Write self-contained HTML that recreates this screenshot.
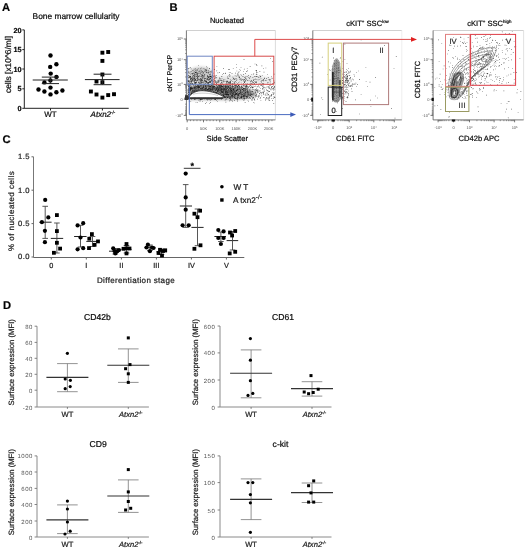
<!DOCTYPE html>
<html><head><meta charset="utf-8"><style>
html,body{margin:0;padding:0;background:#fff;}
body{width:526px;height:550px;overflow:hidden;}
svg{display:block;}
text{font-family:'Liberation Sans', sans-serif;stroke:#222;stroke-width:0.22px;}
text.t{stroke:none;}
svg{filter:blur(0.3px);text-rendering:geometricPrecision;}
</style></head><body>
<svg width="526" height="550" viewBox="0 0 526 550" font-family="'Liberation Sans', sans-serif">
<rect width="526" height="550" fill="#fff"/>
<text x="2.00" y="10.90" font-size="11.2" font-weight="bold">A</text>
<text x="32.60" y="19.30" font-size="8.37">Bone marrow cellularity</text>
<line x1="24.30" y1="29.90" x2="24.30" y2="108.60" stroke="#222" stroke-width="1"/>
<line x1="24.30" y1="108.30" x2="128.70" y2="108.30" stroke="#222" stroke-width="1"/>
<line x1="22.30" y1="29.90" x2="24.30" y2="29.90" stroke="#222" stroke-width="1"/>
<text x="21.60" y="32.50" font-size="7.3" text-anchor="end" font-weight="bold">20</text>
<line x1="22.30" y1="49.60" x2="24.30" y2="49.60" stroke="#222" stroke-width="1"/>
<text x="21.60" y="52.20" font-size="7.3" text-anchor="end" font-weight="bold">15</text>
<line x1="22.30" y1="69.00" x2="24.30" y2="69.00" stroke="#222" stroke-width="1"/>
<text x="21.60" y="71.60" font-size="7.3" text-anchor="end" font-weight="bold">10</text>
<line x1="22.30" y1="88.80" x2="24.30" y2="88.80" stroke="#222" stroke-width="1"/>
<text x="21.60" y="91.40" font-size="7.3" text-anchor="end" font-weight="bold">5</text>
<line x1="22.30" y1="108.30" x2="24.30" y2="108.30" stroke="#222" stroke-width="1"/>
<text x="21.60" y="110.90" font-size="7.3" text-anchor="end" font-weight="bold">0</text>
<line x1="50.50" y1="108.30" x2="50.50" y2="110.50" stroke="#222" stroke-width="1"/>
<line x1="102.40" y1="108.30" x2="102.40" y2="110.50" stroke="#222" stroke-width="1"/>
<text x="10.60" y="64.50" font-size="8.4" text-anchor="middle" transform="rotate(-90 10.60 64.50)">cells [x10^6/ml]</text>
<text x="50.50" y="117.30" font-size="8.0" text-anchor="middle">WT</text>
<text x="90.6" y="117.3" font-size="8.0" font-style="italic">Atxn2<tspan font-size="4.5" dy="-3.2" font-style="normal">-/-</tspan></text>
<circle cx="50.50" cy="55.50" r="2.2" fill="#000"/>
<circle cx="56.40" cy="64.20" r="2.2" fill="#000"/>
<circle cx="50.20" cy="66.90" r="2.2" fill="#000"/>
<circle cx="50.70" cy="73.60" r="2.2" fill="#000"/>
<circle cx="56.40" cy="76.90" r="2.2" fill="#000"/>
<circle cx="44.40" cy="82.40" r="2.2" fill="#000"/>
<circle cx="50.40" cy="80.40" r="2.2" fill="#000"/>
<circle cx="50.50" cy="87.60" r="2.2" fill="#000"/>
<circle cx="38.50" cy="89.50" r="2.2" fill="#000"/>
<circle cx="44.40" cy="91.50" r="2.2" fill="#000"/>
<circle cx="62.40" cy="90.50" r="2.2" fill="#000"/>
<circle cx="56.40" cy="92.20" r="2.2" fill="#000"/>
<circle cx="50.50" cy="94.40" r="2.2" fill="#000"/>
<line x1="32.70" y1="80.00" x2="67.80" y2="80.00" stroke="#222" stroke-width="1"/>
<line x1="41.80" y1="77.10" x2="59.00" y2="77.10" stroke="#222" stroke-width="1"/>
<line x1="41.80" y1="83.60" x2="59.00" y2="83.60" stroke="#222" stroke-width="1"/>
<line x1="50.40" y1="77.10" x2="50.40" y2="83.60" stroke="#222" stroke-width="1"/>
<rect x="100.45" y="50.75" width="3.9" height="3.9" fill="#000"/>
<rect x="106.25" y="50.05" width="3.9" height="3.9" fill="#000"/>
<rect x="100.45" y="58.95" width="3.9" height="3.9" fill="#000"/>
<rect x="100.45" y="72.55" width="3.9" height="3.9" fill="#000"/>
<rect x="94.55" y="79.55" width="3.9" height="3.9" fill="#000"/>
<rect x="100.45" y="80.25" width="3.9" height="3.9" fill="#000"/>
<rect x="88.95" y="89.55" width="3.9" height="3.9" fill="#000"/>
<rect x="94.55" y="92.55" width="3.9" height="3.9" fill="#000"/>
<rect x="100.45" y="95.65" width="3.9" height="3.9" fill="#000"/>
<rect x="106.25" y="93.15" width="3.9" height="3.9" fill="#000"/>
<rect x="112.05" y="92.25" width="3.9" height="3.9" fill="#000"/>
<line x1="84.90" y1="79.60" x2="119.60" y2="79.60" stroke="#222" stroke-width="1"/>
<line x1="93.60" y1="74.20" x2="111.50" y2="74.20" stroke="#222" stroke-width="1"/>
<line x1="93.60" y1="84.70" x2="111.50" y2="84.70" stroke="#222" stroke-width="1"/>
<line x1="102.40" y1="74.20" x2="102.40" y2="84.70" stroke="#222" stroke-width="1"/>
<text x="2.40" y="143.30" font-size="11.2" font-weight="bold">C</text>
<line x1="33.50" y1="156.80" x2="33.50" y2="257.50" stroke="#777" stroke-width="1"/>
<line x1="33.50" y1="257.50" x2="244.30" y2="257.50" stroke="#666" stroke-width="1"/>
<line x1="31.50" y1="257.00" x2="33.50" y2="257.00" stroke="#666" stroke-width="1"/>
<text x="30.00" y="259.40" font-size="7.6" text-anchor="end" fill="#222" letter-spacing="0.5">0.0</text>
<line x1="31.50" y1="223.60" x2="33.50" y2="223.60" stroke="#666" stroke-width="1"/>
<text x="30.00" y="226.00" font-size="7.6" text-anchor="end" fill="#222" letter-spacing="0.5">0.5</text>
<line x1="31.50" y1="190.20" x2="33.50" y2="190.20" stroke="#666" stroke-width="1"/>
<text x="30.00" y="192.60" font-size="7.6" text-anchor="end" fill="#222" letter-spacing="0.5">1.0</text>
<line x1="31.50" y1="156.80" x2="33.50" y2="156.80" stroke="#666" stroke-width="1"/>
<text x="30.00" y="159.20" font-size="7.6" text-anchor="end" fill="#222" letter-spacing="0.5">1.5</text>
<line x1="51.30" y1="257.50" x2="51.30" y2="259.50" stroke="#666" stroke-width="1"/>
<text x="51.30" y="268.30" font-size="7.3" text-anchor="middle" fill="#222">0</text>
<line x1="86.30" y1="257.50" x2="86.30" y2="259.50" stroke="#666" stroke-width="1"/>
<text x="86.30" y="268.30" font-size="7.3" text-anchor="middle" fill="#222">I</text>
<line x1="121.40" y1="257.50" x2="121.40" y2="259.50" stroke="#666" stroke-width="1"/>
<text x="121.40" y="268.30" font-size="7.3" text-anchor="middle" fill="#222">II</text>
<line x1="156.40" y1="257.50" x2="156.40" y2="259.50" stroke="#666" stroke-width="1"/>
<text x="156.40" y="268.30" font-size="7.3" text-anchor="middle" fill="#222">III</text>
<line x1="191.40" y1="257.50" x2="191.40" y2="259.50" stroke="#666" stroke-width="1"/>
<text x="191.40" y="268.30" font-size="7.3" text-anchor="middle" fill="#222">IV</text>
<line x1="226.40" y1="257.50" x2="226.40" y2="259.50" stroke="#666" stroke-width="1"/>
<text x="226.40" y="268.30" font-size="7.3" text-anchor="middle" fill="#222">V</text>
<text x="136.00" y="283.00" font-size="8.0" text-anchor="middle" fill="#222" letter-spacing="0.33">Differentiation stage</text>
<text x="14.40" y="210.90" font-size="8.0" text-anchor="middle" fill="#222" letter-spacing="0.45" transform="rotate(-90 14.40 210.90)">% of nucleated cells</text>
<line x1="39.40" y1="222.20" x2="51.60" y2="222.20" stroke="#222" stroke-width="1"/>
<line x1="45.20" y1="206.30" x2="45.20" y2="238.40" stroke="#444" stroke-width="0.9"/>
<line x1="42.40" y1="206.30" x2="48.00" y2="206.30" stroke="#444" stroke-width="0.9"/>
<line x1="42.40" y1="238.40" x2="48.00" y2="238.40" stroke="#444" stroke-width="0.9"/>
<circle cx="45.20" cy="199.90" r="2.1" fill="#000"/>
<circle cx="48.30" cy="217.40" r="2.1" fill="#000"/>
<circle cx="41.90" cy="222.20" r="2.1" fill="#000"/>
<circle cx="44.90" cy="230.80" r="2.1" fill="#000"/>
<circle cx="44.90" cy="242.20" r="2.1" fill="#000"/>
<line x1="50.80" y1="238.40" x2="63.20" y2="238.40" stroke="#222" stroke-width="1"/>
<line x1="56.90" y1="223.00" x2="56.90" y2="253.00" stroke="#444" stroke-width="0.9"/>
<line x1="54.10" y1="223.00" x2="59.70" y2="223.00" stroke="#444" stroke-width="0.9"/>
<line x1="54.10" y1="253.00" x2="59.70" y2="253.00" stroke="#444" stroke-width="0.9"/>
<rect x="55.00" y="213.20" width="3.8" height="3.8" fill="#000"/>
<rect x="55.00" y="229.20" width="3.8" height="3.8" fill="#000"/>
<rect x="55.00" y="240.90" width="3.8" height="3.8" fill="#000"/>
<rect x="58.20" y="246.70" width="3.8" height="3.8" fill="#000"/>
<rect x="52.00" y="250.90" width="3.8" height="3.8" fill="#000"/>
<line x1="74.10" y1="236.50" x2="86.60" y2="236.50" stroke="#222" stroke-width="1"/>
<line x1="80.50" y1="225.30" x2="80.50" y2="247.00" stroke="#444" stroke-width="0.9"/>
<line x1="77.70" y1="225.30" x2="83.30" y2="225.30" stroke="#444" stroke-width="0.9"/>
<line x1="77.70" y1="247.00" x2="83.30" y2="247.00" stroke="#444" stroke-width="0.9"/>
<circle cx="77.60" cy="225.40" r="2.1" fill="#000"/>
<circle cx="83.20" cy="223.20" r="2.1" fill="#000"/>
<circle cx="80.50" cy="237.50" r="2.1" fill="#000"/>
<circle cx="77.60" cy="249.30" r="2.1" fill="#000"/>
<circle cx="83.20" cy="248.20" r="2.1" fill="#000"/>
<line x1="86.30" y1="241.40" x2="98.40" y2="241.40" stroke="#222" stroke-width="1"/>
<line x1="92.50" y1="236.50" x2="92.50" y2="246.50" stroke="#444" stroke-width="0.9"/>
<line x1="89.70" y1="236.50" x2="95.30" y2="236.50" stroke="#444" stroke-width="0.9"/>
<line x1="89.70" y1="246.50" x2="95.30" y2="246.50" stroke="#444" stroke-width="0.9"/>
<rect x="90.00" y="232.20" width="3.8" height="3.8" fill="#000"/>
<rect x="87.40" y="236.80" width="3.8" height="3.8" fill="#000"/>
<rect x="96.10" y="239.50" width="3.8" height="3.8" fill="#000"/>
<rect x="92.70" y="242.90" width="3.8" height="3.8" fill="#000"/>
<rect x="87.10" y="246.20" width="3.8" height="3.8" fill="#000"/>
<line x1="109.00" y1="251.20" x2="120.00" y2="251.20" stroke="#222" stroke-width="1"/>
<line x1="115.30" y1="248.50" x2="115.30" y2="254.00" stroke="#444" stroke-width="0.9"/>
<line x1="112.50" y1="248.50" x2="118.10" y2="248.50" stroke="#444" stroke-width="0.9"/>
<line x1="112.50" y1="254.00" x2="118.10" y2="254.00" stroke="#444" stroke-width="0.9"/>
<circle cx="113.20" cy="248.30" r="2.1" fill="#000"/>
<circle cx="117.30" cy="251.20" r="2.1" fill="#000"/>
<circle cx="115.30" cy="253.40" r="2.1" fill="#000"/>
<circle cx="119.00" cy="250.00" r="2.1" fill="#000"/>
<circle cx="114.50" cy="251.00" r="2.1" fill="#000"/>
<line x1="121.50" y1="249.40" x2="131.50" y2="249.40" stroke="#222" stroke-width="1"/>
<line x1="126.50" y1="245.50" x2="126.50" y2="253.00" stroke="#444" stroke-width="0.9"/>
<line x1="123.70" y1="245.50" x2="129.30" y2="245.50" stroke="#444" stroke-width="0.9"/>
<line x1="123.70" y1="253.00" x2="129.30" y2="253.00" stroke="#444" stroke-width="0.9"/>
<rect x="124.60" y="242.10" width="3.8" height="3.8" fill="#000"/>
<rect x="124.60" y="246.40" width="3.8" height="3.8" fill="#000"/>
<rect x="121.60" y="246.90" width="3.8" height="3.8" fill="#000"/>
<rect x="127.60" y="246.60" width="3.8" height="3.8" fill="#000"/>
<rect x="124.60" y="251.50" width="3.8" height="3.8" fill="#000"/>
<line x1="144.50" y1="247.70" x2="155.50" y2="247.70" stroke="#222" stroke-width="1"/>
<line x1="149.90" y1="245.00" x2="149.90" y2="250.50" stroke="#444" stroke-width="0.9"/>
<line x1="147.10" y1="245.00" x2="152.70" y2="245.00" stroke="#444" stroke-width="0.9"/>
<line x1="147.10" y1="250.50" x2="152.70" y2="250.50" stroke="#444" stroke-width="0.9"/>
<circle cx="147.90" cy="244.70" r="2.1" fill="#000"/>
<circle cx="152.00" cy="247.50" r="2.1" fill="#000"/>
<circle cx="149.90" cy="251.20" r="2.1" fill="#000"/>
<circle cx="153.50" cy="248.00" r="2.1" fill="#000"/>
<circle cx="146.50" cy="247.50" r="2.1" fill="#000"/>
<line x1="156.50" y1="251.80" x2="167.00" y2="251.80" stroke="#222" stroke-width="1"/>
<line x1="161.50" y1="249.00" x2="161.50" y2="254.50" stroke="#444" stroke-width="0.9"/>
<line x1="158.70" y1="249.00" x2="164.30" y2="249.00" stroke="#444" stroke-width="0.9"/>
<line x1="158.70" y1="254.50" x2="164.30" y2="254.50" stroke="#444" stroke-width="0.9"/>
<rect x="158.10" y="247.90" width="3.8" height="3.8" fill="#000"/>
<rect x="161.10" y="249.10" width="3.8" height="3.8" fill="#000"/>
<rect x="160.10" y="253.60" width="3.8" height="3.8" fill="#000"/>
<rect x="163.30" y="248.40" width="3.8" height="3.8" fill="#000"/>
<rect x="156.60" y="251.10" width="3.8" height="3.8" fill="#000"/>
<line x1="179.80" y1="206.00" x2="192.00" y2="206.00" stroke="#222" stroke-width="1"/>
<line x1="185.70" y1="184.60" x2="185.70" y2="227.40" stroke="#444" stroke-width="0.9"/>
<line x1="182.90" y1="184.60" x2="188.50" y2="184.60" stroke="#444" stroke-width="0.9"/>
<line x1="182.90" y1="227.40" x2="188.50" y2="227.40" stroke="#444" stroke-width="0.9"/>
<circle cx="185.70" cy="173.60" r="2.1" fill="#000"/>
<circle cx="185.70" cy="197.40" r="2.1" fill="#000"/>
<circle cx="185.70" cy="209.70" r="2.1" fill="#000"/>
<circle cx="182.60" cy="225.30" r="2.1" fill="#000"/>
<circle cx="188.70" cy="225.30" r="2.1" fill="#000"/>
<line x1="191.40" y1="227.40" x2="203.60" y2="227.40" stroke="#222" stroke-width="1"/>
<line x1="197.50" y1="209.00" x2="197.50" y2="245.70" stroke="#444" stroke-width="0.9"/>
<line x1="194.70" y1="209.00" x2="200.30" y2="209.00" stroke="#444" stroke-width="0.9"/>
<line x1="194.70" y1="245.70" x2="200.30" y2="245.70" stroke="#444" stroke-width="0.9"/>
<rect x="192.50" y="211.80" width="3.8" height="3.8" fill="#000"/>
<rect x="198.20" y="208.80" width="3.8" height="3.8" fill="#000"/>
<rect x="195.60" y="215.30" width="3.8" height="3.8" fill="#000"/>
<rect x="198.60" y="243.40" width="3.8" height="3.8" fill="#000"/>
<rect x="192.50" y="246.90" width="3.8" height="3.8" fill="#000"/>
<line x1="214.40" y1="236.50" x2="226.00" y2="236.50" stroke="#222" stroke-width="1"/>
<line x1="220.90" y1="232.00" x2="220.90" y2="241.50" stroke="#444" stroke-width="0.9"/>
<line x1="218.10" y1="232.00" x2="223.70" y2="232.00" stroke="#444" stroke-width="0.9"/>
<line x1="218.10" y1="241.50" x2="223.70" y2="241.50" stroke="#444" stroke-width="0.9"/>
<circle cx="218.30" cy="230.00" r="2.1" fill="#000"/>
<circle cx="223.60" cy="231.40" r="2.1" fill="#000"/>
<circle cx="218.30" cy="238.00" r="2.1" fill="#000"/>
<circle cx="223.60" cy="238.00" r="2.1" fill="#000"/>
<circle cx="220.90" cy="244.00" r="2.1" fill="#000"/>
<line x1="226.60" y1="240.60" x2="238.20" y2="240.60" stroke="#222" stroke-width="1"/>
<line x1="232.50" y1="231.50" x2="232.50" y2="250.00" stroke="#444" stroke-width="0.9"/>
<line x1="229.70" y1="231.50" x2="235.30" y2="231.50" stroke="#444" stroke-width="0.9"/>
<line x1="229.70" y1="250.00" x2="235.30" y2="250.00" stroke="#444" stroke-width="0.9"/>
<rect x="228.10" y="230.60" width="3.8" height="3.8" fill="#000"/>
<rect x="233.30" y="229.10" width="3.8" height="3.8" fill="#000"/>
<rect x="230.20" y="233.60" width="3.8" height="3.8" fill="#000"/>
<rect x="233.30" y="249.90" width="3.8" height="3.8" fill="#000"/>
<rect x="227.80" y="251.50" width="3.8" height="3.8" fill="#000"/>
<line x1="183.80" y1="168.30" x2="200.50" y2="168.30" stroke="#222" stroke-width="0.9"/>
<text x="192.20" y="169.20" font-size="9.0" text-anchor="middle" font-weight="bold">*</text>
<circle cx="221.90" cy="186.80" r="1.8" fill="#000"/>
<rect x="220.20" y="198.30" width="3.4" height="3.4" fill="#000"/>
<text x="233.40" y="189.70" font-size="8.2" fill="#222">W T</text>
<text x="233.0" y="202.6" font-size="8.2" fill="#222">A txn2<tspan font-size="6" dy="-3.8" letter-spacing="0.3">-/-</tspan></text>
<text x="3.00" y="309.00" font-size="11.2" font-weight="bold">D</text>
<line x1="37.00" y1="326.20" x2="37.00" y2="407.00" stroke="#8a8a8a" stroke-width="1"/>
<line x1="37.00" y1="407.00" x2="148.90" y2="407.00" stroke="#8a8a8a" stroke-width="1"/>
<line x1="34.60" y1="326.20" x2="37.00" y2="326.20" stroke="#777" stroke-width="0.9"/>
<text x="33.00" y="328.70" font-size="6.0" text-anchor="end" fill="#555" letter-spacing="0.55" class="t">80</text>
<line x1="34.60" y1="342.40" x2="37.00" y2="342.40" stroke="#777" stroke-width="0.9"/>
<text x="33.00" y="344.90" font-size="6.0" text-anchor="end" fill="#555" letter-spacing="0.55" class="t">60</text>
<line x1="34.60" y1="358.30" x2="37.00" y2="358.30" stroke="#777" stroke-width="0.9"/>
<text x="33.00" y="360.80" font-size="6.0" text-anchor="end" fill="#555" letter-spacing="0.55" class="t">40</text>
<line x1="34.60" y1="374.30" x2="37.00" y2="374.30" stroke="#777" stroke-width="0.9"/>
<text x="33.00" y="376.80" font-size="6.0" text-anchor="end" fill="#555" letter-spacing="0.55" class="t">20</text>
<line x1="34.60" y1="390.20" x2="37.00" y2="390.20" stroke="#777" stroke-width="0.9"/>
<text x="33.00" y="392.70" font-size="6.0" text-anchor="end" fill="#555" letter-spacing="0.55" class="t">0</text>
<line x1="34.60" y1="407.00" x2="37.00" y2="407.00" stroke="#777" stroke-width="0.9"/>
<text x="33.00" y="409.50" font-size="6.0" text-anchor="end" fill="#555" letter-spacing="0.55" class="t">-20</text>
<line x1="67.40" y1="407.00" x2="67.40" y2="408.80" stroke="#777" stroke-width="1"/>
<line x1="128.30" y1="407.00" x2="128.30" y2="408.80" stroke="#777" stroke-width="1"/>
<text x="84.00" y="319.90" font-size="8.6">CD42b</text>
<text x="14.20" y="362.30" font-size="7.7" text-anchor="middle" fill="#222" transform="rotate(-90 14.20 362.30)">Surface expression (MFI)</text>
<text x="67.40" y="417.30" font-size="7.6" text-anchor="middle" fill="#222">WT</text>
<text x="119.00" y="417.30" font-size="7.6" font-style="italic" fill="#222">Atxn2<tspan font-size="4.3" dy="-3" font-style="normal">-/-</tspan></text>
<line x1="67.40" y1="363.60" x2="67.40" y2="391.70" stroke="#777" stroke-width="0.8"/>
<line x1="57.10" y1="363.60" x2="77.70" y2="363.60" stroke="#777" stroke-width="0.8"/>
<line x1="57.10" y1="391.70" x2="77.70" y2="391.70" stroke="#777" stroke-width="0.8"/>
<line x1="46.40" y1="377.40" x2="88.40" y2="377.40" stroke="#333" stroke-width="1.1"/>
<line x1="128.30" y1="348.90" x2="128.30" y2="382.40" stroke="#777" stroke-width="0.8"/>
<line x1="118.00" y1="348.90" x2="138.60" y2="348.90" stroke="#777" stroke-width="0.8"/>
<line x1="118.00" y1="382.40" x2="138.60" y2="382.40" stroke="#777" stroke-width="0.8"/>
<line x1="107.30" y1="365.30" x2="149.30" y2="365.30" stroke="#333" stroke-width="1.1"/>
<circle cx="67.40" cy="353.30" r="1.6" fill="#000"/>
<circle cx="65.20" cy="379.00" r="1.6" fill="#000"/>
<circle cx="70.40" cy="380.30" r="1.6" fill="#000"/>
<circle cx="70.20" cy="386.60" r="1.6" fill="#000"/>
<circle cx="65.20" cy="388.70" r="1.6" fill="#000"/>
<rect x="126.80" y="336.40" width="3.0" height="3.0" fill="#000"/>
<rect x="128.50" y="363.10" width="3.0" height="3.0" fill="#000"/>
<rect x="124.10" y="367.20" width="3.0" height="3.0" fill="#000"/>
<rect x="126.80" y="372.30" width="3.0" height="3.0" fill="#000"/>
<rect x="126.80" y="380.90" width="3.0" height="3.0" fill="#000"/>
<line x1="220.00" y1="326.00" x2="220.00" y2="407.00" stroke="#8a8a8a" stroke-width="1"/>
<line x1="220.00" y1="407.00" x2="331.50" y2="407.00" stroke="#8a8a8a" stroke-width="1"/>
<line x1="217.60" y1="326.00" x2="220.00" y2="326.00" stroke="#777" stroke-width="0.9"/>
<text x="215.40" y="328.50" font-size="6.0" text-anchor="end" fill="#555" letter-spacing="0.55" class="t">600</text>
<line x1="217.60" y1="352.90" x2="220.00" y2="352.90" stroke="#777" stroke-width="0.9"/>
<text x="215.40" y="355.40" font-size="6.0" text-anchor="end" fill="#555" letter-spacing="0.55" class="t">400</text>
<line x1="217.60" y1="380.00" x2="220.00" y2="380.00" stroke="#777" stroke-width="0.9"/>
<text x="215.40" y="382.50" font-size="6.0" text-anchor="end" fill="#555" letter-spacing="0.55" class="t">200</text>
<line x1="217.60" y1="407.00" x2="220.00" y2="407.00" stroke="#777" stroke-width="0.9"/>
<text x="215.40" y="409.50" font-size="6.0" text-anchor="end" fill="#555" letter-spacing="0.55" class="t">0</text>
<line x1="251.10" y1="407.00" x2="251.10" y2="408.80" stroke="#777" stroke-width="1"/>
<line x1="312.00" y1="407.00" x2="312.00" y2="408.80" stroke="#777" stroke-width="1"/>
<text x="272.00" y="320.20" font-size="8.6">CD61</text>
<text x="197.80" y="362.20" font-size="7.7" text-anchor="middle" fill="#222" transform="rotate(-90 197.80 362.20)">Surface expression (MFI)</text>
<text x="251.10" y="417.30" font-size="7.6" text-anchor="middle" fill="#222">WT</text>
<text x="302.70" y="417.30" font-size="7.6" font-style="italic" fill="#222">Atxn2<tspan font-size="4.3" dy="-3" font-style="normal">-/-</tspan></text>
<line x1="251.10" y1="349.90" x2="251.10" y2="397.80" stroke="#777" stroke-width="0.8"/>
<line x1="240.80" y1="349.90" x2="261.40" y2="349.90" stroke="#777" stroke-width="0.8"/>
<line x1="240.80" y1="397.80" x2="261.40" y2="397.80" stroke="#777" stroke-width="0.8"/>
<line x1="230.10" y1="373.20" x2="272.10" y2="373.20" stroke="#333" stroke-width="1.1"/>
<line x1="312.00" y1="381.70" x2="312.00" y2="396.10" stroke="#777" stroke-width="0.8"/>
<line x1="301.70" y1="381.70" x2="322.30" y2="381.70" stroke="#777" stroke-width="0.8"/>
<line x1="301.70" y1="396.10" x2="322.30" y2="396.10" stroke="#777" stroke-width="0.8"/>
<line x1="291.00" y1="388.60" x2="333.00" y2="388.60" stroke="#333" stroke-width="1.1"/>
<circle cx="250.40" cy="338.60" r="1.6" fill="#000"/>
<circle cx="250.40" cy="360.20" r="1.6" fill="#000"/>
<circle cx="250.40" cy="380.70" r="1.6" fill="#000"/>
<circle cx="252.80" cy="393.40" r="1.6" fill="#000"/>
<circle cx="248.00" cy="395.40" r="1.6" fill="#000"/>
<rect x="309.50" y="374.10" width="3.0" height="3.0" fill="#000"/>
<rect x="302.70" y="390.50" width="3.0" height="3.0" fill="#000"/>
<rect x="307.10" y="392.20" width="3.0" height="3.0" fill="#000"/>
<rect x="311.70" y="391.00" width="3.0" height="3.0" fill="#000"/>
<rect x="316.70" y="387.70" width="3.0" height="3.0" fill="#000"/>
<line x1="37.00" y1="455.90" x2="37.00" y2="537.00" stroke="#8a8a8a" stroke-width="1"/>
<line x1="37.00" y1="537.00" x2="148.90" y2="537.00" stroke="#8a8a8a" stroke-width="1"/>
<line x1="34.60" y1="455.90" x2="37.00" y2="455.90" stroke="#777" stroke-width="0.9"/>
<text x="33.00" y="458.40" font-size="6.0" text-anchor="end" fill="#555" letter-spacing="0.55" class="t">1000</text>
<line x1="34.60" y1="472.00" x2="37.00" y2="472.00" stroke="#777" stroke-width="0.9"/>
<text x="33.00" y="474.50" font-size="6.0" text-anchor="end" fill="#555" letter-spacing="0.55" class="t">800</text>
<line x1="34.60" y1="488.40" x2="37.00" y2="488.40" stroke="#777" stroke-width="0.9"/>
<text x="33.00" y="490.90" font-size="6.0" text-anchor="end" fill="#555" letter-spacing="0.55" class="t">600</text>
<line x1="34.60" y1="504.50" x2="37.00" y2="504.50" stroke="#777" stroke-width="0.9"/>
<text x="33.00" y="507.00" font-size="6.0" text-anchor="end" fill="#555" letter-spacing="0.55" class="t">400</text>
<line x1="34.60" y1="521.00" x2="37.00" y2="521.00" stroke="#777" stroke-width="0.9"/>
<text x="33.00" y="523.50" font-size="6.0" text-anchor="end" fill="#555" letter-spacing="0.55" class="t">200</text>
<line x1="34.60" y1="537.00" x2="37.00" y2="537.00" stroke="#777" stroke-width="0.9"/>
<text x="33.00" y="539.50" font-size="6.0" text-anchor="end" fill="#555" letter-spacing="0.55" class="t">0</text>
<line x1="67.40" y1="537.00" x2="67.40" y2="538.80" stroke="#777" stroke-width="1"/>
<line x1="128.30" y1="537.00" x2="128.30" y2="538.80" stroke="#777" stroke-width="1"/>
<text x="89.50" y="446.90" font-size="8.6">CD9</text>
<text x="14.20" y="492.15" font-size="7.7" text-anchor="middle" fill="#222" transform="rotate(-90 14.20 492.15)">Surface expression (MFI)</text>
<text x="67.40" y="547.30" font-size="7.6" text-anchor="middle" fill="#222">WT</text>
<text x="119.00" y="547.30" font-size="7.6" font-style="italic" fill="#222">Atxn2<tspan font-size="4.3" dy="-3" font-style="normal">-/-</tspan></text>
<line x1="67.40" y1="504.90" x2="67.40" y2="533.60" stroke="#777" stroke-width="0.8"/>
<line x1="57.10" y1="504.90" x2="77.70" y2="504.90" stroke="#777" stroke-width="0.8"/>
<line x1="57.10" y1="533.60" x2="77.70" y2="533.60" stroke="#777" stroke-width="0.8"/>
<line x1="46.40" y1="519.90" x2="88.40" y2="519.90" stroke="#333" stroke-width="1.1"/>
<line x1="128.30" y1="479.90" x2="128.30" y2="512.40" stroke="#777" stroke-width="0.8"/>
<line x1="118.00" y1="479.90" x2="138.60" y2="479.90" stroke="#777" stroke-width="0.8"/>
<line x1="118.00" y1="512.40" x2="138.60" y2="512.40" stroke="#777" stroke-width="0.8"/>
<line x1="107.30" y1="496.00" x2="149.30" y2="496.00" stroke="#333" stroke-width="1.1"/>
<circle cx="67.40" cy="501.10" r="1.6" fill="#000"/>
<circle cx="67.40" cy="509.00" r="1.6" fill="#000"/>
<circle cx="67.40" cy="522.00" r="1.6" fill="#000"/>
<circle cx="70.20" cy="531.20" r="1.6" fill="#000"/>
<circle cx="65.00" cy="534.00" r="1.6" fill="#000"/>
<rect x="126.80" y="468.10" width="3.0" height="3.0" fill="#000"/>
<rect x="126.80" y="490.40" width="3.0" height="3.0" fill="#000"/>
<rect x="126.80" y="500.00" width="3.0" height="3.0" fill="#000"/>
<rect x="129.20" y="506.80" width="3.0" height="3.0" fill="#000"/>
<rect x="124.10" y="508.50" width="3.0" height="3.0" fill="#000"/>
<line x1="220.00" y1="455.90" x2="220.00" y2="537.00" stroke="#8a8a8a" stroke-width="1"/>
<line x1="220.00" y1="537.00" x2="331.50" y2="537.00" stroke="#8a8a8a" stroke-width="1"/>
<line x1="217.60" y1="455.90" x2="220.00" y2="455.90" stroke="#777" stroke-width="0.9"/>
<text x="215.40" y="458.40" font-size="6.0" text-anchor="end" fill="#555" letter-spacing="0.55" class="t">150</text>
<line x1="217.60" y1="482.60" x2="220.00" y2="482.60" stroke="#777" stroke-width="0.9"/>
<text x="215.40" y="485.10" font-size="6.0" text-anchor="end" fill="#555" letter-spacing="0.55" class="t">100</text>
<line x1="217.60" y1="510.00" x2="220.00" y2="510.00" stroke="#777" stroke-width="0.9"/>
<text x="215.40" y="512.50" font-size="6.0" text-anchor="end" fill="#555" letter-spacing="0.55" class="t">50</text>
<line x1="217.60" y1="537.00" x2="220.00" y2="537.00" stroke="#777" stroke-width="0.9"/>
<text x="215.40" y="539.50" font-size="6.0" text-anchor="end" fill="#555" letter-spacing="0.55" class="t">0</text>
<line x1="251.10" y1="537.00" x2="251.10" y2="538.80" stroke="#777" stroke-width="1"/>
<line x1="312.00" y1="537.00" x2="312.00" y2="538.80" stroke="#777" stroke-width="1"/>
<text x="272.60" y="446.90" font-size="8.6">c-kit</text>
<text x="197.80" y="492.15" font-size="7.7" text-anchor="middle" fill="#222" transform="rotate(-90 197.80 492.15)">Surface expression (MFI)</text>
<text x="251.10" y="547.30" font-size="7.6" text-anchor="middle" fill="#222">WT</text>
<text x="302.70" y="547.30" font-size="7.6" font-style="italic" fill="#222">Atxn2<tspan font-size="4.3" dy="-3" font-style="normal">-/-</tspan></text>
<line x1="251.10" y1="478.90" x2="251.10" y2="519.60" stroke="#777" stroke-width="0.8"/>
<line x1="240.80" y1="478.90" x2="261.40" y2="478.90" stroke="#777" stroke-width="0.8"/>
<line x1="240.80" y1="519.60" x2="261.40" y2="519.60" stroke="#777" stroke-width="0.8"/>
<line x1="230.10" y1="499.40" x2="272.10" y2="499.40" stroke="#333" stroke-width="1.1"/>
<line x1="312.00" y1="483.00" x2="312.00" y2="502.50" stroke="#777" stroke-width="0.8"/>
<line x1="301.70" y1="483.00" x2="322.30" y2="483.00" stroke="#777" stroke-width="0.8"/>
<line x1="301.70" y1="502.50" x2="322.30" y2="502.50" stroke="#777" stroke-width="0.8"/>
<line x1="291.00" y1="492.60" x2="333.00" y2="492.60" stroke="#333" stroke-width="1.1"/>
<circle cx="248.00" cy="482.60" r="1.6" fill="#000"/>
<circle cx="252.80" cy="482.60" r="1.6" fill="#000"/>
<circle cx="250.40" cy="494.60" r="1.6" fill="#000"/>
<circle cx="250.40" cy="502.80" r="1.6" fill="#000"/>
<circle cx="250.40" cy="532.30" r="1.6" fill="#000"/>
<rect x="307.10" y="484.20" width="3.0" height="3.0" fill="#000"/>
<rect x="312.20" y="479.40" width="3.0" height="3.0" fill="#000"/>
<rect x="309.50" y="491.40" width="3.0" height="3.0" fill="#000"/>
<rect x="307.10" y="500.60" width="3.0" height="3.0" fill="#000"/>
<rect x="312.20" y="500.60" width="3.0" height="3.0" fill="#000"/>
<text x="169.40" y="10.60" font-size="11.2" font-weight="bold">B</text>
<line x1="186.40" y1="30.50" x2="275.40" y2="30.50" stroke="#bbb" stroke-width="0.7"/>
<line x1="275.40" y1="30.50" x2="275.40" y2="119.90" stroke="#ccc" stroke-width="0.7"/>
<line x1="186.40" y1="30.50" x2="186.40" y2="119.90" stroke="#555" stroke-width="0.8"/>
<line x1="186.40" y1="119.90" x2="275.40" y2="119.90" stroke="#555" stroke-width="0.8"/>
<line x1="183.80" y1="39.00" x2="186.40" y2="39.00" stroke="#555" stroke-width="0.8"/>
<line x1="183.80" y1="59.70" x2="186.40" y2="59.70" stroke="#555" stroke-width="0.8"/>
<line x1="183.80" y1="84.40" x2="186.40" y2="84.40" stroke="#555" stroke-width="0.8"/>
<line x1="183.80" y1="99.30" x2="186.40" y2="99.30" stroke="#555" stroke-width="0.8"/>
<line x1="183.80" y1="115.40" x2="186.40" y2="115.40" stroke="#555" stroke-width="0.8"/>
<line x1="185.10" y1="53.47" x2="186.40" y2="53.47" stroke="#555" stroke-width="0.6"/>
<line x1="185.10" y1="49.82" x2="186.40" y2="49.82" stroke="#555" stroke-width="0.6"/>
<line x1="185.10" y1="47.24" x2="186.40" y2="47.24" stroke="#555" stroke-width="0.6"/>
<line x1="185.10" y1="45.23" x2="186.40" y2="45.23" stroke="#555" stroke-width="0.6"/>
<line x1="185.10" y1="43.59" x2="186.40" y2="43.59" stroke="#555" stroke-width="0.6"/>
<line x1="185.10" y1="42.21" x2="186.40" y2="42.21" stroke="#555" stroke-width="0.6"/>
<line x1="185.10" y1="41.01" x2="186.40" y2="41.01" stroke="#555" stroke-width="0.6"/>
<line x1="185.10" y1="39.95" x2="186.40" y2="39.95" stroke="#555" stroke-width="0.6"/>
<line x1="185.10" y1="76.96" x2="186.40" y2="76.96" stroke="#555" stroke-width="0.6"/>
<line x1="185.10" y1="72.62" x2="186.40" y2="72.62" stroke="#555" stroke-width="0.6"/>
<line x1="185.10" y1="69.53" x2="186.40" y2="69.53" stroke="#555" stroke-width="0.6"/>
<line x1="185.10" y1="67.14" x2="186.40" y2="67.14" stroke="#555" stroke-width="0.6"/>
<line x1="185.10" y1="65.18" x2="186.40" y2="65.18" stroke="#555" stroke-width="0.6"/>
<line x1="185.10" y1="63.53" x2="186.40" y2="63.53" stroke="#555" stroke-width="0.6"/>
<line x1="185.10" y1="62.09" x2="186.40" y2="62.09" stroke="#555" stroke-width="0.6"/>
<line x1="185.10" y1="60.83" x2="186.40" y2="60.83" stroke="#555" stroke-width="0.6"/>
<line x1="185.10" y1="94.81" x2="186.40" y2="94.81" stroke="#555" stroke-width="0.6"/>
<line x1="185.10" y1="104.15" x2="186.40" y2="104.15" stroke="#555" stroke-width="0.6"/>
<line x1="185.10" y1="92.19" x2="186.40" y2="92.19" stroke="#555" stroke-width="0.6"/>
<line x1="185.10" y1="106.98" x2="186.40" y2="106.98" stroke="#555" stroke-width="0.6"/>
<line x1="185.10" y1="90.33" x2="186.40" y2="90.33" stroke="#555" stroke-width="0.6"/>
<line x1="185.10" y1="108.99" x2="186.40" y2="108.99" stroke="#555" stroke-width="0.6"/>
<line x1="185.10" y1="88.89" x2="186.40" y2="88.89" stroke="#555" stroke-width="0.6"/>
<line x1="185.10" y1="110.55" x2="186.40" y2="110.55" stroke="#555" stroke-width="0.6"/>
<line x1="185.10" y1="87.71" x2="186.40" y2="87.71" stroke="#555" stroke-width="0.6"/>
<line x1="185.10" y1="111.83" x2="186.40" y2="111.83" stroke="#555" stroke-width="0.6"/>
<line x1="185.10" y1="86.71" x2="186.40" y2="86.71" stroke="#555" stroke-width="0.6"/>
<line x1="185.10" y1="112.91" x2="186.40" y2="112.91" stroke="#555" stroke-width="0.6"/>
<line x1="185.10" y1="85.84" x2="186.40" y2="85.84" stroke="#555" stroke-width="0.6"/>
<line x1="185.10" y1="113.84" x2="186.40" y2="113.84" stroke="#555" stroke-width="0.6"/>
<line x1="185.10" y1="85.08" x2="186.40" y2="85.08" stroke="#555" stroke-width="0.6"/>
<line x1="185.10" y1="114.66" x2="186.40" y2="114.66" stroke="#555" stroke-width="0.6"/>
<text x="182.80" y="40.40" font-size="4.0" text-anchor="end" fill="#555" class="t">10<tspan font-size="2.6" dy="-1.6">5</tspan></text>
<text x="182.80" y="61.10" font-size="4.0" text-anchor="end" fill="#555" class="t">10<tspan font-size="2.6" dy="-1.6">4</tspan></text>
<text x="182.80" y="85.80" font-size="4.0" text-anchor="end" fill="#555" class="t">10<tspan font-size="2.6" dy="-1.6">3</tspan></text>
<text x="182.80" y="100.60" font-size="4.0" text-anchor="end" fill="#555" class="t">0</text>
<text x="182.80" y="116.80" font-size="4.0" text-anchor="end" fill="#555" class="t">-10<tspan font-size="2.6" dy="-1.6">3</tspan></text>
<line x1="187.20" y1="119.90" x2="187.20" y2="122.30" stroke="#555" stroke-width="0.8"/>
<line x1="190.46" y1="119.90" x2="190.46" y2="121.20" stroke="#555" stroke-width="0.6"/>
<line x1="193.72" y1="119.90" x2="193.72" y2="121.20" stroke="#555" stroke-width="0.6"/>
<line x1="196.98" y1="119.90" x2="196.98" y2="121.20" stroke="#555" stroke-width="0.6"/>
<line x1="200.24" y1="119.90" x2="200.24" y2="121.20" stroke="#555" stroke-width="0.6"/>
<line x1="203.50" y1="119.90" x2="203.50" y2="122.30" stroke="#555" stroke-width="0.8"/>
<line x1="206.76" y1="119.90" x2="206.76" y2="121.20" stroke="#555" stroke-width="0.6"/>
<line x1="210.02" y1="119.90" x2="210.02" y2="121.20" stroke="#555" stroke-width="0.6"/>
<line x1="213.28" y1="119.90" x2="213.28" y2="121.20" stroke="#555" stroke-width="0.6"/>
<line x1="216.54" y1="119.90" x2="216.54" y2="121.20" stroke="#555" stroke-width="0.6"/>
<line x1="219.80" y1="119.90" x2="219.80" y2="122.30" stroke="#555" stroke-width="0.8"/>
<line x1="223.06" y1="119.90" x2="223.06" y2="121.20" stroke="#555" stroke-width="0.6"/>
<line x1="226.32" y1="119.90" x2="226.32" y2="121.20" stroke="#555" stroke-width="0.6"/>
<line x1="229.58" y1="119.90" x2="229.58" y2="121.20" stroke="#555" stroke-width="0.6"/>
<line x1="232.84" y1="119.90" x2="232.84" y2="121.20" stroke="#555" stroke-width="0.6"/>
<line x1="236.10" y1="119.90" x2="236.10" y2="122.30" stroke="#555" stroke-width="0.8"/>
<line x1="239.36" y1="119.90" x2="239.36" y2="121.20" stroke="#555" stroke-width="0.6"/>
<line x1="242.62" y1="119.90" x2="242.62" y2="121.20" stroke="#555" stroke-width="0.6"/>
<line x1="245.88" y1="119.90" x2="245.88" y2="121.20" stroke="#555" stroke-width="0.6"/>
<line x1="249.14" y1="119.90" x2="249.14" y2="121.20" stroke="#555" stroke-width="0.6"/>
<line x1="252.40" y1="119.90" x2="252.40" y2="122.30" stroke="#555" stroke-width="0.8"/>
<line x1="255.66" y1="119.90" x2="255.66" y2="121.20" stroke="#555" stroke-width="0.6"/>
<line x1="258.92" y1="119.90" x2="258.92" y2="121.20" stroke="#555" stroke-width="0.6"/>
<line x1="262.18" y1="119.90" x2="262.18" y2="121.20" stroke="#555" stroke-width="0.6"/>
<line x1="265.44" y1="119.90" x2="265.44" y2="121.20" stroke="#555" stroke-width="0.6"/>
<line x1="268.70" y1="119.90" x2="268.70" y2="122.30" stroke="#555" stroke-width="0.8"/>
<line x1="271.96" y1="119.90" x2="271.96" y2="121.20" stroke="#555" stroke-width="0.6"/>
<text x="187.20" y="129.60" font-size="4.0" text-anchor="middle" fill="#555" class="t">0</text>
<text x="203.50" y="129.60" font-size="4.0" text-anchor="middle" fill="#555" class="t">50K</text>
<text x="219.80" y="129.60" font-size="4.0" text-anchor="middle" fill="#555" class="t">100K</text>
<text x="236.10" y="129.60" font-size="4.0" text-anchor="middle" fill="#555" class="t">150K</text>
<text x="252.40" y="129.60" font-size="4.0" text-anchor="middle" fill="#555" class="t">200K</text>
<text x="268.70" y="129.60" font-size="4.0" text-anchor="middle" fill="#555" class="t">250K</text>
<text x="227.00" y="23.30" font-size="7.6" text-anchor="middle">Nucleated</text>
<text x="172.20" y="73.30" font-size="7.0" text-anchor="middle" transform="rotate(-90 172.20 73.30)">cKIT PerCP</text>
<text x="227.30" y="141.30" font-size="7.6" text-anchor="middle">Side Scatter</text>
<line x1="312.80" y1="30.50" x2="401.80" y2="30.50" stroke="#bbb" stroke-width="0.7"/>
<line x1="401.80" y1="30.50" x2="401.80" y2="119.90" stroke="#e6e6e6" stroke-width="0.7"/>
<line x1="312.80" y1="30.50" x2="312.80" y2="119.90" stroke="#555" stroke-width="0.8"/>
<line x1="312.80" y1="119.90" x2="401.80" y2="119.90" stroke="#555" stroke-width="0.8"/>
<line x1="310.20" y1="39.00" x2="312.80" y2="39.00" stroke="#555" stroke-width="0.8"/>
<line x1="310.20" y1="59.70" x2="312.80" y2="59.70" stroke="#555" stroke-width="0.8"/>
<line x1="310.20" y1="84.40" x2="312.80" y2="84.40" stroke="#555" stroke-width="0.8"/>
<line x1="310.20" y1="99.30" x2="312.80" y2="99.30" stroke="#555" stroke-width="0.8"/>
<line x1="310.20" y1="115.40" x2="312.80" y2="115.40" stroke="#555" stroke-width="0.8"/>
<line x1="311.50" y1="53.47" x2="312.80" y2="53.47" stroke="#555" stroke-width="0.6"/>
<line x1="311.50" y1="49.82" x2="312.80" y2="49.82" stroke="#555" stroke-width="0.6"/>
<line x1="311.50" y1="47.24" x2="312.80" y2="47.24" stroke="#555" stroke-width="0.6"/>
<line x1="311.50" y1="45.23" x2="312.80" y2="45.23" stroke="#555" stroke-width="0.6"/>
<line x1="311.50" y1="43.59" x2="312.80" y2="43.59" stroke="#555" stroke-width="0.6"/>
<line x1="311.50" y1="42.21" x2="312.80" y2="42.21" stroke="#555" stroke-width="0.6"/>
<line x1="311.50" y1="41.01" x2="312.80" y2="41.01" stroke="#555" stroke-width="0.6"/>
<line x1="311.50" y1="39.95" x2="312.80" y2="39.95" stroke="#555" stroke-width="0.6"/>
<line x1="311.50" y1="76.96" x2="312.80" y2="76.96" stroke="#555" stroke-width="0.6"/>
<line x1="311.50" y1="72.62" x2="312.80" y2="72.62" stroke="#555" stroke-width="0.6"/>
<line x1="311.50" y1="69.53" x2="312.80" y2="69.53" stroke="#555" stroke-width="0.6"/>
<line x1="311.50" y1="67.14" x2="312.80" y2="67.14" stroke="#555" stroke-width="0.6"/>
<line x1="311.50" y1="65.18" x2="312.80" y2="65.18" stroke="#555" stroke-width="0.6"/>
<line x1="311.50" y1="63.53" x2="312.80" y2="63.53" stroke="#555" stroke-width="0.6"/>
<line x1="311.50" y1="62.09" x2="312.80" y2="62.09" stroke="#555" stroke-width="0.6"/>
<line x1="311.50" y1="60.83" x2="312.80" y2="60.83" stroke="#555" stroke-width="0.6"/>
<line x1="311.50" y1="94.81" x2="312.80" y2="94.81" stroke="#555" stroke-width="0.6"/>
<line x1="311.50" y1="104.15" x2="312.80" y2="104.15" stroke="#555" stroke-width="0.6"/>
<line x1="311.50" y1="92.19" x2="312.80" y2="92.19" stroke="#555" stroke-width="0.6"/>
<line x1="311.50" y1="106.98" x2="312.80" y2="106.98" stroke="#555" stroke-width="0.6"/>
<line x1="311.50" y1="90.33" x2="312.80" y2="90.33" stroke="#555" stroke-width="0.6"/>
<line x1="311.50" y1="108.99" x2="312.80" y2="108.99" stroke="#555" stroke-width="0.6"/>
<line x1="311.50" y1="88.89" x2="312.80" y2="88.89" stroke="#555" stroke-width="0.6"/>
<line x1="311.50" y1="110.55" x2="312.80" y2="110.55" stroke="#555" stroke-width="0.6"/>
<line x1="311.50" y1="87.71" x2="312.80" y2="87.71" stroke="#555" stroke-width="0.6"/>
<line x1="311.50" y1="111.83" x2="312.80" y2="111.83" stroke="#555" stroke-width="0.6"/>
<line x1="311.50" y1="86.71" x2="312.80" y2="86.71" stroke="#555" stroke-width="0.6"/>
<line x1="311.50" y1="112.91" x2="312.80" y2="112.91" stroke="#555" stroke-width="0.6"/>
<line x1="311.50" y1="85.84" x2="312.80" y2="85.84" stroke="#555" stroke-width="0.6"/>
<line x1="311.50" y1="113.84" x2="312.80" y2="113.84" stroke="#555" stroke-width="0.6"/>
<line x1="311.50" y1="85.08" x2="312.80" y2="85.08" stroke="#555" stroke-width="0.6"/>
<line x1="311.50" y1="114.66" x2="312.80" y2="114.66" stroke="#555" stroke-width="0.6"/>
<text x="309.20" y="40.40" font-size="4.0" text-anchor="end" fill="#555" class="t">10<tspan font-size="2.6" dy="-1.6">5</tspan></text>
<text x="309.20" y="61.10" font-size="4.0" text-anchor="end" fill="#555" class="t">10<tspan font-size="2.6" dy="-1.6">4</tspan></text>
<text x="309.20" y="85.80" font-size="4.0" text-anchor="end" fill="#555" class="t">10<tspan font-size="2.6" dy="-1.6">3</tspan></text>
<text x="309.20" y="100.60" font-size="4.0" text-anchor="end" fill="#555" class="t">0</text>
<text x="309.20" y="116.80" font-size="4.0" text-anchor="end" fill="#555" class="t">-10<tspan font-size="2.6" dy="-1.6">3</tspan></text>
<line x1="317.80" y1="119.90" x2="317.80" y2="122.30" stroke="#555" stroke-width="0.8"/>
<line x1="333.20" y1="119.90" x2="333.20" y2="122.30" stroke="#555" stroke-width="0.8"/>
<line x1="349.20" y1="119.90" x2="349.20" y2="122.30" stroke="#555" stroke-width="0.8"/>
<line x1="373.80" y1="119.90" x2="373.80" y2="122.30" stroke="#555" stroke-width="0.8"/>
<line x1="394.30" y1="119.90" x2="394.30" y2="122.30" stroke="#555" stroke-width="0.8"/>
<line x1="356.61" y1="119.90" x2="356.61" y2="121.20" stroke="#555" stroke-width="0.6"/>
<line x1="360.94" y1="119.90" x2="360.94" y2="121.20" stroke="#555" stroke-width="0.6"/>
<line x1="364.01" y1="119.90" x2="364.01" y2="121.20" stroke="#555" stroke-width="0.6"/>
<line x1="366.39" y1="119.90" x2="366.39" y2="121.20" stroke="#555" stroke-width="0.6"/>
<line x1="368.34" y1="119.90" x2="368.34" y2="121.20" stroke="#555" stroke-width="0.6"/>
<line x1="369.99" y1="119.90" x2="369.99" y2="121.20" stroke="#555" stroke-width="0.6"/>
<line x1="371.42" y1="119.90" x2="371.42" y2="121.20" stroke="#555" stroke-width="0.6"/>
<line x1="372.67" y1="119.90" x2="372.67" y2="121.20" stroke="#555" stroke-width="0.6"/>
<line x1="379.97" y1="119.90" x2="379.97" y2="121.20" stroke="#555" stroke-width="0.6"/>
<line x1="383.58" y1="119.90" x2="383.58" y2="121.20" stroke="#555" stroke-width="0.6"/>
<line x1="386.14" y1="119.90" x2="386.14" y2="121.20" stroke="#555" stroke-width="0.6"/>
<line x1="388.13" y1="119.90" x2="388.13" y2="121.20" stroke="#555" stroke-width="0.6"/>
<line x1="389.75" y1="119.90" x2="389.75" y2="121.20" stroke="#555" stroke-width="0.6"/>
<line x1="391.12" y1="119.90" x2="391.12" y2="121.20" stroke="#555" stroke-width="0.6"/>
<line x1="392.31" y1="119.90" x2="392.31" y2="121.20" stroke="#555" stroke-width="0.6"/>
<line x1="393.36" y1="119.90" x2="393.36" y2="121.20" stroke="#555" stroke-width="0.6"/>
<line x1="338.02" y1="119.90" x2="338.02" y2="121.20" stroke="#555" stroke-width="0.6"/>
<line x1="328.56" y1="119.90" x2="328.56" y2="121.20" stroke="#555" stroke-width="0.6"/>
<line x1="340.83" y1="119.90" x2="340.83" y2="121.20" stroke="#555" stroke-width="0.6"/>
<line x1="325.85" y1="119.90" x2="325.85" y2="121.20" stroke="#555" stroke-width="0.6"/>
<line x1="342.83" y1="119.90" x2="342.83" y2="121.20" stroke="#555" stroke-width="0.6"/>
<line x1="323.93" y1="119.90" x2="323.93" y2="121.20" stroke="#555" stroke-width="0.6"/>
<line x1="344.38" y1="119.90" x2="344.38" y2="121.20" stroke="#555" stroke-width="0.6"/>
<line x1="322.44" y1="119.90" x2="322.44" y2="121.20" stroke="#555" stroke-width="0.6"/>
<line x1="345.65" y1="119.90" x2="345.65" y2="121.20" stroke="#555" stroke-width="0.6"/>
<line x1="321.22" y1="119.90" x2="321.22" y2="121.20" stroke="#555" stroke-width="0.6"/>
<line x1="346.72" y1="119.90" x2="346.72" y2="121.20" stroke="#555" stroke-width="0.6"/>
<line x1="320.19" y1="119.90" x2="320.19" y2="121.20" stroke="#555" stroke-width="0.6"/>
<line x1="347.65" y1="119.90" x2="347.65" y2="121.20" stroke="#555" stroke-width="0.6"/>
<line x1="319.29" y1="119.90" x2="319.29" y2="121.20" stroke="#555" stroke-width="0.6"/>
<line x1="348.47" y1="119.90" x2="348.47" y2="121.20" stroke="#555" stroke-width="0.6"/>
<line x1="318.50" y1="119.90" x2="318.50" y2="121.20" stroke="#555" stroke-width="0.6"/>
<text x="317.80" y="129.40" font-size="4.0" text-anchor="middle" fill="#555" class="t">-10<tspan font-size="2.6" dy="-1.6">3</tspan></text>
<text x="349.20" y="129.40" font-size="4.0" text-anchor="middle" fill="#555" class="t">10<tspan font-size="2.6" dy="-1.6">3</tspan></text>
<text x="373.80" y="129.40" font-size="4.0" text-anchor="middle" fill="#555" class="t">10<tspan font-size="2.6" dy="-1.6">4</tspan></text>
<text x="394.30" y="129.40" font-size="4.0" text-anchor="middle" fill="#555" class="t">10<tspan font-size="2.6" dy="-1.6">5</tspan></text>
<text x="333.20" y="129.40" font-size="4.0" text-anchor="middle" fill="#555" class="t">0</text>
<text x="367.5" y="25.6" font-size="7.6" text-anchor="middle">cKIT<tspan font-size="4.4" dy="-3">+</tspan><tspan dy="3"> SSC</tspan><tspan font-size="4.4" dy="-3">low</tspan></text>
<text x="296.90" y="69.50" font-size="7.7" text-anchor="middle" transform="rotate(-90 296.90 69.50)">CD31 PECy7</text>
<text x="355.30" y="141.30" font-size="7.6" text-anchor="middle">CD61 FITC</text>
<line x1="433.10" y1="30.50" x2="523.60" y2="30.50" stroke="#bbb" stroke-width="0.7"/>
<line x1="523.60" y1="30.50" x2="523.60" y2="119.90" stroke="#d4d4d4" stroke-width="0.7"/>
<line x1="433.10" y1="30.50" x2="433.10" y2="119.90" stroke="#555" stroke-width="0.8"/>
<line x1="433.10" y1="119.90" x2="523.60" y2="119.90" stroke="#555" stroke-width="0.8"/>
<line x1="430.50" y1="39.00" x2="433.10" y2="39.00" stroke="#555" stroke-width="0.8"/>
<line x1="430.50" y1="59.70" x2="433.10" y2="59.70" stroke="#555" stroke-width="0.8"/>
<line x1="430.50" y1="84.40" x2="433.10" y2="84.40" stroke="#555" stroke-width="0.8"/>
<line x1="430.50" y1="99.30" x2="433.10" y2="99.30" stroke="#555" stroke-width="0.8"/>
<line x1="430.50" y1="115.40" x2="433.10" y2="115.40" stroke="#555" stroke-width="0.8"/>
<line x1="431.80" y1="53.47" x2="433.10" y2="53.47" stroke="#555" stroke-width="0.6"/>
<line x1="431.80" y1="49.82" x2="433.10" y2="49.82" stroke="#555" stroke-width="0.6"/>
<line x1="431.80" y1="47.24" x2="433.10" y2="47.24" stroke="#555" stroke-width="0.6"/>
<line x1="431.80" y1="45.23" x2="433.10" y2="45.23" stroke="#555" stroke-width="0.6"/>
<line x1="431.80" y1="43.59" x2="433.10" y2="43.59" stroke="#555" stroke-width="0.6"/>
<line x1="431.80" y1="42.21" x2="433.10" y2="42.21" stroke="#555" stroke-width="0.6"/>
<line x1="431.80" y1="41.01" x2="433.10" y2="41.01" stroke="#555" stroke-width="0.6"/>
<line x1="431.80" y1="39.95" x2="433.10" y2="39.95" stroke="#555" stroke-width="0.6"/>
<line x1="431.80" y1="76.96" x2="433.10" y2="76.96" stroke="#555" stroke-width="0.6"/>
<line x1="431.80" y1="72.62" x2="433.10" y2="72.62" stroke="#555" stroke-width="0.6"/>
<line x1="431.80" y1="69.53" x2="433.10" y2="69.53" stroke="#555" stroke-width="0.6"/>
<line x1="431.80" y1="67.14" x2="433.10" y2="67.14" stroke="#555" stroke-width="0.6"/>
<line x1="431.80" y1="65.18" x2="433.10" y2="65.18" stroke="#555" stroke-width="0.6"/>
<line x1="431.80" y1="63.53" x2="433.10" y2="63.53" stroke="#555" stroke-width="0.6"/>
<line x1="431.80" y1="62.09" x2="433.10" y2="62.09" stroke="#555" stroke-width="0.6"/>
<line x1="431.80" y1="60.83" x2="433.10" y2="60.83" stroke="#555" stroke-width="0.6"/>
<line x1="431.80" y1="94.81" x2="433.10" y2="94.81" stroke="#555" stroke-width="0.6"/>
<line x1="431.80" y1="104.15" x2="433.10" y2="104.15" stroke="#555" stroke-width="0.6"/>
<line x1="431.80" y1="92.19" x2="433.10" y2="92.19" stroke="#555" stroke-width="0.6"/>
<line x1="431.80" y1="106.98" x2="433.10" y2="106.98" stroke="#555" stroke-width="0.6"/>
<line x1="431.80" y1="90.33" x2="433.10" y2="90.33" stroke="#555" stroke-width="0.6"/>
<line x1="431.80" y1="108.99" x2="433.10" y2="108.99" stroke="#555" stroke-width="0.6"/>
<line x1="431.80" y1="88.89" x2="433.10" y2="88.89" stroke="#555" stroke-width="0.6"/>
<line x1="431.80" y1="110.55" x2="433.10" y2="110.55" stroke="#555" stroke-width="0.6"/>
<line x1="431.80" y1="87.71" x2="433.10" y2="87.71" stroke="#555" stroke-width="0.6"/>
<line x1="431.80" y1="111.83" x2="433.10" y2="111.83" stroke="#555" stroke-width="0.6"/>
<line x1="431.80" y1="86.71" x2="433.10" y2="86.71" stroke="#555" stroke-width="0.6"/>
<line x1="431.80" y1="112.91" x2="433.10" y2="112.91" stroke="#555" stroke-width="0.6"/>
<line x1="431.80" y1="85.84" x2="433.10" y2="85.84" stroke="#555" stroke-width="0.6"/>
<line x1="431.80" y1="113.84" x2="433.10" y2="113.84" stroke="#555" stroke-width="0.6"/>
<line x1="431.80" y1="85.08" x2="433.10" y2="85.08" stroke="#555" stroke-width="0.6"/>
<line x1="431.80" y1="114.66" x2="433.10" y2="114.66" stroke="#555" stroke-width="0.6"/>
<text x="429.50" y="40.40" font-size="4.0" text-anchor="end" fill="#555" class="t">10<tspan font-size="2.6" dy="-1.6">5</tspan></text>
<text x="429.50" y="61.10" font-size="4.0" text-anchor="end" fill="#555" class="t">10<tspan font-size="2.6" dy="-1.6">4</tspan></text>
<text x="429.50" y="85.80" font-size="4.0" text-anchor="end" fill="#555" class="t">10<tspan font-size="2.6" dy="-1.6">3</tspan></text>
<text x="429.50" y="100.60" font-size="4.0" text-anchor="end" fill="#555" class="t">0</text>
<text x="429.50" y="116.80" font-size="4.0" text-anchor="end" fill="#555" class="t">-10<tspan font-size="2.6" dy="-1.6">3</tspan></text>
<line x1="438.10" y1="119.90" x2="438.10" y2="122.30" stroke="#555" stroke-width="0.8"/>
<line x1="453.50" y1="119.90" x2="453.50" y2="122.30" stroke="#555" stroke-width="0.8"/>
<line x1="469.50" y1="119.90" x2="469.50" y2="122.30" stroke="#555" stroke-width="0.8"/>
<line x1="494.10" y1="119.90" x2="494.10" y2="122.30" stroke="#555" stroke-width="0.8"/>
<line x1="514.60" y1="119.90" x2="514.60" y2="122.30" stroke="#555" stroke-width="0.8"/>
<line x1="476.91" y1="119.90" x2="476.91" y2="121.20" stroke="#555" stroke-width="0.6"/>
<line x1="481.24" y1="119.90" x2="481.24" y2="121.20" stroke="#555" stroke-width="0.6"/>
<line x1="484.31" y1="119.90" x2="484.31" y2="121.20" stroke="#555" stroke-width="0.6"/>
<line x1="486.69" y1="119.90" x2="486.69" y2="121.20" stroke="#555" stroke-width="0.6"/>
<line x1="488.64" y1="119.90" x2="488.64" y2="121.20" stroke="#555" stroke-width="0.6"/>
<line x1="490.29" y1="119.90" x2="490.29" y2="121.20" stroke="#555" stroke-width="0.6"/>
<line x1="491.72" y1="119.90" x2="491.72" y2="121.20" stroke="#555" stroke-width="0.6"/>
<line x1="492.97" y1="119.90" x2="492.97" y2="121.20" stroke="#555" stroke-width="0.6"/>
<line x1="500.27" y1="119.90" x2="500.27" y2="121.20" stroke="#555" stroke-width="0.6"/>
<line x1="503.88" y1="119.90" x2="503.88" y2="121.20" stroke="#555" stroke-width="0.6"/>
<line x1="506.44" y1="119.90" x2="506.44" y2="121.20" stroke="#555" stroke-width="0.6"/>
<line x1="508.43" y1="119.90" x2="508.43" y2="121.20" stroke="#555" stroke-width="0.6"/>
<line x1="510.05" y1="119.90" x2="510.05" y2="121.20" stroke="#555" stroke-width="0.6"/>
<line x1="511.42" y1="119.90" x2="511.42" y2="121.20" stroke="#555" stroke-width="0.6"/>
<line x1="512.61" y1="119.90" x2="512.61" y2="121.20" stroke="#555" stroke-width="0.6"/>
<line x1="513.66" y1="119.90" x2="513.66" y2="121.20" stroke="#555" stroke-width="0.6"/>
<line x1="458.32" y1="119.90" x2="458.32" y2="121.20" stroke="#555" stroke-width="0.6"/>
<line x1="448.86" y1="119.90" x2="448.86" y2="121.20" stroke="#555" stroke-width="0.6"/>
<line x1="461.13" y1="119.90" x2="461.13" y2="121.20" stroke="#555" stroke-width="0.6"/>
<line x1="446.15" y1="119.90" x2="446.15" y2="121.20" stroke="#555" stroke-width="0.6"/>
<line x1="463.13" y1="119.90" x2="463.13" y2="121.20" stroke="#555" stroke-width="0.6"/>
<line x1="444.23" y1="119.90" x2="444.23" y2="121.20" stroke="#555" stroke-width="0.6"/>
<line x1="464.68" y1="119.90" x2="464.68" y2="121.20" stroke="#555" stroke-width="0.6"/>
<line x1="442.74" y1="119.90" x2="442.74" y2="121.20" stroke="#555" stroke-width="0.6"/>
<line x1="465.95" y1="119.90" x2="465.95" y2="121.20" stroke="#555" stroke-width="0.6"/>
<line x1="441.52" y1="119.90" x2="441.52" y2="121.20" stroke="#555" stroke-width="0.6"/>
<line x1="467.02" y1="119.90" x2="467.02" y2="121.20" stroke="#555" stroke-width="0.6"/>
<line x1="440.49" y1="119.90" x2="440.49" y2="121.20" stroke="#555" stroke-width="0.6"/>
<line x1="467.95" y1="119.90" x2="467.95" y2="121.20" stroke="#555" stroke-width="0.6"/>
<line x1="439.59" y1="119.90" x2="439.59" y2="121.20" stroke="#555" stroke-width="0.6"/>
<line x1="468.77" y1="119.90" x2="468.77" y2="121.20" stroke="#555" stroke-width="0.6"/>
<line x1="438.80" y1="119.90" x2="438.80" y2="121.20" stroke="#555" stroke-width="0.6"/>
<text x="438.10" y="129.40" font-size="4.0" text-anchor="middle" fill="#555" class="t">-10<tspan font-size="2.6" dy="-1.6">3</tspan></text>
<text x="469.50" y="129.40" font-size="4.0" text-anchor="middle" fill="#555" class="t">10<tspan font-size="2.6" dy="-1.6">3</tspan></text>
<text x="494.10" y="129.40" font-size="4.0" text-anchor="middle" fill="#555" class="t">10<tspan font-size="2.6" dy="-1.6">4</tspan></text>
<text x="514.60" y="129.40" font-size="4.0" text-anchor="middle" fill="#555" class="t">10<tspan font-size="2.6" dy="-1.6">5</tspan></text>
<text x="453.50" y="129.40" font-size="4.0" text-anchor="middle" fill="#555" class="t">0</text>
<text x="489.3" y="25.6" font-size="7.6" text-anchor="middle">cKIT<tspan font-size="4.4" dy="-3">+</tspan><tspan dy="3"> SSC</tspan><tspan font-size="4.4" dy="-3">high</tspan></text>
<text x="420.20" y="79.50" font-size="7.4" text-anchor="middle" transform="rotate(-90 420.20 79.50)">CD61 FITC</text>
<text x="479.00" y="141.30" font-size="7.6" text-anchor="middle">CD42b APC</text>
<defs><filter id="bl1" x="-20%" y="-20%" width="140%" height="140%"><feGaussianBlur stdDeviation="1.6"/></filter><filter id="bl2" x="-20%" y="-20%" width="140%" height="140%"><feGaussianBlur stdDeviation="1.0"/></filter></defs>
<g filter="url(#bl1)" fill="#000"><path d="M189,85.5 L228,85.5 C240,86.5 250,89 256,92 L256,96 C250,98.5 240,99.5 228,99.5 L189,99.5 Z" fill-opacity="0.42"/><path d="M190,70 C196,66 206,66 211,70 L211,83 L190,83 Z" fill-opacity="0.22"/><path d="M215,77 C235,74 255,75 272,78 L272,83 L215,83 Z" fill-opacity="0.1"/></g>
<path fill="#1a1a1a" d="M270.3 57.9h0.6v0.6h-0.6zM243.7 59.3h0.6v0.6h-0.6zM272.5 61.1h0.6v0.6h-0.6zM254.7 63.7h0.6v0.6h-0.6zM236.1 64.2h0.6v0.6h-0.6zM256.4 64.3h0.6v0.6h-0.6zM198.0 65.2h0.6v0.6h-0.6zM256.6 65.1h0.6v0.6h-0.6zM261.6 65.6h0.6v0.6h-0.6zM206.0 65.9h0.6v0.6h-0.6zM216.6 66.5h0.6v0.6h-0.6zM249.8 66.3h0.6v0.6h-0.6zM189.8 67.0h0.6v0.6h-0.6zM190.2 66.9h0.6v0.6h-0.6zM236.0 67.0h0.6v0.6h-0.6zM240.7 67.0h0.6v0.6h-0.6zM206.8 67.6h0.6v0.6h-0.6zM187.7 68.1h0.6v0.6h-0.6zM188.6 68.1h0.6v0.6h-0.6zM201.4 67.7h0.6v0.6h-0.6zM206.8 67.7h0.6v0.6h-0.6zM209.0 68.0h0.6v0.6h-0.6zM223.1 68.1h0.6v0.6h-0.6zM265.6 67.7h0.6v0.6h-0.6zM190.8 68.6h0.6v0.6h-0.6zM195.4 68.6h0.6v0.6h-0.6zM197.9 68.4h0.6v0.6h-0.6zM200.1 68.4h0.6v0.6h-0.6zM202.9 68.2h0.6v0.6h-0.6zM204.0 68.7h0.6v0.6h-0.6zM209.0 68.5h0.6v0.6h-0.6zM232.9 68.5h0.6v0.6h-0.6zM246.9 68.2h0.6v0.6h-0.6zM263.4 68.5h0.6v0.6h-0.6zM193.8 68.8h0.6v0.6h-0.6zM196.8 69.1h0.6v0.6h-0.6zM199.9 68.7h0.6v0.6h-0.6zM205.4 69.1h0.6v0.6h-0.6zM205.8 69.1h0.6v0.6h-0.6zM213.9 69.0h0.6v0.6h-0.6zM229.4 69.1h0.6v0.6h-0.6zM243.9 68.8h0.6v0.6h-0.6zM188.2 69.7h0.6v0.6h-0.6zM214.3 69.3h0.6v0.6h-0.6zM228.4 69.3h0.6v0.6h-0.6zM239.5 69.5h0.6v0.6h-0.6zM195.0 69.9h0.6v0.6h-0.6zM201.4 69.9h0.6v0.6h-0.6zM206.5 70.1h0.6v0.6h-0.6zM208.0 70.2h0.6v0.6h-0.6zM240.1 70.0h0.6v0.6h-0.6zM192.3 70.4h0.6v0.6h-0.6zM192.9 70.4h0.6v0.6h-0.6zM195.9 70.5h0.6v0.6h-0.6zM197.2 70.5h0.6v0.6h-0.6zM199.7 70.4h0.6v0.6h-0.6zM204.8 70.4h0.6v0.6h-0.6zM205.0 70.5h0.6v0.6h-0.6zM206.2 70.6h0.6v0.6h-0.6zM216.5 70.6h0.6v0.6h-0.6zM247.2 70.6h0.6v0.6h-0.6zM255.7 70.3h0.6v0.6h-0.6zM256.3 70.3h0.6v0.6h-0.6zM188.4 71.0h0.6v0.6h-0.6zM198.9 71.0h0.6v0.6h-0.6zM204.2 71.0h0.6v0.6h-0.6zM205.5 70.8h0.6v0.6h-0.6zM210.1 71.0h0.6v0.6h-0.6zM211.4 70.7h0.6v0.6h-0.6zM236.6 70.7h0.6v0.6h-0.6zM246.4 71.1h0.6v0.6h-0.6zM190.8 71.3h0.6v0.6h-0.6zM193.9 71.4h0.6v0.6h-0.6zM195.8 71.6h0.6v0.6h-0.6zM198.7 71.3h0.6v0.6h-0.6zM200.0 71.7h0.6v0.6h-0.6zM201.5 71.6h0.6v0.6h-0.6zM202.5 71.4h0.6v0.6h-0.6zM202.1 71.5h0.6v0.6h-0.6zM211.6 71.4h0.6v0.6h-0.6zM238.7 71.6h0.6v0.6h-0.6zM243.4 71.5h0.6v0.6h-0.6zM256.3 71.6h0.6v0.6h-0.6zM259.6 71.3h0.6v0.6h-0.6zM188.6 71.8h0.6v0.6h-0.6zM189.7 71.8h0.6v0.6h-0.6zM194.0 71.7h0.6v0.6h-0.6zM195.0 72.1h0.6v0.6h-0.6zM195.3 72.0h0.6v0.6h-0.6zM201.4 71.9h0.6v0.6h-0.6zM202.9 71.9h0.6v0.6h-0.6zM203.4 72.0h0.6v0.6h-0.6zM206.5 72.0h0.6v0.6h-0.6zM208.3 71.8h0.6v0.6h-0.6zM209.0 71.7h0.6v0.6h-0.6zM208.5 71.9h0.6v0.6h-0.6zM210.5 71.8h0.6v0.6h-0.6zM211.5 71.9h0.6v0.6h-0.6zM219.4 72.1h0.6v0.6h-0.6zM257.5 71.9h0.6v0.6h-0.6zM263.7 71.8h0.6v0.6h-0.6zM188.1 72.4h0.6v0.6h-0.6zM195.2 72.5h0.6v0.6h-0.6zM195.8 72.5h0.6v0.6h-0.6zM196.7 72.3h0.6v0.6h-0.6zM196.6 72.3h0.6v0.6h-0.6zM205.9 72.3h0.6v0.6h-0.6zM207.7 72.3h0.6v0.6h-0.6zM217.6 72.6h0.6v0.6h-0.6zM228.9 72.5h0.6v0.6h-0.6zM230.3 72.5h0.6v0.6h-0.6zM237.9 72.2h0.6v0.6h-0.6zM256.1 72.6h0.6v0.6h-0.6zM192.0 73.1h0.6v0.6h-0.6zM193.4 72.8h0.6v0.6h-0.6zM196.5 73.2h0.6v0.6h-0.6zM198.6 72.8h0.6v0.6h-0.6zM198.8 73.0h0.6v0.6h-0.6zM199.9 72.8h0.6v0.6h-0.6zM202.1 72.7h0.6v0.6h-0.6zM207.9 73.0h0.6v0.6h-0.6zM212.8 72.8h0.6v0.6h-0.6zM223.1 73.1h0.6v0.6h-0.6zM224.9 72.8h0.6v0.6h-0.6zM231.7 73.1h0.6v0.6h-0.6zM235.4 72.8h0.6v0.6h-0.6zM237.6 73.1h0.6v0.6h-0.6zM187.9 73.4h0.6v0.6h-0.6zM189.4 73.5h0.6v0.6h-0.6zM189.7 73.4h0.6v0.6h-0.6zM191.1 73.4h0.6v0.6h-0.6zM192.6 73.5h0.6v0.6h-0.6zM194.0 73.2h0.6v0.6h-0.6zM197.0 73.3h0.6v0.6h-0.6zM196.7 73.6h0.6v0.6h-0.6zM197.0 73.5h0.6v0.6h-0.6zM197.7 73.5h0.6v0.6h-0.6zM203.3 73.4h0.6v0.6h-0.6zM210.5 73.5h0.6v0.6h-0.6zM225.1 73.5h0.6v0.6h-0.6zM245.0 73.3h0.6v0.6h-0.6zM253.5 73.2h0.6v0.6h-0.6zM194.7 73.7h0.6v0.6h-0.6zM196.9 73.7h0.6v0.6h-0.6zM197.3 73.9h0.6v0.6h-0.6zM199.9 73.7h0.6v0.6h-0.6zM204.5 74.1h0.6v0.6h-0.6zM209.6 73.9h0.6v0.6h-0.6zM222.0 73.9h0.6v0.6h-0.6zM229.1 74.1h0.6v0.6h-0.6zM253.4 74.2h0.6v0.6h-0.6zM255.9 74.0h0.6v0.6h-0.6zM256.6 74.1h0.6v0.6h-0.6zM267.3 73.9h0.6v0.6h-0.6zM273.8 73.8h0.6v0.6h-0.6zM190.5 74.4h0.6v0.6h-0.6zM192.5 74.6h0.6v0.6h-0.6zM194.3 74.3h0.6v0.6h-0.6zM195.3 74.4h0.6v0.6h-0.6zM196.0 74.4h0.6v0.6h-0.6zM196.9 74.2h0.6v0.6h-0.6zM200.9 74.5h0.6v0.6h-0.6zM201.8 74.5h0.6v0.6h-0.6zM202.0 74.5h0.6v0.6h-0.6zM202.0 74.6h0.6v0.6h-0.6zM204.2 74.7h0.6v0.6h-0.6zM209.4 74.5h0.6v0.6h-0.6zM210.5 74.3h0.6v0.6h-0.6zM212.1 74.5h0.6v0.6h-0.6zM237.7 74.3h0.6v0.6h-0.6zM240.6 74.2h0.6v0.6h-0.6zM243.4 74.3h0.6v0.6h-0.6zM251.5 74.5h0.6v0.6h-0.6zM188.1 74.8h0.6v0.6h-0.6zM193.3 74.9h0.6v0.6h-0.6zM193.2 75.0h0.6v0.6h-0.6zM197.6 74.9h0.6v0.6h-0.6zM201.0 74.9h0.6v0.6h-0.6zM202.9 74.9h0.6v0.6h-0.6zM202.6 74.9h0.6v0.6h-0.6zM212.0 74.8h0.6v0.6h-0.6zM212.2 75.1h0.6v0.6h-0.6zM215.9 75.1h0.6v0.6h-0.6zM237.2 74.7h0.6v0.6h-0.6zM237.8 75.0h0.6v0.6h-0.6zM261.9 74.9h0.6v0.6h-0.6zM188.0 75.5h0.6v0.6h-0.6zM189.6 75.6h0.6v0.6h-0.6zM193.5 75.4h0.6v0.6h-0.6zM194.1 75.5h0.6v0.6h-0.6zM194.0 75.7h0.6v0.6h-0.6zM194.8 75.6h0.6v0.6h-0.6zM196.7 75.4h0.6v0.6h-0.6zM197.2 75.2h0.6v0.6h-0.6zM199.3 75.5h0.6v0.6h-0.6zM202.3 75.4h0.6v0.6h-0.6zM202.5 75.5h0.6v0.6h-0.6zM203.9 75.4h0.6v0.6h-0.6zM207.2 75.3h0.6v0.6h-0.6zM209.6 75.6h0.6v0.6h-0.6zM211.3 75.7h0.6v0.6h-0.6zM213.8 75.3h0.6v0.6h-0.6zM228.6 75.5h0.6v0.6h-0.6zM229.7 75.6h0.6v0.6h-0.6zM234.8 75.6h0.6v0.6h-0.6zM241.3 75.4h0.6v0.6h-0.6zM248.3 75.3h0.6v0.6h-0.6zM259.6 75.6h0.6v0.6h-0.6zM188.8 76.0h0.6v0.6h-0.6zM189.4 75.7h0.6v0.6h-0.6zM190.3 76.1h0.6v0.6h-0.6zM192.3 76.1h0.6v0.6h-0.6zM193.6 76.2h0.6v0.6h-0.6zM194.6 76.1h0.6v0.6h-0.6zM196.5 76.0h0.6v0.6h-0.6zM197.6 76.2h0.6v0.6h-0.6zM198.1 76.1h0.6v0.6h-0.6zM198.8 76.0h0.6v0.6h-0.6zM199.9 76.2h0.6v0.6h-0.6zM201.0 76.1h0.6v0.6h-0.6zM201.9 75.7h0.6v0.6h-0.6zM202.7 76.0h0.6v0.6h-0.6zM203.2 76.2h0.6v0.6h-0.6zM204.0 75.9h0.6v0.6h-0.6zM207.5 75.9h0.6v0.6h-0.6zM207.4 75.8h0.6v0.6h-0.6zM209.0 75.9h0.6v0.6h-0.6zM210.0 75.8h0.6v0.6h-0.6zM210.6 75.8h0.6v0.6h-0.6zM212.1 75.7h0.6v0.6h-0.6zM213.4 76.0h0.6v0.6h-0.6zM215.3 75.8h0.6v0.6h-0.6zM221.7 75.9h0.6v0.6h-0.6zM236.5 75.8h0.6v0.6h-0.6zM238.6 75.8h0.6v0.6h-0.6zM247.2 76.2h0.6v0.6h-0.6zM250.2 76.1h0.6v0.6h-0.6zM253.9 76.2h0.6v0.6h-0.6zM255.9 76.2h0.6v0.6h-0.6zM256.1 76.1h0.6v0.6h-0.6zM271.2 75.9h0.6v0.6h-0.6zM187.6 76.3h0.6v0.6h-0.6zM189.8 76.3h0.6v0.6h-0.6zM190.3 76.4h0.6v0.6h-0.6zM196.3 76.5h0.6v0.6h-0.6zM197.1 76.7h0.6v0.6h-0.6zM197.4 76.5h0.6v0.6h-0.6zM197.8 76.5h0.6v0.6h-0.6zM207.2 76.5h0.6v0.6h-0.6zM207.1 76.7h0.6v0.6h-0.6zM207.9 76.6h0.6v0.6h-0.6zM208.4 76.6h0.6v0.6h-0.6zM209.7 76.3h0.6v0.6h-0.6zM210.0 76.5h0.6v0.6h-0.6zM210.6 76.4h0.6v0.6h-0.6zM210.5 76.6h0.6v0.6h-0.6zM211.2 76.4h0.6v0.6h-0.6zM213.9 76.4h0.6v0.6h-0.6zM221.2 76.5h0.6v0.6h-0.6zM227.5 76.4h0.6v0.6h-0.6zM229.5 76.5h0.6v0.6h-0.6zM232.6 76.7h0.6v0.6h-0.6zM242.0 76.5h0.6v0.6h-0.6zM243.5 76.4h0.6v0.6h-0.6zM245.7 76.3h0.6v0.6h-0.6zM254.8 76.3h0.6v0.6h-0.6zM256.8 76.3h0.6v0.6h-0.6zM260.0 76.3h0.6v0.6h-0.6zM260.5 76.6h0.6v0.6h-0.6zM187.6 76.7h0.6v0.6h-0.6zM188.5 76.9h0.6v0.6h-0.6zM188.9 76.8h0.6v0.6h-0.6zM188.9 77.1h0.6v0.6h-0.6zM189.6 76.8h0.6v0.6h-0.6zM190.1 77.0h0.6v0.6h-0.6zM192.2 77.1h0.6v0.6h-0.6zM193.2 77.0h0.6v0.6h-0.6zM194.7 76.8h0.6v0.6h-0.6zM197.0 77.0h0.6v0.6h-0.6zM197.6 77.2h0.6v0.6h-0.6zM201.8 77.0h0.6v0.6h-0.6zM201.9 76.8h0.6v0.6h-0.6zM208.4 77.1h0.6v0.6h-0.6zM208.1 76.8h0.6v0.6h-0.6zM208.5 76.9h0.6v0.6h-0.6zM209.6 77.1h0.6v0.6h-0.6zM212.6 76.8h0.6v0.6h-0.6zM227.5 76.9h0.6v0.6h-0.6zM232.7 77.0h0.6v0.6h-0.6zM238.8 76.8h0.6v0.6h-0.6zM239.3 76.8h0.6v0.6h-0.6zM244.8 76.9h0.6v0.6h-0.6zM249.6 76.9h0.6v0.6h-0.6zM252.6 77.1h0.6v0.6h-0.6zM257.9 76.8h0.6v0.6h-0.6zM267.9 77.1h0.6v0.6h-0.6zM188.5 77.4h0.6v0.6h-0.6zM188.8 77.5h0.6v0.6h-0.6zM190.5 77.7h0.6v0.6h-0.6zM190.7 77.6h0.6v0.6h-0.6zM191.3 77.7h0.6v0.6h-0.6zM194.1 77.6h0.6v0.6h-0.6zM197.2 77.7h0.6v0.6h-0.6zM202.2 77.2h0.6v0.6h-0.6zM203.2 77.6h0.6v0.6h-0.6zM208.2 77.6h0.6v0.6h-0.6zM210.9 77.3h0.6v0.6h-0.6zM211.2 77.7h0.6v0.6h-0.6zM211.8 77.6h0.6v0.6h-0.6zM212.2 77.3h0.6v0.6h-0.6zM214.9 77.4h0.6v0.6h-0.6zM215.0 77.6h0.6v0.6h-0.6zM215.8 77.6h0.6v0.6h-0.6zM216.5 77.5h0.6v0.6h-0.6zM219.1 77.2h0.6v0.6h-0.6zM238.9 77.6h0.6v0.6h-0.6zM244.4 77.5h0.6v0.6h-0.6zM248.3 77.2h0.6v0.6h-0.6zM258.7 77.5h0.6v0.6h-0.6zM188.6 77.7h0.6v0.6h-0.6zM190.4 77.8h0.6v0.6h-0.6zM192.3 78.0h0.6v0.6h-0.6zM193.2 78.1h0.6v0.6h-0.6zM194.1 78.1h0.6v0.6h-0.6zM195.9 78.0h0.6v0.6h-0.6zM200.2 78.1h0.6v0.6h-0.6zM200.7 78.2h0.6v0.6h-0.6zM204.1 77.7h0.6v0.6h-0.6zM205.1 78.1h0.6v0.6h-0.6zM205.7 77.9h0.6v0.6h-0.6zM206.8 77.8h0.6v0.6h-0.6zM210.2 78.0h0.6v0.6h-0.6zM210.0 77.9h0.6v0.6h-0.6zM211.8 77.9h0.6v0.6h-0.6zM211.6 77.7h0.6v0.6h-0.6zM214.5 78.1h0.6v0.6h-0.6zM219.3 78.1h0.6v0.6h-0.6zM220.0 78.2h0.6v0.6h-0.6zM221.7 77.9h0.6v0.6h-0.6zM228.0 77.9h0.6v0.6h-0.6zM233.6 77.9h0.6v0.6h-0.6zM236.2 78.0h0.6v0.6h-0.6zM240.6 78.1h0.6v0.6h-0.6zM245.5 77.8h0.6v0.6h-0.6zM249.1 78.1h0.6v0.6h-0.6zM264.2 77.8h0.6v0.6h-0.6zM271.6 77.8h0.6v0.6h-0.6zM272.0 78.0h0.6v0.6h-0.6zM188.1 78.7h0.6v0.6h-0.6zM190.2 78.6h0.6v0.6h-0.6zM191.4 78.4h0.6v0.6h-0.6zM191.3 78.3h0.6v0.6h-0.6zM193.9 78.3h0.6v0.6h-0.6zM194.6 78.4h0.6v0.6h-0.6zM196.9 78.6h0.6v0.6h-0.6zM197.6 78.2h0.6v0.6h-0.6zM200.8 78.6h0.6v0.6h-0.6zM202.0 78.3h0.6v0.6h-0.6zM204.2 78.3h0.6v0.6h-0.6zM207.2 78.3h0.6v0.6h-0.6zM209.4 78.6h0.6v0.6h-0.6zM209.5 78.2h0.6v0.6h-0.6zM209.6 78.6h0.6v0.6h-0.6zM210.3 78.5h0.6v0.6h-0.6zM212.5 78.7h0.6v0.6h-0.6zM214.2 78.2h0.6v0.6h-0.6zM227.6 78.3h0.6v0.6h-0.6zM227.8 78.4h0.6v0.6h-0.6zM233.2 78.3h0.6v0.6h-0.6zM235.1 78.6h0.6v0.6h-0.6zM245.2 78.2h0.6v0.6h-0.6zM255.0 78.7h0.6v0.6h-0.6zM260.7 78.5h0.6v0.6h-0.6zM264.0 78.5h0.6v0.6h-0.6zM266.0 78.3h0.6v0.6h-0.6zM190.5 78.8h0.6v0.6h-0.6zM190.3 79.0h0.6v0.6h-0.6zM191.6 79.2h0.6v0.6h-0.6zM192.3 78.7h0.6v0.6h-0.6zM193.4 78.9h0.6v0.6h-0.6zM194.1 78.9h0.6v0.6h-0.6zM194.8 78.9h0.6v0.6h-0.6zM194.7 78.7h0.6v0.6h-0.6zM195.0 78.9h0.6v0.6h-0.6zM198.5 78.8h0.6v0.6h-0.6zM198.6 78.9h0.6v0.6h-0.6zM200.7 79.1h0.6v0.6h-0.6zM201.9 79.0h0.6v0.6h-0.6zM201.6 78.9h0.6v0.6h-0.6zM204.4 79.0h0.6v0.6h-0.6zM207.1 79.1h0.6v0.6h-0.6zM208.5 79.1h0.6v0.6h-0.6zM209.3 78.8h0.6v0.6h-0.6zM211.7 78.9h0.6v0.6h-0.6zM218.8 79.0h0.6v0.6h-0.6zM220.6 79.0h0.6v0.6h-0.6zM233.9 78.8h0.6v0.6h-0.6zM239.5 78.9h0.6v0.6h-0.6zM240.2 79.2h0.6v0.6h-0.6zM243.6 79.1h0.6v0.6h-0.6zM245.9 78.8h0.6v0.6h-0.6zM259.5 79.0h0.6v0.6h-0.6zM262.9 79.1h0.6v0.6h-0.6zM268.7 79.1h0.6v0.6h-0.6zM268.7 78.9h0.6v0.6h-0.6zM190.3 79.4h0.6v0.6h-0.6zM190.6 79.6h0.6v0.6h-0.6zM192.4 79.2h0.6v0.6h-0.6zM192.9 79.7h0.6v0.6h-0.6zM195.4 79.3h0.6v0.6h-0.6zM197.0 79.4h0.6v0.6h-0.6zM198.9 79.7h0.6v0.6h-0.6zM198.5 79.6h0.6v0.6h-0.6zM199.3 79.5h0.6v0.6h-0.6zM200.1 79.5h0.6v0.6h-0.6zM201.0 79.5h0.6v0.6h-0.6zM201.0 79.5h0.6v0.6h-0.6zM201.1 79.4h0.6v0.6h-0.6zM206.6 79.3h0.6v0.6h-0.6zM207.8 79.4h0.6v0.6h-0.6zM209.5 79.3h0.6v0.6h-0.6zM210.6 79.2h0.6v0.6h-0.6zM211.6 79.6h0.6v0.6h-0.6zM213.1 79.5h0.6v0.6h-0.6zM223.0 79.5h0.6v0.6h-0.6zM224.6 79.6h0.6v0.6h-0.6zM229.9 79.5h0.6v0.6h-0.6zM232.7 79.5h0.6v0.6h-0.6zM234.0 79.5h0.6v0.6h-0.6zM236.6 79.5h0.6v0.6h-0.6zM241.7 79.4h0.6v0.6h-0.6zM242.5 79.4h0.6v0.6h-0.6zM244.4 79.3h0.6v0.6h-0.6zM245.8 79.2h0.6v0.6h-0.6zM253.3 79.6h0.6v0.6h-0.6zM254.6 79.3h0.6v0.6h-0.6zM256.5 79.4h0.6v0.6h-0.6zM257.8 79.6h0.6v0.6h-0.6zM263.4 79.7h0.6v0.6h-0.6zM269.5 79.2h0.6v0.6h-0.6zM270.0 79.6h0.6v0.6h-0.6zM187.6 80.1h0.6v0.6h-0.6zM188.6 79.9h0.6v0.6h-0.6zM189.7 79.9h0.6v0.6h-0.6zM192.3 79.8h0.6v0.6h-0.6zM192.7 80.2h0.6v0.6h-0.6zM194.0 80.1h0.6v0.6h-0.6zM194.8 79.8h0.6v0.6h-0.6zM195.8 79.9h0.6v0.6h-0.6zM197.2 79.8h0.6v0.6h-0.6zM197.5 80.2h0.6v0.6h-0.6zM199.8 79.9h0.6v0.6h-0.6zM200.7 80.0h0.6v0.6h-0.6zM200.8 80.1h0.6v0.6h-0.6zM201.1 80.2h0.6v0.6h-0.6zM202.0 80.2h0.6v0.6h-0.6zM205.6 79.9h0.6v0.6h-0.6zM207.9 79.9h0.6v0.6h-0.6zM208.1 80.0h0.6v0.6h-0.6zM210.9 79.9h0.6v0.6h-0.6zM211.3 80.1h0.6v0.6h-0.6zM212.5 80.0h0.6v0.6h-0.6zM214.8 79.9h0.6v0.6h-0.6zM214.6 79.9h0.6v0.6h-0.6zM217.7 80.1h0.6v0.6h-0.6zM219.9 80.0h0.6v0.6h-0.6zM220.7 80.1h0.6v0.6h-0.6zM223.0 79.9h0.6v0.6h-0.6zM236.2 79.9h0.6v0.6h-0.6zM236.5 79.9h0.6v0.6h-0.6zM241.1 79.7h0.6v0.6h-0.6zM247.0 80.1h0.6v0.6h-0.6zM248.7 80.0h0.6v0.6h-0.6zM261.6 80.1h0.6v0.6h-0.6zM262.3 79.9h0.6v0.6h-0.6zM273.6 79.9h0.6v0.6h-0.6zM187.9 80.6h0.6v0.6h-0.6zM188.0 80.7h0.6v0.6h-0.6zM188.8 80.7h0.6v0.6h-0.6zM191.0 80.6h0.6v0.6h-0.6zM191.8 80.2h0.6v0.6h-0.6zM195.0 80.3h0.6v0.6h-0.6zM196.5 80.5h0.6v0.6h-0.6zM196.7 80.4h0.6v0.6h-0.6zM200.9 80.4h0.6v0.6h-0.6zM200.5 80.5h0.6v0.6h-0.6zM201.3 80.6h0.6v0.6h-0.6zM202.0 80.5h0.6v0.6h-0.6zM202.4 80.5h0.6v0.6h-0.6zM203.9 80.6h0.6v0.6h-0.6zM204.4 80.3h0.6v0.6h-0.6zM205.1 80.5h0.6v0.6h-0.6zM209.0 80.7h0.6v0.6h-0.6zM211.7 80.5h0.6v0.6h-0.6zM212.2 80.5h0.6v0.6h-0.6zM212.0 80.6h0.6v0.6h-0.6zM212.5 80.5h0.6v0.6h-0.6zM212.6 80.3h0.6v0.6h-0.6zM214.4 80.4h0.6v0.6h-0.6zM218.4 80.6h0.6v0.6h-0.6zM218.9 80.4h0.6v0.6h-0.6zM221.3 80.6h0.6v0.6h-0.6zM221.9 80.6h0.6v0.6h-0.6zM231.4 80.5h0.6v0.6h-0.6zM240.8 80.5h0.6v0.6h-0.6zM243.5 80.2h0.6v0.6h-0.6zM243.5 80.6h0.6v0.6h-0.6zM244.9 80.5h0.6v0.6h-0.6zM245.5 80.4h0.6v0.6h-0.6zM250.9 80.3h0.6v0.6h-0.6zM251.5 80.7h0.6v0.6h-0.6zM253.3 80.3h0.6v0.6h-0.6zM263.2 80.6h0.6v0.6h-0.6zM264.9 80.3h0.6v0.6h-0.6zM265.9 80.4h0.6v0.6h-0.6zM269.1 80.5h0.6v0.6h-0.6zM187.7 81.1h0.6v0.6h-0.6zM188.4 81.2h0.6v0.6h-0.6zM190.9 80.9h0.6v0.6h-0.6zM190.7 80.8h0.6v0.6h-0.6zM191.7 81.1h0.6v0.6h-0.6zM191.5 80.8h0.6v0.6h-0.6zM193.8 80.8h0.6v0.6h-0.6zM199.8 81.0h0.6v0.6h-0.6zM200.1 81.1h0.6v0.6h-0.6zM204.2 80.7h0.6v0.6h-0.6zM204.9 81.1h0.6v0.6h-0.6zM205.6 81.1h0.6v0.6h-0.6zM206.1 80.9h0.6v0.6h-0.6zM206.3 81.2h0.6v0.6h-0.6zM206.5 81.1h0.6v0.6h-0.6zM206.5 80.8h0.6v0.6h-0.6zM209.0 80.8h0.6v0.6h-0.6zM209.8 80.7h0.6v0.6h-0.6zM210.1 80.7h0.6v0.6h-0.6zM211.8 81.0h0.6v0.6h-0.6zM215.1 80.8h0.6v0.6h-0.6zM216.0 80.9h0.6v0.6h-0.6zM217.6 81.0h0.6v0.6h-0.6zM223.4 81.0h0.6v0.6h-0.6zM226.5 80.8h0.6v0.6h-0.6zM227.4 80.8h0.6v0.6h-0.6zM230.1 80.8h0.6v0.6h-0.6zM232.4 81.2h0.6v0.6h-0.6zM235.4 81.1h0.6v0.6h-0.6zM243.9 81.2h0.6v0.6h-0.6zM250.4 81.0h0.6v0.6h-0.6zM251.6 81.2h0.6v0.6h-0.6zM252.1 80.9h0.6v0.6h-0.6zM254.9 80.9h0.6v0.6h-0.6zM254.5 81.0h0.6v0.6h-0.6zM188.4 81.5h0.6v0.6h-0.6zM189.4 81.3h0.6v0.6h-0.6zM189.9 81.4h0.6v0.6h-0.6zM189.7 81.6h0.6v0.6h-0.6zM190.8 81.4h0.6v0.6h-0.6zM193.7 81.4h0.6v0.6h-0.6zM196.4 81.5h0.6v0.6h-0.6zM197.9 81.7h0.6v0.6h-0.6zM201.7 81.6h0.6v0.6h-0.6zM203.5 81.4h0.6v0.6h-0.6zM205.8 81.6h0.6v0.6h-0.6zM209.3 81.4h0.6v0.6h-0.6zM210.0 81.3h0.6v0.6h-0.6zM210.8 81.4h0.6v0.6h-0.6zM210.5 81.7h0.6v0.6h-0.6zM210.9 81.6h0.6v0.6h-0.6zM212.1 81.6h0.6v0.6h-0.6zM213.2 81.3h0.6v0.6h-0.6zM214.8 81.6h0.6v0.6h-0.6zM218.0 81.5h0.6v0.6h-0.6zM218.9 81.6h0.6v0.6h-0.6zM222.8 81.7h0.6v0.6h-0.6zM224.7 81.3h0.6v0.6h-0.6zM226.2 81.5h0.6v0.6h-0.6zM226.9 81.6h0.6v0.6h-0.6zM227.0 81.3h0.6v0.6h-0.6zM228.1 81.7h0.6v0.6h-0.6zM229.1 81.6h0.6v0.6h-0.6zM230.1 81.6h0.6v0.6h-0.6zM233.8 81.6h0.6v0.6h-0.6zM239.5 81.7h0.6v0.6h-0.6zM244.5 81.6h0.6v0.6h-0.6zM245.4 81.4h0.6v0.6h-0.6zM256.1 81.5h0.6v0.6h-0.6zM260.8 81.3h0.6v0.6h-0.6zM269.9 81.5h0.6v0.6h-0.6zM189.3 82.1h0.6v0.6h-0.6zM190.7 82.2h0.6v0.6h-0.6zM194.3 81.8h0.6v0.6h-0.6zM194.2 81.8h0.6v0.6h-0.6zM194.5 82.0h0.6v0.6h-0.6zM194.8 82.2h0.6v0.6h-0.6zM195.3 82.0h0.6v0.6h-0.6zM195.7 82.1h0.6v0.6h-0.6zM198.8 81.9h0.6v0.6h-0.6zM201.1 81.8h0.6v0.6h-0.6zM201.9 81.8h0.6v0.6h-0.6zM201.9 82.1h0.6v0.6h-0.6zM203.6 81.8h0.6v0.6h-0.6zM206.4 82.0h0.6v0.6h-0.6zM207.9 82.2h0.6v0.6h-0.6zM207.6 82.0h0.6v0.6h-0.6zM208.1 81.9h0.6v0.6h-0.6zM209.1 82.1h0.6v0.6h-0.6zM210.2 81.8h0.6v0.6h-0.6zM212.6 81.9h0.6v0.6h-0.6zM212.7 82.1h0.6v0.6h-0.6zM215.1 81.9h0.6v0.6h-0.6zM216.0 81.9h0.6v0.6h-0.6zM217.1 81.8h0.6v0.6h-0.6zM218.0 81.8h0.6v0.6h-0.6zM221.6 82.0h0.6v0.6h-0.6zM223.7 81.7h0.6v0.6h-0.6zM226.2 81.8h0.6v0.6h-0.6zM226.7 82.0h0.6v0.6h-0.6zM228.2 81.8h0.6v0.6h-0.6zM230.3 81.8h0.6v0.6h-0.6zM238.4 82.0h0.6v0.6h-0.6zM244.0 82.2h0.6v0.6h-0.6zM250.1 81.7h0.6v0.6h-0.6zM254.9 81.9h0.6v0.6h-0.6zM255.2 82.1h0.6v0.6h-0.6zM256.0 81.8h0.6v0.6h-0.6zM256.4 82.2h0.6v0.6h-0.6zM261.0 81.9h0.6v0.6h-0.6zM268.5 82.0h0.6v0.6h-0.6zM274.3 81.8h0.6v0.6h-0.6zM188.3 82.2h0.6v0.6h-0.6zM190.9 82.4h0.6v0.6h-0.6zM191.0 82.3h0.6v0.6h-0.6zM195.4 82.3h0.6v0.6h-0.6zM195.6 82.4h0.6v0.6h-0.6zM196.2 82.3h0.6v0.6h-0.6zM198.1 82.6h0.6v0.6h-0.6zM198.8 82.3h0.6v0.6h-0.6zM200.0 82.4h0.6v0.6h-0.6zM200.3 82.5h0.6v0.6h-0.6zM201.0 82.5h0.6v0.6h-0.6zM202.9 82.4h0.6v0.6h-0.6zM202.7 82.6h0.6v0.6h-0.6zM204.8 82.4h0.6v0.6h-0.6zM206.6 82.4h0.6v0.6h-0.6zM206.5 82.6h0.6v0.6h-0.6zM207.1 82.5h0.6v0.6h-0.6zM207.7 82.2h0.6v0.6h-0.6zM208.5 82.3h0.6v0.6h-0.6zM208.4 82.7h0.6v0.6h-0.6zM209.2 82.4h0.6v0.6h-0.6zM210.0 82.3h0.6v0.6h-0.6zM215.7 82.4h0.6v0.6h-0.6zM217.6 82.5h0.6v0.6h-0.6zM220.9 82.4h0.6v0.6h-0.6zM221.6 82.3h0.6v0.6h-0.6zM226.6 82.7h0.6v0.6h-0.6zM228.4 82.2h0.6v0.6h-0.6zM228.6 82.6h0.6v0.6h-0.6zM229.2 82.4h0.6v0.6h-0.6zM229.5 82.4h0.6v0.6h-0.6zM230.2 82.6h0.6v0.6h-0.6zM233.9 82.5h0.6v0.6h-0.6zM234.0 82.5h0.6v0.6h-0.6zM235.9 82.5h0.6v0.6h-0.6zM244.1 82.5h0.6v0.6h-0.6zM244.4 82.5h0.6v0.6h-0.6zM252.2 82.6h0.6v0.6h-0.6zM253.2 82.3h0.6v0.6h-0.6zM267.2 82.4h0.6v0.6h-0.6zM267.3 82.6h0.6v0.6h-0.6zM274.3 82.7h0.6v0.6h-0.6zM189.9 83.1h0.6v0.6h-0.6zM189.9 83.2h0.6v0.6h-0.6zM191.1 83.0h0.6v0.6h-0.6zM191.7 82.9h0.6v0.6h-0.6zM192.5 83.0h0.6v0.6h-0.6zM194.3 82.8h0.6v0.6h-0.6zM195.4 82.8h0.6v0.6h-0.6zM195.2 82.8h0.6v0.6h-0.6zM195.8 82.8h0.6v0.6h-0.6zM199.3 82.9h0.6v0.6h-0.6zM200.8 83.1h0.6v0.6h-0.6zM200.7 83.0h0.6v0.6h-0.6zM204.8 82.8h0.6v0.6h-0.6zM206.9 83.0h0.6v0.6h-0.6zM206.9 82.7h0.6v0.6h-0.6zM208.3 82.9h0.6v0.6h-0.6zM208.0 83.2h0.6v0.6h-0.6zM212.8 83.1h0.6v0.6h-0.6zM216.3 82.9h0.6v0.6h-0.6zM226.7 82.8h0.6v0.6h-0.6zM227.8 83.0h0.6v0.6h-0.6zM228.8 83.1h0.6v0.6h-0.6zM229.7 83.1h0.6v0.6h-0.6zM230.3 82.8h0.6v0.6h-0.6zM230.8 83.0h0.6v0.6h-0.6zM232.0 82.9h0.6v0.6h-0.6zM234.6 82.8h0.6v0.6h-0.6zM237.2 82.9h0.6v0.6h-0.6zM240.9 82.7h0.6v0.6h-0.6zM243.1 83.1h0.6v0.6h-0.6zM252.6 82.7h0.6v0.6h-0.6zM254.0 83.0h0.6v0.6h-0.6zM258.8 83.2h0.6v0.6h-0.6zM260.6 83.0h0.6v0.6h-0.6zM262.5 83.1h0.6v0.6h-0.6zM270.3 82.7h0.6v0.6h-0.6zM272.5 83.2h0.6v0.6h-0.6zM273.2 83.2h0.6v0.6h-0.6zM188.1 83.4h0.6v0.6h-0.6zM188.8 83.2h0.6v0.6h-0.6zM189.8 83.7h0.6v0.6h-0.6zM190.1 83.3h0.6v0.6h-0.6zM190.1 83.5h0.6v0.6h-0.6zM192.2 83.5h0.6v0.6h-0.6zM194.0 83.2h0.6v0.6h-0.6zM195.0 83.6h0.6v0.6h-0.6zM199.3 83.4h0.6v0.6h-0.6zM200.4 83.3h0.6v0.6h-0.6zM205.0 83.5h0.6v0.6h-0.6zM207.1 83.3h0.6v0.6h-0.6zM211.2 83.4h0.6v0.6h-0.6zM211.8 83.6h0.6v0.6h-0.6zM212.0 83.5h0.6v0.6h-0.6zM216.1 83.4h0.6v0.6h-0.6zM220.5 83.3h0.6v0.6h-0.6zM220.9 83.5h0.6v0.6h-0.6zM222.4 83.6h0.6v0.6h-0.6zM225.8 83.6h0.6v0.6h-0.6zM232.9 83.6h0.6v0.6h-0.6zM234.4 83.3h0.6v0.6h-0.6zM237.7 83.7h0.6v0.6h-0.6zM245.6 83.4h0.6v0.6h-0.6zM247.4 83.6h0.6v0.6h-0.6zM250.4 83.6h0.6v0.6h-0.6zM251.0 83.3h0.6v0.6h-0.6zM253.8 83.4h0.6v0.6h-0.6zM262.7 83.6h0.6v0.6h-0.6zM263.5 83.5h0.6v0.6h-0.6zM272.5 83.4h0.6v0.6h-0.6zM188.5 84.0h0.6v0.6h-0.6zM188.6 83.8h0.6v0.6h-0.6zM189.6 83.7h0.6v0.6h-0.6zM190.4 84.0h0.6v0.6h-0.6zM191.8 84.1h0.6v0.6h-0.6zM192.7 84.1h0.6v0.6h-0.6zM193.4 84.0h0.6v0.6h-0.6zM199.6 84.2h0.6v0.6h-0.6zM201.7 84.1h0.6v0.6h-0.6zM201.6 83.8h0.6v0.6h-0.6zM203.0 83.7h0.6v0.6h-0.6zM204.5 83.7h0.6v0.6h-0.6zM207.6 84.2h0.6v0.6h-0.6zM208.0 84.1h0.6v0.6h-0.6zM208.4 84.2h0.6v0.6h-0.6zM208.3 83.8h0.6v0.6h-0.6zM211.5 84.1h0.6v0.6h-0.6zM212.1 83.8h0.6v0.6h-0.6zM212.4 84.0h0.6v0.6h-0.6zM215.4 83.9h0.6v0.6h-0.6zM220.1 84.1h0.6v0.6h-0.6zM223.0 83.9h0.6v0.6h-0.6zM226.7 84.0h0.6v0.6h-0.6zM232.3 84.1h0.6v0.6h-0.6zM232.4 83.8h0.6v0.6h-0.6zM246.1 84.0h0.6v0.6h-0.6zM248.2 84.2h0.6v0.6h-0.6zM249.6 83.8h0.6v0.6h-0.6zM252.2 84.1h0.6v0.6h-0.6zM253.8 83.8h0.6v0.6h-0.6zM254.0 84.2h0.6v0.6h-0.6zM255.9 83.8h0.6v0.6h-0.6zM263.5 84.0h0.6v0.6h-0.6zM267.8 84.1h0.6v0.6h-0.6zM192.5 84.3h0.6v0.6h-0.6zM197.5 84.7h0.6v0.6h-0.6zM203.2 84.6h0.6v0.6h-0.6zM203.9 84.3h0.6v0.6h-0.6zM204.4 84.4h0.6v0.6h-0.6zM208.7 84.6h0.6v0.6h-0.6zM209.7 84.6h0.6v0.6h-0.6zM209.6 84.3h0.6v0.6h-0.6zM210.0 84.6h0.6v0.6h-0.6zM212.7 84.2h0.6v0.6h-0.6zM213.5 84.3h0.6v0.6h-0.6zM214.1 84.5h0.6v0.6h-0.6zM216.0 84.7h0.6v0.6h-0.6zM221.0 84.4h0.6v0.6h-0.6zM223.2 84.2h0.6v0.6h-0.6zM225.9 84.6h0.6v0.6h-0.6zM226.0 84.4h0.6v0.6h-0.6zM235.9 84.4h0.6v0.6h-0.6zM238.9 84.4h0.6v0.6h-0.6zM239.5 84.2h0.6v0.6h-0.6zM246.4 84.7h0.6v0.6h-0.6zM261.4 84.6h0.6v0.6h-0.6zM270.7 84.5h0.6v0.6h-0.6zM187.8 84.7h0.6v0.6h-0.6zM187.9 84.7h0.6v0.6h-0.6zM190.6 84.8h0.6v0.6h-0.6zM193.5 85.2h0.6v0.6h-0.6zM197.7 84.9h0.6v0.6h-0.6zM198.1 84.8h0.6v0.6h-0.6zM203.5 85.2h0.6v0.6h-0.6zM204.2 84.8h0.6v0.6h-0.6zM204.0 84.8h0.6v0.6h-0.6zM206.0 84.9h0.6v0.6h-0.6zM206.9 85.2h0.6v0.6h-0.6zM208.6 84.8h0.6v0.6h-0.6zM209.7 84.7h0.6v0.6h-0.6zM210.9 84.9h0.6v0.6h-0.6zM210.7 85.1h0.6v0.6h-0.6zM212.0 85.2h0.6v0.6h-0.6zM215.8 84.9h0.6v0.6h-0.6zM216.5 85.2h0.6v0.6h-0.6zM219.5 85.1h0.6v0.6h-0.6zM220.4 85.1h0.6v0.6h-0.6zM220.9 84.9h0.6v0.6h-0.6zM220.9 84.9h0.6v0.6h-0.6zM222.0 84.7h0.6v0.6h-0.6zM223.4 84.9h0.6v0.6h-0.6zM225.8 84.7h0.6v0.6h-0.6zM227.5 84.8h0.6v0.6h-0.6zM229.1 84.9h0.6v0.6h-0.6zM230.3 84.9h0.6v0.6h-0.6zM231.8 84.8h0.6v0.6h-0.6zM234.6 85.1h0.6v0.6h-0.6zM235.3 85.1h0.6v0.6h-0.6zM236.5 84.9h0.6v0.6h-0.6zM238.1 84.8h0.6v0.6h-0.6zM238.2 84.8h0.6v0.6h-0.6zM238.4 84.9h0.6v0.6h-0.6zM238.8 84.9h0.6v0.6h-0.6zM242.9 85.0h0.6v0.6h-0.6zM246.4 84.9h0.6v0.6h-0.6zM249.9 85.1h0.6v0.6h-0.6zM187.6 85.3h0.6v0.6h-0.6zM188.0 85.4h0.6v0.6h-0.6zM188.3 85.7h0.6v0.6h-0.6zM189.3 85.2h0.6v0.6h-0.6zM189.7 85.5h0.6v0.6h-0.6zM193.5 85.7h0.6v0.6h-0.6zM195.1 85.3h0.6v0.6h-0.6zM197.2 85.4h0.6v0.6h-0.6zM197.4 85.4h0.6v0.6h-0.6zM197.1 85.4h0.6v0.6h-0.6zM197.1 85.6h0.6v0.6h-0.6zM197.8 85.6h0.6v0.6h-0.6zM198.6 85.7h0.6v0.6h-0.6zM199.2 85.5h0.6v0.6h-0.6zM199.9 85.6h0.6v0.6h-0.6zM200.0 85.3h0.6v0.6h-0.6zM200.4 85.7h0.6v0.6h-0.6zM200.4 85.6h0.6v0.6h-0.6zM201.1 85.3h0.6v0.6h-0.6zM201.5 85.4h0.6v0.6h-0.6zM202.3 85.5h0.6v0.6h-0.6zM203.0 85.4h0.6v0.6h-0.6zM202.6 85.4h0.6v0.6h-0.6zM205.4 85.3h0.6v0.6h-0.6zM205.0 85.3h0.6v0.6h-0.6zM206.9 85.3h0.6v0.6h-0.6zM207.8 85.7h0.6v0.6h-0.6zM207.9 85.3h0.6v0.6h-0.6zM208.0 85.2h0.6v0.6h-0.6zM209.4 85.6h0.6v0.6h-0.6zM211.1 85.5h0.6v0.6h-0.6zM211.6 85.4h0.6v0.6h-0.6zM212.3 85.7h0.6v0.6h-0.6zM212.0 85.6h0.6v0.6h-0.6zM213.4 85.4h0.6v0.6h-0.6zM213.5 85.4h0.6v0.6h-0.6zM213.5 85.4h0.6v0.6h-0.6zM216.7 85.5h0.6v0.6h-0.6zM218.0 85.2h0.6v0.6h-0.6zM218.1 85.3h0.6v0.6h-0.6zM218.6 85.5h0.6v0.6h-0.6zM219.2 85.6h0.6v0.6h-0.6zM220.4 85.6h0.6v0.6h-0.6zM220.4 85.7h0.6v0.6h-0.6zM221.3 85.4h0.6v0.6h-0.6zM221.2 85.3h0.6v0.6h-0.6zM223.1 85.7h0.6v0.6h-0.6zM224.4 85.6h0.6v0.6h-0.6zM224.9 85.6h0.6v0.6h-0.6zM225.7 85.2h0.6v0.6h-0.6zM225.7 85.7h0.6v0.6h-0.6zM227.6 85.5h0.6v0.6h-0.6zM228.6 85.6h0.6v0.6h-0.6zM229.9 85.3h0.6v0.6h-0.6zM229.8 85.7h0.6v0.6h-0.6zM232.2 85.4h0.6v0.6h-0.6zM234.2 85.4h0.6v0.6h-0.6zM236.3 85.3h0.6v0.6h-0.6zM237.8 85.4h0.6v0.6h-0.6zM238.5 85.4h0.6v0.6h-0.6zM241.5 85.6h0.6v0.6h-0.6zM243.0 85.7h0.6v0.6h-0.6zM243.9 85.4h0.6v0.6h-0.6zM243.8 85.3h0.6v0.6h-0.6zM245.0 85.6h0.6v0.6h-0.6zM246.2 85.6h0.6v0.6h-0.6zM246.8 85.2h0.6v0.6h-0.6zM250.7 85.2h0.6v0.6h-0.6zM258.3 85.6h0.6v0.6h-0.6zM260.6 85.3h0.6v0.6h-0.6zM261.0 85.5h0.6v0.6h-0.6zM262.0 85.7h0.6v0.6h-0.6zM262.8 85.4h0.6v0.6h-0.6zM269.4 85.2h0.6v0.6h-0.6zM270.2 85.5h0.6v0.6h-0.6zM273.5 85.4h0.6v0.6h-0.6zM188.5 85.9h0.6v0.6h-0.6zM189.0 86.0h0.6v0.6h-0.6zM188.7 86.0h0.6v0.6h-0.6zM193.8 85.9h0.6v0.6h-0.6zM194.6 85.7h0.6v0.6h-0.6zM195.3 86.2h0.6v0.6h-0.6zM196.1 85.8h0.6v0.6h-0.6zM196.8 85.8h0.6v0.6h-0.6zM196.7 86.1h0.6v0.6h-0.6zM196.7 86.1h0.6v0.6h-0.6zM198.0 86.2h0.6v0.6h-0.6zM198.7 86.1h0.6v0.6h-0.6zM199.2 86.1h0.6v0.6h-0.6zM202.3 86.0h0.6v0.6h-0.6zM203.1 85.9h0.6v0.6h-0.6zM203.5 86.1h0.6v0.6h-0.6zM204.7 86.1h0.6v0.6h-0.6zM205.0 85.9h0.6v0.6h-0.6zM205.7 86.0h0.6v0.6h-0.6zM206.3 85.7h0.6v0.6h-0.6zM206.7 85.8h0.6v0.6h-0.6zM207.5 85.7h0.6v0.6h-0.6zM207.7 85.8h0.6v0.6h-0.6zM208.1 85.8h0.6v0.6h-0.6zM208.6 86.0h0.6v0.6h-0.6zM209.3 86.0h0.6v0.6h-0.6zM210.0 85.9h0.6v0.6h-0.6zM210.4 86.0h0.6v0.6h-0.6zM210.4 86.0h0.6v0.6h-0.6zM210.5 86.2h0.6v0.6h-0.6zM211.8 86.2h0.6v0.6h-0.6zM213.0 85.7h0.6v0.6h-0.6zM213.1 85.9h0.6v0.6h-0.6zM213.4 85.8h0.6v0.6h-0.6zM213.8 85.8h0.6v0.6h-0.6zM213.7 85.9h0.6v0.6h-0.6zM214.1 86.1h0.6v0.6h-0.6zM217.3 86.2h0.6v0.6h-0.6zM217.6 86.0h0.6v0.6h-0.6zM219.8 86.1h0.6v0.6h-0.6zM219.6 85.8h0.6v0.6h-0.6zM220.2 86.2h0.6v0.6h-0.6zM220.1 86.0h0.6v0.6h-0.6zM220.6 85.7h0.6v0.6h-0.6zM220.9 85.9h0.6v0.6h-0.6zM221.2 86.1h0.6v0.6h-0.6zM221.8 86.2h0.6v0.6h-0.6zM221.6 86.1h0.6v0.6h-0.6zM221.6 86.1h0.6v0.6h-0.6zM222.2 86.1h0.6v0.6h-0.6zM222.7 86.1h0.6v0.6h-0.6zM223.2 85.7h0.6v0.6h-0.6zM223.3 85.8h0.6v0.6h-0.6zM224.4 86.1h0.6v0.6h-0.6zM225.2 85.8h0.6v0.6h-0.6zM226.4 86.2h0.6v0.6h-0.6zM227.5 86.1h0.6v0.6h-0.6zM228.1 86.1h0.6v0.6h-0.6zM231.7 85.9h0.6v0.6h-0.6zM232.6 86.1h0.6v0.6h-0.6zM233.5 85.9h0.6v0.6h-0.6zM234.6 85.9h0.6v0.6h-0.6zM235.1 85.8h0.6v0.6h-0.6zM235.7 85.9h0.6v0.6h-0.6zM236.0 86.2h0.6v0.6h-0.6zM237.0 86.1h0.6v0.6h-0.6zM237.7 86.0h0.6v0.6h-0.6zM239.0 86.1h0.6v0.6h-0.6zM241.0 86.1h0.6v0.6h-0.6zM242.7 85.8h0.6v0.6h-0.6zM244.6 86.2h0.6v0.6h-0.6zM245.7 86.0h0.6v0.6h-0.6zM245.9 85.7h0.6v0.6h-0.6zM248.6 86.1h0.6v0.6h-0.6zM249.2 85.8h0.6v0.6h-0.6zM252.8 85.8h0.6v0.6h-0.6zM254.4 86.0h0.6v0.6h-0.6zM254.9 85.8h0.6v0.6h-0.6zM257.6 86.0h0.6v0.6h-0.6zM271.3 86.2h0.6v0.6h-0.6zM272.5 86.2h0.6v0.6h-0.6zM274.0 86.1h0.6v0.6h-0.6zM188.4 86.5h0.6v0.6h-0.6zM188.1 86.4h0.6v0.6h-0.6zM189.2 86.3h0.6v0.6h-0.6zM190.8 86.3h0.6v0.6h-0.6zM190.6 86.5h0.6v0.6h-0.6zM194.7 86.6h0.6v0.6h-0.6zM194.5 86.7h0.6v0.6h-0.6zM196.8 86.4h0.6v0.6h-0.6zM197.2 86.6h0.6v0.6h-0.6zM198.0 86.3h0.6v0.6h-0.6zM198.3 86.4h0.6v0.6h-0.6zM198.9 86.6h0.6v0.6h-0.6zM200.7 86.3h0.6v0.6h-0.6zM201.1 86.6h0.6v0.6h-0.6zM203.2 86.6h0.6v0.6h-0.6zM205.4 86.6h0.6v0.6h-0.6zM206.6 86.7h0.6v0.6h-0.6zM209.2 86.7h0.6v0.6h-0.6zM209.0 86.6h0.6v0.6h-0.6zM209.9 86.6h0.6v0.6h-0.6zM210.8 86.7h0.6v0.6h-0.6zM211.1 86.4h0.6v0.6h-0.6zM212.1 86.6h0.6v0.6h-0.6zM212.3 86.6h0.6v0.6h-0.6zM213.0 86.2h0.6v0.6h-0.6zM213.5 86.6h0.6v0.6h-0.6zM214.3 86.2h0.6v0.6h-0.6zM214.0 86.6h0.6v0.6h-0.6zM214.6 86.5h0.6v0.6h-0.6zM216.1 86.7h0.6v0.6h-0.6zM217.2 86.6h0.6v0.6h-0.6zM217.7 86.2h0.6v0.6h-0.6zM218.1 86.6h0.6v0.6h-0.6zM219.2 86.6h0.6v0.6h-0.6zM219.1 86.4h0.6v0.6h-0.6zM219.3 86.6h0.6v0.6h-0.6zM222.0 86.4h0.6v0.6h-0.6zM225.1 86.3h0.6v0.6h-0.6zM225.8 86.5h0.6v0.6h-0.6zM226.6 86.3h0.6v0.6h-0.6zM228.5 86.3h0.6v0.6h-0.6zM229.9 86.6h0.6v0.6h-0.6zM231.7 86.6h0.6v0.6h-0.6zM232.8 86.5h0.6v0.6h-0.6zM236.9 86.4h0.6v0.6h-0.6zM237.3 86.7h0.6v0.6h-0.6zM239.0 86.5h0.6v0.6h-0.6zM241.2 86.2h0.6v0.6h-0.6zM244.7 86.3h0.6v0.6h-0.6zM245.7 86.3h0.6v0.6h-0.6zM246.5 86.3h0.6v0.6h-0.6zM247.3 86.2h0.6v0.6h-0.6zM247.2 86.7h0.6v0.6h-0.6zM251.2 86.2h0.6v0.6h-0.6zM256.8 86.6h0.6v0.6h-0.6zM262.0 86.5h0.6v0.6h-0.6zM263.5 86.6h0.6v0.6h-0.6zM266.8 86.6h0.6v0.6h-0.6zM268.0 86.6h0.6v0.6h-0.6zM271.9 86.4h0.6v0.6h-0.6zM274.2 86.7h0.6v0.6h-0.6zM188.7 87.1h0.6v0.6h-0.6zM189.2 86.7h0.6v0.6h-0.6zM190.3 87.1h0.6v0.6h-0.6zM190.0 87.2h0.6v0.6h-0.6zM190.7 86.9h0.6v0.6h-0.6zM190.9 87.0h0.6v0.6h-0.6zM191.7 87.2h0.6v0.6h-0.6zM191.6 87.1h0.6v0.6h-0.6zM193.5 87.1h0.6v0.6h-0.6zM194.4 86.9h0.6v0.6h-0.6zM194.2 87.0h0.6v0.6h-0.6zM195.5 86.8h0.6v0.6h-0.6zM195.2 86.9h0.6v0.6h-0.6zM196.2 86.8h0.6v0.6h-0.6zM196.2 86.9h0.6v0.6h-0.6zM196.8 86.9h0.6v0.6h-0.6zM197.4 87.1h0.6v0.6h-0.6zM198.3 87.1h0.6v0.6h-0.6zM198.8 86.9h0.6v0.6h-0.6zM198.8 87.1h0.6v0.6h-0.6zM202.3 87.1h0.6v0.6h-0.6zM205.2 87.0h0.6v0.6h-0.6zM205.3 87.0h0.6v0.6h-0.6zM208.7 86.8h0.6v0.6h-0.6zM209.0 86.7h0.6v0.6h-0.6zM210.0 86.9h0.6v0.6h-0.6zM211.7 87.0h0.6v0.6h-0.6zM212.5 86.9h0.6v0.6h-0.6zM213.2 87.0h0.6v0.6h-0.6zM214.3 86.7h0.6v0.6h-0.6zM214.9 86.9h0.6v0.6h-0.6zM216.8 87.0h0.6v0.6h-0.6zM218.5 86.9h0.6v0.6h-0.6zM219.2 87.1h0.6v0.6h-0.6zM220.0 87.1h0.6v0.6h-0.6zM221.4 86.7h0.6v0.6h-0.6zM223.3 86.9h0.6v0.6h-0.6zM224.8 87.0h0.6v0.6h-0.6zM225.7 87.1h0.6v0.6h-0.6zM226.9 86.7h0.6v0.6h-0.6zM227.9 87.1h0.6v0.6h-0.6zM227.9 86.9h0.6v0.6h-0.6zM228.7 87.1h0.6v0.6h-0.6zM232.4 86.8h0.6v0.6h-0.6zM234.8 86.9h0.6v0.6h-0.6zM235.7 86.9h0.6v0.6h-0.6zM235.7 87.1h0.6v0.6h-0.6zM236.9 86.7h0.6v0.6h-0.6zM237.5 86.7h0.6v0.6h-0.6zM238.1 86.8h0.6v0.6h-0.6zM239.6 86.8h0.6v0.6h-0.6zM240.7 87.1h0.6v0.6h-0.6zM240.8 86.8h0.6v0.6h-0.6zM241.8 87.0h0.6v0.6h-0.6zM245.0 87.1h0.6v0.6h-0.6zM250.1 87.0h0.6v0.6h-0.6zM250.8 86.7h0.6v0.6h-0.6zM252.1 86.8h0.6v0.6h-0.6zM252.5 87.1h0.6v0.6h-0.6zM258.9 86.8h0.6v0.6h-0.6zM264.2 87.0h0.6v0.6h-0.6zM268.5 86.8h0.6v0.6h-0.6zM269.2 86.8h0.6v0.6h-0.6zM271.2 87.0h0.6v0.6h-0.6zM274.0 87.1h0.6v0.6h-0.6zM189.2 87.4h0.6v0.6h-0.6zM190.3 87.6h0.6v0.6h-0.6zM190.6 87.3h0.6v0.6h-0.6zM193.8 87.6h0.6v0.6h-0.6zM194.6 87.4h0.6v0.6h-0.6zM195.0 87.2h0.6v0.6h-0.6zM198.0 87.6h0.6v0.6h-0.6zM197.8 87.2h0.6v0.6h-0.6zM197.8 87.6h0.6v0.6h-0.6zM198.7 87.6h0.6v0.6h-0.6zM199.0 87.3h0.6v0.6h-0.6zM199.5 87.3h0.6v0.6h-0.6zM201.8 87.6h0.6v0.6h-0.6zM203.0 87.6h0.6v0.6h-0.6zM203.3 87.3h0.6v0.6h-0.6zM203.7 87.3h0.6v0.6h-0.6zM203.8 87.2h0.6v0.6h-0.6zM205.9 87.5h0.6v0.6h-0.6zM206.4 87.6h0.6v0.6h-0.6zM210.8 87.4h0.6v0.6h-0.6zM212.5 87.6h0.6v0.6h-0.6zM212.6 87.3h0.6v0.6h-0.6zM213.5 87.5h0.6v0.6h-0.6zM214.7 87.3h0.6v0.6h-0.6zM214.9 87.3h0.6v0.6h-0.6zM216.0 87.7h0.6v0.6h-0.6zM217.0 87.5h0.6v0.6h-0.6zM217.3 87.4h0.6v0.6h-0.6zM218.2 87.7h0.6v0.6h-0.6zM218.5 87.7h0.6v0.6h-0.6zM219.7 87.5h0.6v0.6h-0.6zM220.3 87.6h0.6v0.6h-0.6zM221.6 87.3h0.6v0.6h-0.6zM222.6 87.4h0.6v0.6h-0.6zM223.5 87.7h0.6v0.6h-0.6zM225.2 87.4h0.6v0.6h-0.6zM225.5 87.6h0.6v0.6h-0.6zM226.1 87.2h0.6v0.6h-0.6zM227.4 87.4h0.6v0.6h-0.6zM227.4 87.4h0.6v0.6h-0.6zM228.7 87.4h0.6v0.6h-0.6zM230.0 87.3h0.6v0.6h-0.6zM230.1 87.6h0.6v0.6h-0.6zM234.2 87.6h0.6v0.6h-0.6zM235.5 87.4h0.6v0.6h-0.6zM237.1 87.2h0.6v0.6h-0.6zM239.5 87.3h0.6v0.6h-0.6zM242.4 87.2h0.6v0.6h-0.6zM242.5 87.5h0.6v0.6h-0.6zM246.3 87.5h0.6v0.6h-0.6zM246.6 87.3h0.6v0.6h-0.6zM248.4 87.5h0.6v0.6h-0.6zM248.3 87.3h0.6v0.6h-0.6zM250.5 87.5h0.6v0.6h-0.6zM251.7 87.2h0.6v0.6h-0.6zM252.2 87.7h0.6v0.6h-0.6zM253.4 87.2h0.6v0.6h-0.6zM262.9 87.6h0.6v0.6h-0.6zM265.6 87.6h0.6v0.6h-0.6zM271.0 87.4h0.6v0.6h-0.6zM273.1 87.4h0.6v0.6h-0.6zM188.5 87.9h0.6v0.6h-0.6zM188.6 87.9h0.6v0.6h-0.6zM189.4 88.0h0.6v0.6h-0.6zM190.1 87.9h0.6v0.6h-0.6zM190.1 88.1h0.6v0.6h-0.6zM190.8 87.7h0.6v0.6h-0.6zM190.5 87.9h0.6v0.6h-0.6zM191.3 88.0h0.6v0.6h-0.6zM192.2 87.9h0.6v0.6h-0.6zM192.2 87.8h0.6v0.6h-0.6zM194.2 88.0h0.6v0.6h-0.6zM195.1 88.2h0.6v0.6h-0.6zM197.8 87.8h0.6v0.6h-0.6zM198.2 87.8h0.6v0.6h-0.6zM200.1 87.8h0.6v0.6h-0.6zM200.1 87.8h0.6v0.6h-0.6zM201.0 87.7h0.6v0.6h-0.6zM201.2 88.0h0.6v0.6h-0.6zM201.0 87.9h0.6v0.6h-0.6zM201.2 87.9h0.6v0.6h-0.6zM201.3 88.0h0.6v0.6h-0.6zM201.8 87.8h0.6v0.6h-0.6zM201.5 88.0h0.6v0.6h-0.6zM202.3 88.0h0.6v0.6h-0.6zM204.8 88.2h0.6v0.6h-0.6zM205.4 87.9h0.6v0.6h-0.6zM206.1 87.8h0.6v0.6h-0.6zM206.3 88.1h0.6v0.6h-0.6zM208.3 88.1h0.6v0.6h-0.6zM208.0 87.7h0.6v0.6h-0.6zM208.8 88.1h0.6v0.6h-0.6zM209.1 88.2h0.6v0.6h-0.6zM209.2 87.7h0.6v0.6h-0.6zM209.8 88.2h0.6v0.6h-0.6zM211.5 88.2h0.6v0.6h-0.6zM212.7 88.1h0.6v0.6h-0.6zM213.7 88.1h0.6v0.6h-0.6zM214.3 87.9h0.6v0.6h-0.6zM216.0 87.9h0.6v0.6h-0.6zM216.3 87.8h0.6v0.6h-0.6zM216.7 87.8h0.6v0.6h-0.6zM218.1 87.9h0.6v0.6h-0.6zM219.1 88.0h0.6v0.6h-0.6zM220.8 87.9h0.6v0.6h-0.6zM221.5 87.9h0.6v0.6h-0.6zM223.1 88.0h0.6v0.6h-0.6zM223.9 87.7h0.6v0.6h-0.6zM224.2 87.9h0.6v0.6h-0.6zM225.0 88.2h0.6v0.6h-0.6zM226.6 87.8h0.6v0.6h-0.6zM227.0 87.9h0.6v0.6h-0.6zM227.3 88.0h0.6v0.6h-0.6zM229.2 87.8h0.6v0.6h-0.6zM229.4 87.8h0.6v0.6h-0.6zM229.7 88.0h0.6v0.6h-0.6zM231.5 87.8h0.6v0.6h-0.6zM232.7 87.8h0.6v0.6h-0.6zM234.6 88.2h0.6v0.6h-0.6zM235.5 87.9h0.6v0.6h-0.6zM241.1 87.8h0.6v0.6h-0.6zM243.0 87.9h0.6v0.6h-0.6zM243.3 88.0h0.6v0.6h-0.6zM245.5 88.2h0.6v0.6h-0.6zM256.2 88.0h0.6v0.6h-0.6zM260.1 88.0h0.6v0.6h-0.6zM263.6 87.7h0.6v0.6h-0.6zM269.4 88.2h0.6v0.6h-0.6zM188.8 88.6h0.6v0.6h-0.6zM189.5 88.4h0.6v0.6h-0.6zM190.4 88.4h0.6v0.6h-0.6zM190.8 88.2h0.6v0.6h-0.6zM190.6 88.4h0.6v0.6h-0.6zM191.3 88.3h0.6v0.6h-0.6zM191.5 88.6h0.6v0.6h-0.6zM191.6 88.3h0.6v0.6h-0.6zM191.5 88.3h0.6v0.6h-0.6zM192.4 88.3h0.6v0.6h-0.6zM193.3 88.5h0.6v0.6h-0.6zM193.5 88.4h0.6v0.6h-0.6zM194.1 88.5h0.6v0.6h-0.6zM195.7 88.3h0.6v0.6h-0.6zM196.4 88.4h0.6v0.6h-0.6zM197.5 88.6h0.6v0.6h-0.6zM199.9 88.4h0.6v0.6h-0.6zM200.4 88.4h0.6v0.6h-0.6zM201.8 88.4h0.6v0.6h-0.6zM202.1 88.7h0.6v0.6h-0.6zM204.0 88.2h0.6v0.6h-0.6zM205.2 88.3h0.6v0.6h-0.6zM205.4 88.6h0.6v0.6h-0.6zM205.7 88.2h0.6v0.6h-0.6zM208.3 88.4h0.6v0.6h-0.6zM209.0 88.4h0.6v0.6h-0.6zM210.3 88.7h0.6v0.6h-0.6zM210.5 88.3h0.6v0.6h-0.6zM211.7 88.5h0.6v0.6h-0.6zM211.9 88.6h0.6v0.6h-0.6zM212.4 88.5h0.6v0.6h-0.6zM214.9 88.6h0.6v0.6h-0.6zM215.1 88.7h0.6v0.6h-0.6zM215.7 88.2h0.6v0.6h-0.6zM216.6 88.5h0.6v0.6h-0.6zM216.7 88.5h0.6v0.6h-0.6zM217.4 88.4h0.6v0.6h-0.6zM217.6 88.6h0.6v0.6h-0.6zM218.0 88.7h0.6v0.6h-0.6zM218.9 88.4h0.6v0.6h-0.6zM218.8 88.6h0.6v0.6h-0.6zM219.0 88.7h0.6v0.6h-0.6zM220.3 88.4h0.6v0.6h-0.6zM220.5 88.7h0.6v0.6h-0.6zM221.1 88.3h0.6v0.6h-0.6zM222.4 88.6h0.6v0.6h-0.6zM222.2 88.5h0.6v0.6h-0.6zM223.0 88.4h0.6v0.6h-0.6zM224.0 88.7h0.6v0.6h-0.6zM224.5 88.7h0.6v0.6h-0.6zM224.6 88.3h0.6v0.6h-0.6zM225.0 88.5h0.6v0.6h-0.6zM226.0 88.5h0.6v0.6h-0.6zM227.1 88.3h0.6v0.6h-0.6zM229.4 88.3h0.6v0.6h-0.6zM229.9 88.5h0.6v0.6h-0.6zM230.7 88.4h0.6v0.6h-0.6zM231.4 88.7h0.6v0.6h-0.6zM231.6 88.6h0.6v0.6h-0.6zM232.8 88.3h0.6v0.6h-0.6zM233.1 88.3h0.6v0.6h-0.6zM237.0 88.6h0.6v0.6h-0.6zM238.0 88.4h0.6v0.6h-0.6zM239.4 88.3h0.6v0.6h-0.6zM240.7 88.4h0.6v0.6h-0.6zM243.3 88.2h0.6v0.6h-0.6zM243.8 88.3h0.6v0.6h-0.6zM244.3 88.3h0.6v0.6h-0.6zM245.3 88.2h0.6v0.6h-0.6zM245.1 88.6h0.6v0.6h-0.6zM246.6 88.3h0.6v0.6h-0.6zM247.3 88.5h0.6v0.6h-0.6zM247.5 88.5h0.6v0.6h-0.6zM262.0 88.3h0.6v0.6h-0.6zM268.7 88.2h0.6v0.6h-0.6zM269.8 88.2h0.6v0.6h-0.6zM271.7 88.3h0.6v0.6h-0.6zM271.9 88.3h0.6v0.6h-0.6zM273.1 88.5h0.6v0.6h-0.6zM273.0 88.5h0.6v0.6h-0.6zM273.6 88.3h0.6v0.6h-0.6zM188.0 88.7h0.6v0.6h-0.6zM189.6 88.9h0.6v0.6h-0.6zM189.9 88.8h0.6v0.6h-0.6zM190.6 88.8h0.6v0.6h-0.6zM191.8 89.2h0.6v0.6h-0.6zM192.3 88.7h0.6v0.6h-0.6zM194.2 89.0h0.6v0.6h-0.6zM196.4 89.2h0.6v0.6h-0.6zM198.1 89.1h0.6v0.6h-0.6zM198.9 89.0h0.6v0.6h-0.6zM200.3 89.0h0.6v0.6h-0.6zM200.7 88.7h0.6v0.6h-0.6zM202.6 88.7h0.6v0.6h-0.6zM202.9 88.8h0.6v0.6h-0.6zM203.5 89.0h0.6v0.6h-0.6zM206.3 89.0h0.6v0.6h-0.6zM206.9 89.1h0.6v0.6h-0.6zM207.1 89.0h0.6v0.6h-0.6zM207.4 89.0h0.6v0.6h-0.6zM207.9 89.0h0.6v0.6h-0.6zM208.7 88.7h0.6v0.6h-0.6zM208.6 89.1h0.6v0.6h-0.6zM210.1 89.1h0.6v0.6h-0.6zM211.4 89.2h0.6v0.6h-0.6zM211.4 89.2h0.6v0.6h-0.6zM213.6 88.7h0.6v0.6h-0.6zM214.9 88.9h0.6v0.6h-0.6zM215.9 89.1h0.6v0.6h-0.6zM216.5 88.8h0.6v0.6h-0.6zM217.1 89.0h0.6v0.6h-0.6zM218.0 89.0h0.6v0.6h-0.6zM218.3 88.9h0.6v0.6h-0.6zM218.0 89.1h0.6v0.6h-0.6zM219.5 89.0h0.6v0.6h-0.6zM220.9 88.8h0.6v0.6h-0.6zM220.9 88.8h0.6v0.6h-0.6zM221.2 89.1h0.6v0.6h-0.6zM221.9 89.2h0.6v0.6h-0.6zM222.4 88.7h0.6v0.6h-0.6zM222.9 89.1h0.6v0.6h-0.6zM224.0 88.9h0.6v0.6h-0.6zM224.1 89.1h0.6v0.6h-0.6zM224.1 88.9h0.6v0.6h-0.6zM225.9 88.8h0.6v0.6h-0.6zM226.1 88.9h0.6v0.6h-0.6zM227.9 89.2h0.6v0.6h-0.6zM228.1 88.8h0.6v0.6h-0.6zM229.9 88.8h0.6v0.6h-0.6zM229.8 88.9h0.6v0.6h-0.6zM229.9 88.8h0.6v0.6h-0.6zM230.3 89.0h0.6v0.6h-0.6zM231.0 88.7h0.6v0.6h-0.6zM232.6 88.7h0.6v0.6h-0.6zM232.7 89.0h0.6v0.6h-0.6zM233.2 89.0h0.6v0.6h-0.6zM233.8 89.1h0.6v0.6h-0.6zM233.9 88.7h0.6v0.6h-0.6zM234.0 88.7h0.6v0.6h-0.6zM236.8 88.8h0.6v0.6h-0.6zM237.2 88.8h0.6v0.6h-0.6zM238.7 88.9h0.6v0.6h-0.6zM239.3 88.7h0.6v0.6h-0.6zM239.8 88.9h0.6v0.6h-0.6zM240.3 88.9h0.6v0.6h-0.6zM241.5 88.9h0.6v0.6h-0.6zM242.3 89.1h0.6v0.6h-0.6zM242.7 88.8h0.6v0.6h-0.6zM243.0 88.8h0.6v0.6h-0.6zM244.5 89.0h0.6v0.6h-0.6zM244.5 88.8h0.6v0.6h-0.6zM246.1 89.1h0.6v0.6h-0.6zM247.5 88.9h0.6v0.6h-0.6zM249.3 89.0h0.6v0.6h-0.6zM249.8 88.7h0.6v0.6h-0.6zM253.3 89.0h0.6v0.6h-0.6zM254.9 88.9h0.6v0.6h-0.6zM255.2 88.9h0.6v0.6h-0.6zM257.6 89.1h0.6v0.6h-0.6zM262.3 88.8h0.6v0.6h-0.6zM263.8 88.9h0.6v0.6h-0.6zM271.8 89.2h0.6v0.6h-0.6zM274.5 88.9h0.6v0.6h-0.6zM187.6 89.6h0.6v0.6h-0.6zM188.5 89.6h0.6v0.6h-0.6zM188.8 89.6h0.6v0.6h-0.6zM189.0 89.3h0.6v0.6h-0.6zM189.0 89.6h0.6v0.6h-0.6zM190.0 89.5h0.6v0.6h-0.6zM190.7 89.4h0.6v0.6h-0.6zM193.5 89.6h0.6v0.6h-0.6zM195.0 89.3h0.6v0.6h-0.6zM196.8 89.4h0.6v0.6h-0.6zM198.8 89.7h0.6v0.6h-0.6zM200.9 89.5h0.6v0.6h-0.6zM201.0 89.4h0.6v0.6h-0.6zM201.2 89.6h0.6v0.6h-0.6zM204.1 89.3h0.6v0.6h-0.6zM204.6 89.5h0.6v0.6h-0.6zM204.5 89.4h0.6v0.6h-0.6zM205.2 89.6h0.6v0.6h-0.6zM205.5 89.6h0.6v0.6h-0.6zM205.7 89.4h0.6v0.6h-0.6zM205.5 89.4h0.6v0.6h-0.6zM207.0 89.6h0.6v0.6h-0.6zM207.1 89.3h0.6v0.6h-0.6zM207.8 89.5h0.6v0.6h-0.6zM209.0 89.7h0.6v0.6h-0.6zM208.9 89.3h0.6v0.6h-0.6zM210.2 89.3h0.6v0.6h-0.6zM210.8 89.3h0.6v0.6h-0.6zM211.7 89.6h0.6v0.6h-0.6zM212.1 89.6h0.6v0.6h-0.6zM212.3 89.3h0.6v0.6h-0.6zM212.8 89.5h0.6v0.6h-0.6zM213.7 89.6h0.6v0.6h-0.6zM218.4 89.5h0.6v0.6h-0.6zM219.8 89.6h0.6v0.6h-0.6zM220.3 89.6h0.6v0.6h-0.6zM221.2 89.4h0.6v0.6h-0.6zM221.2 89.4h0.6v0.6h-0.6zM221.4 89.4h0.6v0.6h-0.6zM221.8 89.4h0.6v0.6h-0.6zM222.8 89.3h0.6v0.6h-0.6zM223.0 89.4h0.6v0.6h-0.6zM223.6 89.6h0.6v0.6h-0.6zM224.9 89.6h0.6v0.6h-0.6zM224.7 89.5h0.6v0.6h-0.6zM225.4 89.4h0.6v0.6h-0.6zM225.1 89.7h0.6v0.6h-0.6zM225.5 89.2h0.6v0.6h-0.6zM226.1 89.6h0.6v0.6h-0.6zM226.3 89.6h0.6v0.6h-0.6zM228.2 89.3h0.6v0.6h-0.6zM229.6 89.7h0.6v0.6h-0.6zM230.3 89.5h0.6v0.6h-0.6zM230.8 89.5h0.6v0.6h-0.6zM232.1 89.2h0.6v0.6h-0.6zM233.0 89.3h0.6v0.6h-0.6zM233.4 89.4h0.6v0.6h-0.6zM235.7 89.7h0.6v0.6h-0.6zM237.4 89.6h0.6v0.6h-0.6zM237.1 89.6h0.6v0.6h-0.6zM238.2 89.6h0.6v0.6h-0.6zM238.9 89.2h0.6v0.6h-0.6zM241.9 89.4h0.6v0.6h-0.6zM242.5 89.5h0.6v0.6h-0.6zM244.9 89.3h0.6v0.6h-0.6zM252.3 89.5h0.6v0.6h-0.6zM256.3 89.6h0.6v0.6h-0.6zM266.4 89.5h0.6v0.6h-0.6zM270.5 89.2h0.6v0.6h-0.6zM273.3 89.5h0.6v0.6h-0.6zM187.8 90.1h0.6v0.6h-0.6zM189.2 89.8h0.6v0.6h-0.6zM189.8 89.7h0.6v0.6h-0.6zM190.4 90.1h0.6v0.6h-0.6zM192.1 90.1h0.6v0.6h-0.6zM192.6 90.1h0.6v0.6h-0.6zM193.5 89.7h0.6v0.6h-0.6zM194.7 89.9h0.6v0.6h-0.6zM195.2 89.7h0.6v0.6h-0.6zM195.5 89.9h0.6v0.6h-0.6zM196.3 90.2h0.6v0.6h-0.6zM196.9 89.9h0.6v0.6h-0.6zM197.2 90.1h0.6v0.6h-0.6zM199.2 90.0h0.6v0.6h-0.6zM199.7 90.1h0.6v0.6h-0.6zM199.7 89.8h0.6v0.6h-0.6zM200.7 89.9h0.6v0.6h-0.6zM201.8 89.8h0.6v0.6h-0.6zM201.7 90.1h0.6v0.6h-0.6zM202.4 89.7h0.6v0.6h-0.6zM202.2 90.1h0.6v0.6h-0.6zM202.5 89.9h0.6v0.6h-0.6zM202.6 90.0h0.6v0.6h-0.6zM203.7 90.0h0.6v0.6h-0.6zM203.8 89.7h0.6v0.6h-0.6zM204.7 89.7h0.6v0.6h-0.6zM205.5 89.7h0.6v0.6h-0.6zM205.6 89.8h0.6v0.6h-0.6zM208.6 90.0h0.6v0.6h-0.6zM208.6 90.1h0.6v0.6h-0.6zM210.5 90.1h0.6v0.6h-0.6zM210.7 89.8h0.6v0.6h-0.6zM210.6 90.1h0.6v0.6h-0.6zM211.0 90.2h0.6v0.6h-0.6zM212.4 90.1h0.6v0.6h-0.6zM214.5 89.7h0.6v0.6h-0.6zM215.1 89.9h0.6v0.6h-0.6zM215.3 89.8h0.6v0.6h-0.6zM216.3 89.7h0.6v0.6h-0.6zM216.7 89.8h0.6v0.6h-0.6zM217.4 90.1h0.6v0.6h-0.6zM218.9 89.9h0.6v0.6h-0.6zM218.6 90.1h0.6v0.6h-0.6zM220.2 89.8h0.6v0.6h-0.6zM221.0 89.8h0.6v0.6h-0.6zM221.3 89.9h0.6v0.6h-0.6zM222.7 89.7h0.6v0.6h-0.6zM223.3 90.2h0.6v0.6h-0.6zM223.6 90.1h0.6v0.6h-0.6zM226.5 90.1h0.6v0.6h-0.6zM228.7 90.1h0.6v0.6h-0.6zM229.8 89.9h0.6v0.6h-0.6zM230.4 89.9h0.6v0.6h-0.6zM231.5 90.1h0.6v0.6h-0.6zM231.0 90.1h0.6v0.6h-0.6zM234.3 90.2h0.6v0.6h-0.6zM236.3 90.0h0.6v0.6h-0.6zM236.8 89.8h0.6v0.6h-0.6zM240.2 90.1h0.6v0.6h-0.6zM240.6 89.9h0.6v0.6h-0.6zM243.4 90.1h0.6v0.6h-0.6zM243.6 89.8h0.6v0.6h-0.6zM245.4 90.1h0.6v0.6h-0.6zM247.1 89.8h0.6v0.6h-0.6zM249.0 90.2h0.6v0.6h-0.6zM254.5 89.7h0.6v0.6h-0.6zM254.7 89.8h0.6v0.6h-0.6zM254.7 90.0h0.6v0.6h-0.6zM255.7 90.0h0.6v0.6h-0.6zM256.3 90.0h0.6v0.6h-0.6zM256.5 89.8h0.6v0.6h-0.6zM257.6 90.1h0.6v0.6h-0.6zM270.7 89.7h0.6v0.6h-0.6zM187.9 90.5h0.6v0.6h-0.6zM187.9 90.3h0.6v0.6h-0.6zM189.4 90.3h0.6v0.6h-0.6zM190.4 90.4h0.6v0.6h-0.6zM190.4 90.6h0.6v0.6h-0.6zM193.4 90.6h0.6v0.6h-0.6zM194.4 90.6h0.6v0.6h-0.6zM194.4 90.2h0.6v0.6h-0.6zM194.2 90.6h0.6v0.6h-0.6zM194.5 90.3h0.6v0.6h-0.6zM195.9 90.6h0.6v0.6h-0.6zM195.9 90.5h0.6v0.6h-0.6zM198.3 90.3h0.6v0.6h-0.6zM200.7 90.3h0.6v0.6h-0.6zM201.7 90.5h0.6v0.6h-0.6zM202.2 90.7h0.6v0.6h-0.6zM202.9 90.5h0.6v0.6h-0.6zM204.1 90.3h0.6v0.6h-0.6zM204.1 90.3h0.6v0.6h-0.6zM205.2 90.3h0.6v0.6h-0.6zM205.1 90.7h0.6v0.6h-0.6zM205.7 90.3h0.6v0.6h-0.6zM206.4 90.4h0.6v0.6h-0.6zM207.0 90.5h0.6v0.6h-0.6zM207.3 90.6h0.6v0.6h-0.6zM208.5 90.5h0.6v0.6h-0.6zM209.4 90.2h0.6v0.6h-0.6zM209.8 90.5h0.6v0.6h-0.6zM215.1 90.3h0.6v0.6h-0.6zM217.5 90.7h0.6v0.6h-0.6zM218.0 90.2h0.6v0.6h-0.6zM217.8 90.5h0.6v0.6h-0.6zM219.5 90.6h0.6v0.6h-0.6zM220.1 90.6h0.6v0.6h-0.6zM221.1 90.7h0.6v0.6h-0.6zM221.9 90.4h0.6v0.6h-0.6zM223.2 90.5h0.6v0.6h-0.6zM224.0 90.6h0.6v0.6h-0.6zM224.9 90.6h0.6v0.6h-0.6zM225.0 90.5h0.6v0.6h-0.6zM225.3 90.6h0.6v0.6h-0.6zM227.2 90.6h0.6v0.6h-0.6zM227.6 90.5h0.6v0.6h-0.6zM228.3 90.6h0.6v0.6h-0.6zM228.5 90.4h0.6v0.6h-0.6zM230.7 90.4h0.6v0.6h-0.6zM230.7 90.7h0.6v0.6h-0.6zM232.8 90.6h0.6v0.6h-0.6zM232.6 90.6h0.6v0.6h-0.6zM233.4 90.3h0.6v0.6h-0.6zM233.1 90.5h0.6v0.6h-0.6zM233.8 90.4h0.6v0.6h-0.6zM235.5 90.6h0.6v0.6h-0.6zM236.2 90.2h0.6v0.6h-0.6zM236.1 90.3h0.6v0.6h-0.6zM236.8 90.5h0.6v0.6h-0.6zM240.5 90.5h0.6v0.6h-0.6zM243.2 90.5h0.6v0.6h-0.6zM243.9 90.6h0.6v0.6h-0.6zM246.9 90.4h0.6v0.6h-0.6zM259.8 90.6h0.6v0.6h-0.6zM259.5 90.4h0.6v0.6h-0.6zM263.8 90.6h0.6v0.6h-0.6zM266.5 90.2h0.6v0.6h-0.6zM267.0 90.2h0.6v0.6h-0.6zM267.4 90.2h0.6v0.6h-0.6zM273.5 90.4h0.6v0.6h-0.6zM187.9 90.9h0.6v0.6h-0.6zM188.0 91.0h0.6v0.6h-0.6zM189.2 90.8h0.6v0.6h-0.6zM192.0 91.1h0.6v0.6h-0.6zM193.7 90.9h0.6v0.6h-0.6zM193.7 90.8h0.6v0.6h-0.6zM193.9 91.0h0.6v0.6h-0.6zM194.1 91.0h0.6v0.6h-0.6zM194.2 90.9h0.6v0.6h-0.6zM195.7 91.1h0.6v0.6h-0.6zM196.0 90.7h0.6v0.6h-0.6zM196.7 90.8h0.6v0.6h-0.6zM196.7 91.1h0.6v0.6h-0.6zM198.7 90.9h0.6v0.6h-0.6zM199.3 91.1h0.6v0.6h-0.6zM200.0 91.0h0.6v0.6h-0.6zM202.0 90.7h0.6v0.6h-0.6zM202.4 90.8h0.6v0.6h-0.6zM202.6 91.2h0.6v0.6h-0.6zM203.0 90.9h0.6v0.6h-0.6zM203.9 90.9h0.6v0.6h-0.6zM205.1 90.7h0.6v0.6h-0.6zM205.2 90.8h0.6v0.6h-0.6zM205.8 91.0h0.6v0.6h-0.6zM207.0 90.9h0.6v0.6h-0.6zM207.4 91.1h0.6v0.6h-0.6zM207.7 90.7h0.6v0.6h-0.6zM208.3 91.1h0.6v0.6h-0.6zM208.7 90.8h0.6v0.6h-0.6zM210.1 90.8h0.6v0.6h-0.6zM211.0 91.1h0.6v0.6h-0.6zM213.0 90.8h0.6v0.6h-0.6zM213.7 91.0h0.6v0.6h-0.6zM216.6 90.7h0.6v0.6h-0.6zM217.0 90.9h0.6v0.6h-0.6zM217.3 90.8h0.6v0.6h-0.6zM218.4 91.0h0.6v0.6h-0.6zM221.2 90.8h0.6v0.6h-0.6zM221.4 90.9h0.6v0.6h-0.6zM221.4 91.2h0.6v0.6h-0.6zM222.8 91.1h0.6v0.6h-0.6zM222.7 91.1h0.6v0.6h-0.6zM225.7 90.8h0.6v0.6h-0.6zM226.3 91.0h0.6v0.6h-0.6zM227.2 91.0h0.6v0.6h-0.6zM228.0 90.9h0.6v0.6h-0.6zM228.9 90.9h0.6v0.6h-0.6zM230.2 91.2h0.6v0.6h-0.6zM231.3 90.7h0.6v0.6h-0.6zM231.4 91.1h0.6v0.6h-0.6zM232.2 90.7h0.6v0.6h-0.6zM234.4 90.9h0.6v0.6h-0.6zM234.4 90.9h0.6v0.6h-0.6zM236.2 91.1h0.6v0.6h-0.6zM240.1 91.1h0.6v0.6h-0.6zM243.6 91.1h0.6v0.6h-0.6zM244.9 90.8h0.6v0.6h-0.6zM246.9 91.0h0.6v0.6h-0.6zM248.2 91.0h0.6v0.6h-0.6zM250.1 90.7h0.6v0.6h-0.6zM252.0 91.1h0.6v0.6h-0.6zM255.4 90.9h0.6v0.6h-0.6zM256.5 90.7h0.6v0.6h-0.6zM257.2 90.8h0.6v0.6h-0.6zM257.7 90.8h0.6v0.6h-0.6zM259.5 90.9h0.6v0.6h-0.6zM264.2 90.9h0.6v0.6h-0.6zM268.1 90.8h0.6v0.6h-0.6zM269.3 90.9h0.6v0.6h-0.6zM187.7 91.7h0.6v0.6h-0.6zM188.4 91.7h0.6v0.6h-0.6zM190.8 91.6h0.6v0.6h-0.6zM191.9 91.4h0.6v0.6h-0.6zM192.9 91.4h0.6v0.6h-0.6zM193.7 91.5h0.6v0.6h-0.6zM194.8 91.5h0.6v0.6h-0.6zM195.3 91.2h0.6v0.6h-0.6zM195.9 91.6h0.6v0.6h-0.6zM197.5 91.3h0.6v0.6h-0.6zM197.6 91.6h0.6v0.6h-0.6zM200.1 91.4h0.6v0.6h-0.6zM201.0 91.4h0.6v0.6h-0.6zM202.8 91.4h0.6v0.6h-0.6zM204.9 91.5h0.6v0.6h-0.6zM207.2 91.6h0.6v0.6h-0.6zM207.8 91.4h0.6v0.6h-0.6zM208.2 91.4h0.6v0.6h-0.6zM209.2 91.2h0.6v0.6h-0.6zM210.5 91.3h0.6v0.6h-0.6zM211.8 91.7h0.6v0.6h-0.6zM213.5 91.2h0.6v0.6h-0.6zM214.8 91.6h0.6v0.6h-0.6zM217.4 91.3h0.6v0.6h-0.6zM217.7 91.5h0.6v0.6h-0.6zM220.9 91.6h0.6v0.6h-0.6zM221.7 91.5h0.6v0.6h-0.6zM222.3 91.3h0.6v0.6h-0.6zM222.9 91.3h0.6v0.6h-0.6zM223.3 91.4h0.6v0.6h-0.6zM224.9 91.6h0.6v0.6h-0.6zM225.1 91.5h0.6v0.6h-0.6zM225.9 91.5h0.6v0.6h-0.6zM225.7 91.3h0.6v0.6h-0.6zM226.1 91.5h0.6v0.6h-0.6zM227.4 91.6h0.6v0.6h-0.6zM228.9 91.5h0.6v0.6h-0.6zM230.5 91.5h0.6v0.6h-0.6zM231.8 91.7h0.6v0.6h-0.6zM232.4 91.6h0.6v0.6h-0.6zM233.7 91.5h0.6v0.6h-0.6zM234.6 91.6h0.6v0.6h-0.6zM235.1 91.5h0.6v0.6h-0.6zM238.0 91.4h0.6v0.6h-0.6zM239.1 91.4h0.6v0.6h-0.6zM240.8 91.5h0.6v0.6h-0.6zM242.5 91.5h0.6v0.6h-0.6zM246.5 91.4h0.6v0.6h-0.6zM247.4 91.5h0.6v0.6h-0.6zM249.7 91.5h0.6v0.6h-0.6zM251.3 91.4h0.6v0.6h-0.6zM252.2 91.5h0.6v0.6h-0.6zM262.8 91.5h0.6v0.6h-0.6zM267.6 91.7h0.6v0.6h-0.6zM268.9 91.3h0.6v0.6h-0.6zM187.9 91.9h0.6v0.6h-0.6zM188.9 92.0h0.6v0.6h-0.6zM189.3 92.0h0.6v0.6h-0.6zM189.8 92.0h0.6v0.6h-0.6zM189.8 91.9h0.6v0.6h-0.6zM191.3 91.8h0.6v0.6h-0.6zM191.8 91.9h0.6v0.6h-0.6zM191.5 92.1h0.6v0.6h-0.6zM192.3 91.9h0.6v0.6h-0.6zM193.3 92.2h0.6v0.6h-0.6zM193.6 92.1h0.6v0.6h-0.6zM194.0 91.8h0.6v0.6h-0.6zM194.6 91.9h0.6v0.6h-0.6zM195.0 91.7h0.6v0.6h-0.6zM196.3 91.8h0.6v0.6h-0.6zM196.6 91.7h0.6v0.6h-0.6zM196.7 91.9h0.6v0.6h-0.6zM198.7 92.1h0.6v0.6h-0.6zM198.7 91.9h0.6v0.6h-0.6zM204.3 91.9h0.6v0.6h-0.6zM207.9 92.0h0.6v0.6h-0.6zM208.2 92.2h0.6v0.6h-0.6zM208.5 92.0h0.6v0.6h-0.6zM208.9 91.8h0.6v0.6h-0.6zM210.0 92.1h0.6v0.6h-0.6zM210.3 91.8h0.6v0.6h-0.6zM210.3 92.1h0.6v0.6h-0.6zM212.3 92.0h0.6v0.6h-0.6zM212.2 92.0h0.6v0.6h-0.6zM212.9 92.1h0.6v0.6h-0.6zM213.1 92.1h0.6v0.6h-0.6zM214.3 91.9h0.6v0.6h-0.6zM214.4 91.8h0.6v0.6h-0.6zM214.6 92.1h0.6v0.6h-0.6zM216.0 91.9h0.6v0.6h-0.6zM215.8 91.9h0.6v0.6h-0.6zM215.8 92.1h0.6v0.6h-0.6zM216.4 92.0h0.6v0.6h-0.6zM217.3 91.9h0.6v0.6h-0.6zM218.7 91.7h0.6v0.6h-0.6zM219.1 91.8h0.6v0.6h-0.6zM219.3 92.0h0.6v0.6h-0.6zM220.0 91.8h0.6v0.6h-0.6zM220.9 92.1h0.6v0.6h-0.6zM221.3 92.0h0.6v0.6h-0.6zM221.0 91.9h0.6v0.6h-0.6zM222.0 91.8h0.6v0.6h-0.6zM222.6 92.1h0.6v0.6h-0.6zM222.9 92.1h0.6v0.6h-0.6zM224.7 91.7h0.6v0.6h-0.6zM224.9 92.2h0.6v0.6h-0.6zM224.8 91.9h0.6v0.6h-0.6zM225.1 91.8h0.6v0.6h-0.6zM226.3 92.1h0.6v0.6h-0.6zM227.1 91.9h0.6v0.6h-0.6zM227.5 92.0h0.6v0.6h-0.6zM229.2 91.9h0.6v0.6h-0.6zM230.1 91.8h0.6v0.6h-0.6zM230.9 92.2h0.6v0.6h-0.6zM231.3 92.2h0.6v0.6h-0.6zM232.7 91.9h0.6v0.6h-0.6zM233.2 91.7h0.6v0.6h-0.6zM233.7 91.9h0.6v0.6h-0.6zM233.9 91.9h0.6v0.6h-0.6zM234.7 92.1h0.6v0.6h-0.6zM235.2 92.0h0.6v0.6h-0.6zM240.7 91.8h0.6v0.6h-0.6zM241.7 92.0h0.6v0.6h-0.6zM245.4 91.9h0.6v0.6h-0.6zM247.1 91.7h0.6v0.6h-0.6zM248.5 92.0h0.6v0.6h-0.6zM255.4 92.1h0.6v0.6h-0.6zM257.8 91.8h0.6v0.6h-0.6zM188.2 92.2h0.6v0.6h-0.6zM188.8 92.7h0.6v0.6h-0.6zM188.7 92.4h0.6v0.6h-0.6zM193.1 92.6h0.6v0.6h-0.6zM193.4 92.5h0.6v0.6h-0.6zM193.7 92.3h0.6v0.6h-0.6zM195.3 92.3h0.6v0.6h-0.6zM195.1 92.4h0.6v0.6h-0.6zM195.6 92.5h0.6v0.6h-0.6zM195.8 92.6h0.6v0.6h-0.6zM198.4 92.6h0.6v0.6h-0.6zM198.1 92.5h0.6v0.6h-0.6zM198.9 92.5h0.6v0.6h-0.6zM199.1 92.6h0.6v0.6h-0.6zM199.7 92.5h0.6v0.6h-0.6zM200.4 92.5h0.6v0.6h-0.6zM200.7 92.4h0.6v0.6h-0.6zM200.8 92.7h0.6v0.6h-0.6zM202.7 92.5h0.6v0.6h-0.6zM205.8 92.6h0.6v0.6h-0.6zM206.5 92.5h0.6v0.6h-0.6zM208.1 92.2h0.6v0.6h-0.6zM208.6 92.7h0.6v0.6h-0.6zM210.8 92.6h0.6v0.6h-0.6zM211.3 92.5h0.6v0.6h-0.6zM212.2 92.5h0.6v0.6h-0.6zM212.6 92.5h0.6v0.6h-0.6zM213.8 92.5h0.6v0.6h-0.6zM215.1 92.5h0.6v0.6h-0.6zM215.1 92.2h0.6v0.6h-0.6zM215.9 92.3h0.6v0.6h-0.6zM222.0 92.5h0.6v0.6h-0.6zM221.7 92.2h0.6v0.6h-0.6zM222.0 92.5h0.6v0.6h-0.6zM223.3 92.4h0.6v0.6h-0.6zM224.9 92.3h0.6v0.6h-0.6zM225.3 92.3h0.6v0.6h-0.6zM225.2 92.6h0.6v0.6h-0.6zM225.2 92.3h0.6v0.6h-0.6zM226.3 92.6h0.6v0.6h-0.6zM226.8 92.3h0.6v0.6h-0.6zM226.9 92.3h0.6v0.6h-0.6zM227.9 92.4h0.6v0.6h-0.6zM227.8 92.3h0.6v0.6h-0.6zM228.1 92.3h0.6v0.6h-0.6zM229.8 92.6h0.6v0.6h-0.6zM231.0 92.3h0.6v0.6h-0.6zM232.2 92.7h0.6v0.6h-0.6zM233.3 92.5h0.6v0.6h-0.6zM237.3 92.3h0.6v0.6h-0.6zM239.8 92.3h0.6v0.6h-0.6zM240.4 92.6h0.6v0.6h-0.6zM241.9 92.3h0.6v0.6h-0.6zM241.7 92.2h0.6v0.6h-0.6zM244.8 92.3h0.6v0.6h-0.6zM245.9 92.5h0.6v0.6h-0.6zM245.6 92.5h0.6v0.6h-0.6zM247.2 92.5h0.6v0.6h-0.6zM247.4 92.2h0.6v0.6h-0.6zM248.6 92.6h0.6v0.6h-0.6zM257.1 92.5h0.6v0.6h-0.6zM260.0 92.3h0.6v0.6h-0.6zM261.5 92.3h0.6v0.6h-0.6zM262.3 92.5h0.6v0.6h-0.6zM263.0 92.6h0.6v0.6h-0.6zM263.4 92.2h0.6v0.6h-0.6zM266.2 92.7h0.6v0.6h-0.6zM272.7 92.4h0.6v0.6h-0.6zM272.7 92.2h0.6v0.6h-0.6zM189.5 93.0h0.6v0.6h-0.6zM190.6 93.2h0.6v0.6h-0.6zM191.5 93.1h0.6v0.6h-0.6zM191.2 93.1h0.6v0.6h-0.6zM194.0 93.2h0.6v0.6h-0.6zM196.5 93.0h0.6v0.6h-0.6zM197.8 93.1h0.6v0.6h-0.6zM197.5 93.0h0.6v0.6h-0.6zM198.7 92.7h0.6v0.6h-0.6zM199.2 93.2h0.6v0.6h-0.6zM201.8 92.8h0.6v0.6h-0.6zM201.8 93.1h0.6v0.6h-0.6zM203.6 93.2h0.6v0.6h-0.6zM204.6 92.8h0.6v0.6h-0.6zM205.0 93.1h0.6v0.6h-0.6zM210.3 93.0h0.6v0.6h-0.6zM210.2 92.8h0.6v0.6h-0.6zM211.2 92.8h0.6v0.6h-0.6zM213.3 93.0h0.6v0.6h-0.6zM213.8 92.9h0.6v0.6h-0.6zM214.1 93.0h0.6v0.6h-0.6zM214.6 93.2h0.6v0.6h-0.6zM215.8 93.0h0.6v0.6h-0.6zM215.9 92.8h0.6v0.6h-0.6zM216.5 93.1h0.6v0.6h-0.6zM216.7 92.8h0.6v0.6h-0.6zM217.9 92.7h0.6v0.6h-0.6zM220.4 93.1h0.6v0.6h-0.6zM223.6 92.7h0.6v0.6h-0.6zM225.6 93.1h0.6v0.6h-0.6zM227.2 93.2h0.6v0.6h-0.6zM229.1 93.2h0.6v0.6h-0.6zM230.5 92.9h0.6v0.6h-0.6zM230.5 93.1h0.6v0.6h-0.6zM231.8 93.1h0.6v0.6h-0.6zM235.1 92.7h0.6v0.6h-0.6zM235.6 93.1h0.6v0.6h-0.6zM235.5 93.1h0.6v0.6h-0.6zM236.1 92.9h0.6v0.6h-0.6zM236.3 93.1h0.6v0.6h-0.6zM236.3 93.0h0.6v0.6h-0.6zM236.9 93.1h0.6v0.6h-0.6zM236.9 92.9h0.6v0.6h-0.6zM238.5 93.2h0.6v0.6h-0.6zM239.4 92.7h0.6v0.6h-0.6zM239.7 93.1h0.6v0.6h-0.6zM241.1 92.9h0.6v0.6h-0.6zM243.7 92.8h0.6v0.6h-0.6zM244.3 92.9h0.6v0.6h-0.6zM244.9 92.7h0.6v0.6h-0.6zM244.9 92.9h0.6v0.6h-0.6zM249.9 92.8h0.6v0.6h-0.6zM250.5 92.7h0.6v0.6h-0.6zM255.6 92.8h0.6v0.6h-0.6zM259.3 93.0h0.6v0.6h-0.6zM261.5 93.0h0.6v0.6h-0.6zM263.3 92.8h0.6v0.6h-0.6zM263.0 93.0h0.6v0.6h-0.6zM267.1 93.2h0.6v0.6h-0.6zM272.8 92.7h0.6v0.6h-0.6zM274.2 92.7h0.6v0.6h-0.6zM187.5 93.4h0.6v0.6h-0.6zM191.0 93.3h0.6v0.6h-0.6zM191.5 93.4h0.6v0.6h-0.6zM192.7 93.7h0.6v0.6h-0.6zM193.2 93.3h0.6v0.6h-0.6zM193.5 93.7h0.6v0.6h-0.6zM193.9 93.6h0.6v0.6h-0.6zM194.7 93.6h0.6v0.6h-0.6zM195.2 93.4h0.6v0.6h-0.6zM195.1 93.5h0.6v0.6h-0.6zM195.9 93.3h0.6v0.6h-0.6zM195.6 93.2h0.6v0.6h-0.6zM198.2 93.3h0.6v0.6h-0.6zM198.2 93.5h0.6v0.6h-0.6zM199.0 93.6h0.6v0.6h-0.6zM200.0 93.3h0.6v0.6h-0.6zM200.3 93.7h0.6v0.6h-0.6zM200.6 93.6h0.6v0.6h-0.6zM202.2 93.3h0.6v0.6h-0.6zM203.3 93.4h0.6v0.6h-0.6zM203.7 93.6h0.6v0.6h-0.6zM204.8 93.6h0.6v0.6h-0.6zM205.0 93.7h0.6v0.6h-0.6zM205.1 93.5h0.6v0.6h-0.6zM206.0 93.3h0.6v0.6h-0.6zM206.2 93.6h0.6v0.6h-0.6zM206.9 93.4h0.6v0.6h-0.6zM206.6 93.5h0.6v0.6h-0.6zM207.2 93.3h0.6v0.6h-0.6zM207.4 93.6h0.6v0.6h-0.6zM207.1 93.2h0.6v0.6h-0.6zM209.4 93.6h0.6v0.6h-0.6zM209.0 93.4h0.6v0.6h-0.6zM209.8 93.4h0.6v0.6h-0.6zM209.9 93.2h0.6v0.6h-0.6zM211.3 93.3h0.6v0.6h-0.6zM211.4 93.2h0.6v0.6h-0.6zM211.4 93.4h0.6v0.6h-0.6zM211.8 93.3h0.6v0.6h-0.6zM212.4 93.5h0.6v0.6h-0.6zM216.0 93.6h0.6v0.6h-0.6zM216.1 93.4h0.6v0.6h-0.6zM216.7 93.6h0.6v0.6h-0.6zM216.9 93.2h0.6v0.6h-0.6zM216.9 93.3h0.6v0.6h-0.6zM217.4 93.3h0.6v0.6h-0.6zM217.7 93.3h0.6v0.6h-0.6zM218.8 93.4h0.6v0.6h-0.6zM218.8 93.7h0.6v0.6h-0.6zM220.4 93.3h0.6v0.6h-0.6zM221.7 93.5h0.6v0.6h-0.6zM223.2 93.2h0.6v0.6h-0.6zM224.7 93.3h0.6v0.6h-0.6zM224.6 93.3h0.6v0.6h-0.6zM226.6 93.6h0.6v0.6h-0.6zM227.2 93.6h0.6v0.6h-0.6zM227.9 93.6h0.6v0.6h-0.6zM232.3 93.6h0.6v0.6h-0.6zM233.1 93.3h0.6v0.6h-0.6zM233.3 93.4h0.6v0.6h-0.6zM233.1 93.4h0.6v0.6h-0.6zM233.7 93.6h0.6v0.6h-0.6zM235.7 93.6h0.6v0.6h-0.6zM238.1 93.6h0.6v0.6h-0.6zM238.9 93.3h0.6v0.6h-0.6zM239.4 93.6h0.6v0.6h-0.6zM239.4 93.6h0.6v0.6h-0.6zM239.7 93.4h0.6v0.6h-0.6zM239.6 93.4h0.6v0.6h-0.6zM243.0 93.5h0.6v0.6h-0.6zM246.9 93.6h0.6v0.6h-0.6zM246.8 93.5h0.6v0.6h-0.6zM247.1 93.5h0.6v0.6h-0.6zM248.3 93.2h0.6v0.6h-0.6zM251.0 93.7h0.6v0.6h-0.6zM253.5 93.6h0.6v0.6h-0.6zM259.3 93.6h0.6v0.6h-0.6zM273.3 93.5h0.6v0.6h-0.6zM188.1 94.0h0.6v0.6h-0.6zM188.4 93.8h0.6v0.6h-0.6zM188.5 93.8h0.6v0.6h-0.6zM188.8 94.2h0.6v0.6h-0.6zM189.4 93.9h0.6v0.6h-0.6zM189.8 94.1h0.6v0.6h-0.6zM190.5 94.1h0.6v0.6h-0.6zM191.0 94.0h0.6v0.6h-0.6zM191.8 93.8h0.6v0.6h-0.6zM192.7 93.9h0.6v0.6h-0.6zM195.0 94.2h0.6v0.6h-0.6zM195.5 93.9h0.6v0.6h-0.6zM196.5 94.0h0.6v0.6h-0.6zM196.6 93.9h0.6v0.6h-0.6zM199.6 94.0h0.6v0.6h-0.6zM202.0 93.9h0.6v0.6h-0.6zM202.2 93.7h0.6v0.6h-0.6zM204.7 94.0h0.6v0.6h-0.6zM205.0 93.9h0.6v0.6h-0.6zM205.1 94.2h0.6v0.6h-0.6zM205.1 93.9h0.6v0.6h-0.6zM205.7 94.2h0.6v0.6h-0.6zM205.8 94.1h0.6v0.6h-0.6zM207.0 94.1h0.6v0.6h-0.6zM208.9 93.8h0.6v0.6h-0.6zM210.4 94.1h0.6v0.6h-0.6zM210.7 93.8h0.6v0.6h-0.6zM211.6 94.1h0.6v0.6h-0.6zM212.3 93.9h0.6v0.6h-0.6zM213.0 94.1h0.6v0.6h-0.6zM213.5 93.8h0.6v0.6h-0.6zM214.0 94.0h0.6v0.6h-0.6zM214.7 94.0h0.6v0.6h-0.6zM216.3 94.0h0.6v0.6h-0.6zM217.3 93.7h0.6v0.6h-0.6zM218.1 93.8h0.6v0.6h-0.6zM218.2 94.0h0.6v0.6h-0.6zM221.4 93.8h0.6v0.6h-0.6zM221.6 94.1h0.6v0.6h-0.6zM222.8 93.9h0.6v0.6h-0.6zM223.0 93.8h0.6v0.6h-0.6zM223.4 94.0h0.6v0.6h-0.6zM223.5 93.9h0.6v0.6h-0.6zM223.7 94.1h0.6v0.6h-0.6zM224.0 93.9h0.6v0.6h-0.6zM225.5 94.1h0.6v0.6h-0.6zM225.8 93.9h0.6v0.6h-0.6zM226.1 93.7h0.6v0.6h-0.6zM226.2 93.9h0.6v0.6h-0.6zM226.7 94.1h0.6v0.6h-0.6zM228.2 94.0h0.6v0.6h-0.6zM229.6 93.9h0.6v0.6h-0.6zM230.5 93.8h0.6v0.6h-0.6zM230.6 93.7h0.6v0.6h-0.6zM231.5 93.8h0.6v0.6h-0.6zM232.0 93.8h0.6v0.6h-0.6zM232.2 94.1h0.6v0.6h-0.6zM232.9 94.0h0.6v0.6h-0.6zM233.1 94.1h0.6v0.6h-0.6zM234.8 94.1h0.6v0.6h-0.6zM234.9 93.8h0.6v0.6h-0.6zM235.5 94.1h0.6v0.6h-0.6zM236.2 94.1h0.6v0.6h-0.6zM236.2 93.8h0.6v0.6h-0.6zM237.3 94.2h0.6v0.6h-0.6zM237.8 94.2h0.6v0.6h-0.6zM238.6 94.0h0.6v0.6h-0.6zM241.7 94.2h0.6v0.6h-0.6zM241.6 93.7h0.6v0.6h-0.6zM242.3 93.9h0.6v0.6h-0.6zM244.6 94.2h0.6v0.6h-0.6zM245.1 93.8h0.6v0.6h-0.6zM246.8 94.2h0.6v0.6h-0.6zM250.7 94.1h0.6v0.6h-0.6zM251.5 94.1h0.6v0.6h-0.6zM252.3 94.0h0.6v0.6h-0.6zM260.7 93.7h0.6v0.6h-0.6zM265.2 93.8h0.6v0.6h-0.6zM271.6 94.1h0.6v0.6h-0.6zM273.2 94.1h0.6v0.6h-0.6zM187.9 94.5h0.6v0.6h-0.6zM188.7 94.2h0.6v0.6h-0.6zM190.9 94.2h0.6v0.6h-0.6zM191.2 94.6h0.6v0.6h-0.6zM191.9 94.5h0.6v0.6h-0.6zM192.3 94.7h0.6v0.6h-0.6zM192.4 94.5h0.6v0.6h-0.6zM192.7 94.3h0.6v0.6h-0.6zM198.4 94.6h0.6v0.6h-0.6zM199.8 94.6h0.6v0.6h-0.6zM200.0 94.3h0.6v0.6h-0.6zM201.3 94.7h0.6v0.6h-0.6zM202.5 94.5h0.6v0.6h-0.6zM203.6 94.5h0.6v0.6h-0.6zM204.3 94.6h0.6v0.6h-0.6zM204.5 94.6h0.6v0.6h-0.6zM204.8 94.6h0.6v0.6h-0.6zM206.2 94.4h0.6v0.6h-0.6zM206.3 94.4h0.6v0.6h-0.6zM208.5 94.3h0.6v0.6h-0.6zM210.3 94.3h0.6v0.6h-0.6zM210.5 94.4h0.6v0.6h-0.6zM211.3 94.7h0.6v0.6h-0.6zM212.8 94.5h0.6v0.6h-0.6zM214.0 94.4h0.6v0.6h-0.6zM214.2 94.5h0.6v0.6h-0.6zM215.7 94.3h0.6v0.6h-0.6zM217.8 94.4h0.6v0.6h-0.6zM218.4 94.4h0.6v0.6h-0.6zM219.7 94.6h0.6v0.6h-0.6zM219.8 94.4h0.6v0.6h-0.6zM222.0 94.4h0.6v0.6h-0.6zM223.9 94.7h0.6v0.6h-0.6zM224.9 94.3h0.6v0.6h-0.6zM224.9 94.4h0.6v0.6h-0.6zM225.8 94.5h0.6v0.6h-0.6zM226.2 94.3h0.6v0.6h-0.6zM226.2 94.4h0.6v0.6h-0.6zM226.9 94.3h0.6v0.6h-0.6zM226.5 94.6h0.6v0.6h-0.6zM227.3 94.5h0.6v0.6h-0.6zM227.6 94.3h0.6v0.6h-0.6zM227.8 94.3h0.6v0.6h-0.6zM228.4 94.3h0.6v0.6h-0.6zM229.8 94.3h0.6v0.6h-0.6zM234.2 94.4h0.6v0.6h-0.6zM234.5 94.4h0.6v0.6h-0.6zM235.4 94.4h0.6v0.6h-0.6zM236.6 94.5h0.6v0.6h-0.6zM237.5 94.4h0.6v0.6h-0.6zM238.2 94.6h0.6v0.6h-0.6zM240.0 94.4h0.6v0.6h-0.6zM241.2 94.4h0.6v0.6h-0.6zM241.8 94.6h0.6v0.6h-0.6zM243.7 94.6h0.6v0.6h-0.6zM243.7 94.6h0.6v0.6h-0.6zM243.7 94.4h0.6v0.6h-0.6zM244.3 94.2h0.6v0.6h-0.6zM247.9 94.4h0.6v0.6h-0.6zM248.2 94.3h0.6v0.6h-0.6zM249.0 94.4h0.6v0.6h-0.6zM249.9 94.5h0.6v0.6h-0.6zM250.0 94.7h0.6v0.6h-0.6zM256.3 94.3h0.6v0.6h-0.6zM263.5 94.3h0.6v0.6h-0.6zM267.8 94.3h0.6v0.6h-0.6zM268.4 94.6h0.6v0.6h-0.6zM271.3 94.6h0.6v0.6h-0.6zM187.8 95.0h0.6v0.6h-0.6zM192.8 95.1h0.6v0.6h-0.6zM194.2 95.0h0.6v0.6h-0.6zM195.7 95.0h0.6v0.6h-0.6zM196.3 95.1h0.6v0.6h-0.6zM196.3 94.9h0.6v0.6h-0.6zM197.5 94.7h0.6v0.6h-0.6zM198.4 94.9h0.6v0.6h-0.6zM198.5 94.9h0.6v0.6h-0.6zM198.0 95.1h0.6v0.6h-0.6zM198.7 95.0h0.6v0.6h-0.6zM199.0 95.1h0.6v0.6h-0.6zM199.1 94.9h0.6v0.6h-0.6zM199.2 95.0h0.6v0.6h-0.6zM200.5 95.1h0.6v0.6h-0.6zM200.7 94.9h0.6v0.6h-0.6zM201.4 94.9h0.6v0.6h-0.6zM202.1 95.2h0.6v0.6h-0.6zM202.9 94.9h0.6v0.6h-0.6zM204.6 94.9h0.6v0.6h-0.6zM204.7 94.8h0.6v0.6h-0.6zM204.8 94.8h0.6v0.6h-0.6zM205.6 95.0h0.6v0.6h-0.6zM206.2 94.9h0.6v0.6h-0.6zM207.3 94.7h0.6v0.6h-0.6zM210.9 95.2h0.6v0.6h-0.6zM211.0 95.1h0.6v0.6h-0.6zM211.0 94.9h0.6v0.6h-0.6zM211.0 94.8h0.6v0.6h-0.6zM211.1 94.7h0.6v0.6h-0.6zM212.0 95.0h0.6v0.6h-0.6zM212.7 94.8h0.6v0.6h-0.6zM213.0 94.7h0.6v0.6h-0.6zM216.3 94.9h0.6v0.6h-0.6zM216.7 94.9h0.6v0.6h-0.6zM216.7 95.1h0.6v0.6h-0.6zM217.3 94.9h0.6v0.6h-0.6zM217.0 95.0h0.6v0.6h-0.6zM219.4 94.8h0.6v0.6h-0.6zM219.7 95.1h0.6v0.6h-0.6zM219.6 95.0h0.6v0.6h-0.6zM222.8 95.1h0.6v0.6h-0.6zM223.4 95.1h0.6v0.6h-0.6zM231.1 95.1h0.6v0.6h-0.6zM231.8 94.9h0.6v0.6h-0.6zM232.5 95.0h0.6v0.6h-0.6zM234.2 95.0h0.6v0.6h-0.6zM237.3 94.8h0.6v0.6h-0.6zM242.9 94.8h0.6v0.6h-0.6zM244.1 95.0h0.6v0.6h-0.6zM247.5 95.1h0.6v0.6h-0.6zM248.5 94.8h0.6v0.6h-0.6zM248.5 94.9h0.6v0.6h-0.6zM248.6 94.8h0.6v0.6h-0.6zM256.1 94.8h0.6v0.6h-0.6zM264.9 94.9h0.6v0.6h-0.6zM266.7 94.8h0.6v0.6h-0.6zM269.8 95.0h0.6v0.6h-0.6zM271.2 95.0h0.6v0.6h-0.6zM188.6 95.2h0.6v0.6h-0.6zM188.6 95.2h0.6v0.6h-0.6zM189.5 95.7h0.6v0.6h-0.6zM189.6 95.6h0.6v0.6h-0.6zM189.8 95.6h0.6v0.6h-0.6zM190.8 95.5h0.6v0.6h-0.6zM190.7 95.4h0.6v0.6h-0.6zM191.9 95.3h0.6v0.6h-0.6zM192.1 95.7h0.6v0.6h-0.6zM192.6 95.3h0.6v0.6h-0.6zM194.6 95.6h0.6v0.6h-0.6zM196.4 95.6h0.6v0.6h-0.6zM196.4 95.7h0.6v0.6h-0.6zM196.7 95.3h0.6v0.6h-0.6zM198.5 95.7h0.6v0.6h-0.6zM198.3 95.4h0.6v0.6h-0.6zM198.6 95.7h0.6v0.6h-0.6zM199.3 95.5h0.6v0.6h-0.6zM200.1 95.3h0.6v0.6h-0.6zM202.2 95.6h0.6v0.6h-0.6zM203.4 95.3h0.6v0.6h-0.6zM204.5 95.5h0.6v0.6h-0.6zM206.4 95.7h0.6v0.6h-0.6zM206.8 95.3h0.6v0.6h-0.6zM207.8 95.6h0.6v0.6h-0.6zM208.1 95.7h0.6v0.6h-0.6zM210.1 95.2h0.6v0.6h-0.6zM211.1 95.6h0.6v0.6h-0.6zM211.8 95.3h0.6v0.6h-0.6zM213.2 95.5h0.6v0.6h-0.6zM213.9 95.7h0.6v0.6h-0.6zM214.3 95.3h0.6v0.6h-0.6zM214.9 95.6h0.6v0.6h-0.6zM215.9 95.6h0.6v0.6h-0.6zM219.0 95.5h0.6v0.6h-0.6zM220.2 95.7h0.6v0.6h-0.6zM221.0 95.4h0.6v0.6h-0.6zM220.9 95.6h0.6v0.6h-0.6zM221.4 95.4h0.6v0.6h-0.6zM222.9 95.2h0.6v0.6h-0.6zM223.5 95.3h0.6v0.6h-0.6zM223.6 95.2h0.6v0.6h-0.6zM225.9 95.6h0.6v0.6h-0.6zM227.4 95.6h0.6v0.6h-0.6zM228.0 95.3h0.6v0.6h-0.6zM227.7 95.4h0.6v0.6h-0.6zM228.7 95.5h0.6v0.6h-0.6zM230.7 95.7h0.6v0.6h-0.6zM231.1 95.3h0.6v0.6h-0.6zM231.9 95.3h0.6v0.6h-0.6zM232.2 95.4h0.6v0.6h-0.6zM234.4 95.7h0.6v0.6h-0.6zM234.3 95.3h0.6v0.6h-0.6zM234.4 95.4h0.6v0.6h-0.6zM235.0 95.2h0.6v0.6h-0.6zM237.9 95.5h0.6v0.6h-0.6zM238.1 95.2h0.6v0.6h-0.6zM238.5 95.6h0.6v0.6h-0.6zM241.4 95.4h0.6v0.6h-0.6zM243.1 95.4h0.6v0.6h-0.6zM243.8 95.5h0.6v0.6h-0.6zM244.6 95.6h0.6v0.6h-0.6zM245.3 95.5h0.6v0.6h-0.6zM249.3 95.5h0.6v0.6h-0.6zM250.0 95.3h0.6v0.6h-0.6zM250.3 95.5h0.6v0.6h-0.6zM255.0 95.5h0.6v0.6h-0.6zM255.6 95.4h0.6v0.6h-0.6zM258.0 95.2h0.6v0.6h-0.6zM258.9 95.5h0.6v0.6h-0.6zM261.5 95.6h0.6v0.6h-0.6zM271.1 95.4h0.6v0.6h-0.6zM187.8 95.9h0.6v0.6h-0.6zM188.9 96.2h0.6v0.6h-0.6zM189.5 95.9h0.6v0.6h-0.6zM189.9 95.9h0.6v0.6h-0.6zM189.7 96.0h0.6v0.6h-0.6zM190.2 95.8h0.6v0.6h-0.6zM191.5 96.0h0.6v0.6h-0.6zM191.7 95.9h0.6v0.6h-0.6zM192.1 95.9h0.6v0.6h-0.6zM193.2 96.1h0.6v0.6h-0.6zM194.1 95.8h0.6v0.6h-0.6zM196.3 95.8h0.6v0.6h-0.6zM196.2 96.2h0.6v0.6h-0.6zM196.1 95.8h0.6v0.6h-0.6zM198.2 95.9h0.6v0.6h-0.6zM198.2 96.1h0.6v0.6h-0.6zM199.6 95.8h0.6v0.6h-0.6zM200.0 96.0h0.6v0.6h-0.6zM200.1 96.0h0.6v0.6h-0.6zM200.4 95.8h0.6v0.6h-0.6zM200.7 96.1h0.6v0.6h-0.6zM201.1 96.1h0.6v0.6h-0.6zM201.7 96.0h0.6v0.6h-0.6zM203.3 95.7h0.6v0.6h-0.6zM203.8 96.1h0.6v0.6h-0.6zM204.1 95.7h0.6v0.6h-0.6zM204.3 96.0h0.6v0.6h-0.6zM204.7 96.1h0.6v0.6h-0.6zM206.0 96.0h0.6v0.6h-0.6zM207.9 96.1h0.6v0.6h-0.6zM207.9 95.8h0.6v0.6h-0.6zM211.1 95.9h0.6v0.6h-0.6zM211.9 95.7h0.6v0.6h-0.6zM212.0 96.1h0.6v0.6h-0.6zM212.7 96.0h0.6v0.6h-0.6zM216.0 95.7h0.6v0.6h-0.6zM216.7 96.1h0.6v0.6h-0.6zM217.6 96.1h0.6v0.6h-0.6zM217.9 95.9h0.6v0.6h-0.6zM218.4 95.9h0.6v0.6h-0.6zM219.9 96.2h0.6v0.6h-0.6zM220.3 96.0h0.6v0.6h-0.6zM221.1 95.8h0.6v0.6h-0.6zM222.2 95.8h0.6v0.6h-0.6zM222.7 95.8h0.6v0.6h-0.6zM223.8 96.0h0.6v0.6h-0.6zM225.6 95.7h0.6v0.6h-0.6zM226.3 96.2h0.6v0.6h-0.6zM229.5 96.2h0.6v0.6h-0.6zM230.2 96.2h0.6v0.6h-0.6zM231.1 95.7h0.6v0.6h-0.6zM232.1 95.7h0.6v0.6h-0.6zM232.1 95.9h0.6v0.6h-0.6zM232.9 96.1h0.6v0.6h-0.6zM233.3 95.7h0.6v0.6h-0.6zM234.3 96.0h0.6v0.6h-0.6zM234.9 96.0h0.6v0.6h-0.6zM237.2 95.8h0.6v0.6h-0.6zM237.7 95.8h0.6v0.6h-0.6zM239.5 95.7h0.6v0.6h-0.6zM240.8 95.9h0.6v0.6h-0.6zM241.2 96.0h0.6v0.6h-0.6zM241.2 96.1h0.6v0.6h-0.6zM241.8 95.9h0.6v0.6h-0.6zM242.7 96.0h0.6v0.6h-0.6zM244.9 95.8h0.6v0.6h-0.6zM246.1 95.8h0.6v0.6h-0.6zM246.7 96.0h0.6v0.6h-0.6zM246.7 96.1h0.6v0.6h-0.6zM247.3 96.0h0.6v0.6h-0.6zM247.8 96.2h0.6v0.6h-0.6zM256.5 95.9h0.6v0.6h-0.6zM256.7 96.2h0.6v0.6h-0.6zM256.7 95.9h0.6v0.6h-0.6zM258.4 95.9h0.6v0.6h-0.6zM269.6 95.8h0.6v0.6h-0.6zM270.8 95.9h0.6v0.6h-0.6zM187.8 96.3h0.6v0.6h-0.6zM190.5 96.4h0.6v0.6h-0.6zM190.7 96.5h0.6v0.6h-0.6zM191.4 96.6h0.6v0.6h-0.6zM192.8 96.6h0.6v0.6h-0.6zM193.3 96.4h0.6v0.6h-0.6zM193.7 96.4h0.6v0.6h-0.6zM194.9 96.5h0.6v0.6h-0.6zM194.8 96.4h0.6v0.6h-0.6zM195.4 96.3h0.6v0.6h-0.6zM195.2 96.2h0.6v0.6h-0.6zM195.6 96.4h0.6v0.6h-0.6zM196.2 96.4h0.6v0.6h-0.6zM198.3 96.3h0.6v0.6h-0.6zM198.6 96.5h0.6v0.6h-0.6zM201.4 96.7h0.6v0.6h-0.6zM203.8 96.2h0.6v0.6h-0.6zM203.7 96.5h0.6v0.6h-0.6zM204.7 96.3h0.6v0.6h-0.6zM206.5 96.6h0.6v0.6h-0.6zM207.1 96.3h0.6v0.6h-0.6zM208.2 96.3h0.6v0.6h-0.6zM208.8 96.6h0.6v0.6h-0.6zM209.1 96.4h0.6v0.6h-0.6zM210.8 96.5h0.6v0.6h-0.6zM211.0 96.4h0.6v0.6h-0.6zM211.6 96.6h0.6v0.6h-0.6zM213.2 96.6h0.6v0.6h-0.6zM214.1 96.2h0.6v0.6h-0.6zM214.9 96.6h0.6v0.6h-0.6zM215.3 96.3h0.6v0.6h-0.6zM215.0 96.5h0.6v0.6h-0.6zM215.8 96.4h0.6v0.6h-0.6zM217.3 96.2h0.6v0.6h-0.6zM217.1 96.7h0.6v0.6h-0.6zM218.7 96.4h0.6v0.6h-0.6zM219.0 96.4h0.6v0.6h-0.6zM223.5 96.5h0.6v0.6h-0.6zM223.8 96.3h0.6v0.6h-0.6zM224.3 96.3h0.6v0.6h-0.6zM224.9 96.7h0.6v0.6h-0.6zM225.5 96.6h0.6v0.6h-0.6zM227.4 96.6h0.6v0.6h-0.6zM228.3 96.3h0.6v0.6h-0.6zM228.7 96.3h0.6v0.6h-0.6zM228.5 96.6h0.6v0.6h-0.6zM229.6 96.2h0.6v0.6h-0.6zM231.1 96.2h0.6v0.6h-0.6zM231.8 96.5h0.6v0.6h-0.6zM232.7 96.2h0.6v0.6h-0.6zM240.8 96.5h0.6v0.6h-0.6zM242.7 96.3h0.6v0.6h-0.6zM243.2 96.3h0.6v0.6h-0.6zM243.2 96.5h0.6v0.6h-0.6zM243.5 96.3h0.6v0.6h-0.6zM243.6 96.3h0.6v0.6h-0.6zM244.4 96.4h0.6v0.6h-0.6zM245.7 96.4h0.6v0.6h-0.6zM246.5 96.6h0.6v0.6h-0.6zM251.0 96.3h0.6v0.6h-0.6zM255.2 96.6h0.6v0.6h-0.6zM258.7 96.3h0.6v0.6h-0.6zM273.6 96.6h0.6v0.6h-0.6zM187.7 96.9h0.6v0.6h-0.6zM188.2 97.2h0.6v0.6h-0.6zM188.4 96.8h0.6v0.6h-0.6zM189.6 96.8h0.6v0.6h-0.6zM190.0 96.9h0.6v0.6h-0.6zM189.8 97.1h0.6v0.6h-0.6zM195.0 96.8h0.6v0.6h-0.6zM195.2 97.1h0.6v0.6h-0.6zM195.7 96.9h0.6v0.6h-0.6zM195.5 96.9h0.6v0.6h-0.6zM198.1 97.2h0.6v0.6h-0.6zM198.9 96.9h0.6v0.6h-0.6zM198.5 96.9h0.6v0.6h-0.6zM200.5 97.0h0.6v0.6h-0.6zM200.7 96.9h0.6v0.6h-0.6zM201.1 96.8h0.6v0.6h-0.6zM202.7 97.2h0.6v0.6h-0.6zM203.0 97.1h0.6v0.6h-0.6zM203.2 97.0h0.6v0.6h-0.6zM203.6 96.8h0.6v0.6h-0.6zM204.1 96.9h0.6v0.6h-0.6zM205.5 97.1h0.6v0.6h-0.6zM207.5 96.8h0.6v0.6h-0.6zM207.7 96.8h0.6v0.6h-0.6zM208.3 97.2h0.6v0.6h-0.6zM209.0 96.7h0.6v0.6h-0.6zM214.0 96.9h0.6v0.6h-0.6zM214.1 96.9h0.6v0.6h-0.6zM214.8 96.9h0.6v0.6h-0.6zM217.8 96.7h0.6v0.6h-0.6zM218.8 96.9h0.6v0.6h-0.6zM219.4 97.0h0.6v0.6h-0.6zM220.0 97.2h0.6v0.6h-0.6zM221.1 97.0h0.6v0.6h-0.6zM223.2 97.0h0.6v0.6h-0.6zM224.1 96.8h0.6v0.6h-0.6zM225.1 96.9h0.6v0.6h-0.6zM226.7 96.9h0.6v0.6h-0.6zM228.7 96.9h0.6v0.6h-0.6zM230.4 96.9h0.6v0.6h-0.6zM230.8 97.0h0.6v0.6h-0.6zM233.8 97.1h0.6v0.6h-0.6zM234.0 96.7h0.6v0.6h-0.6zM234.2 97.2h0.6v0.6h-0.6zM237.1 97.0h0.6v0.6h-0.6zM237.7 97.0h0.6v0.6h-0.6zM240.9 97.0h0.6v0.6h-0.6zM241.6 97.0h0.6v0.6h-0.6zM242.9 96.8h0.6v0.6h-0.6zM244.3 96.7h0.6v0.6h-0.6zM247.2 96.9h0.6v0.6h-0.6zM249.1 97.0h0.6v0.6h-0.6zM252.8 97.0h0.6v0.6h-0.6zM253.3 97.1h0.6v0.6h-0.6zM263.3 97.2h0.6v0.6h-0.6zM266.3 97.0h0.6v0.6h-0.6zM269.4 96.8h0.6v0.6h-0.6zM274.0 97.0h0.6v0.6h-0.6zM274.2 96.8h0.6v0.6h-0.6zM188.2 97.7h0.6v0.6h-0.6zM188.2 97.3h0.6v0.6h-0.6zM188.9 97.3h0.6v0.6h-0.6zM188.7 97.4h0.6v0.6h-0.6zM189.1 97.3h0.6v0.6h-0.6zM191.9 97.7h0.6v0.6h-0.6zM193.5 97.4h0.6v0.6h-0.6zM194.4 97.3h0.6v0.6h-0.6zM194.0 97.6h0.6v0.6h-0.6zM197.9 97.2h0.6v0.6h-0.6zM198.4 97.4h0.6v0.6h-0.6zM199.3 97.3h0.6v0.6h-0.6zM199.7 97.7h0.6v0.6h-0.6zM200.7 97.4h0.6v0.6h-0.6zM200.9 97.5h0.6v0.6h-0.6zM204.7 97.2h0.6v0.6h-0.6zM204.9 97.3h0.6v0.6h-0.6zM205.2 97.3h0.6v0.6h-0.6zM205.2 97.6h0.6v0.6h-0.6zM211.3 97.6h0.6v0.6h-0.6zM213.0 97.6h0.6v0.6h-0.6zM213.6 97.3h0.6v0.6h-0.6zM215.5 97.6h0.6v0.6h-0.6zM216.6 97.6h0.6v0.6h-0.6zM217.1 97.6h0.6v0.6h-0.6zM217.5 97.6h0.6v0.6h-0.6zM220.5 97.4h0.6v0.6h-0.6zM222.2 97.5h0.6v0.6h-0.6zM224.0 97.3h0.6v0.6h-0.6zM224.3 97.4h0.6v0.6h-0.6zM225.4 97.3h0.6v0.6h-0.6zM225.4 97.5h0.6v0.6h-0.6zM226.8 97.4h0.6v0.6h-0.6zM227.2 97.3h0.6v0.6h-0.6zM227.8 97.4h0.6v0.6h-0.6zM229.5 97.3h0.6v0.6h-0.6zM230.0 97.5h0.6v0.6h-0.6zM231.9 97.5h0.6v0.6h-0.6zM232.2 97.2h0.6v0.6h-0.6zM232.0 97.4h0.6v0.6h-0.6zM233.9 97.3h0.6v0.6h-0.6zM234.8 97.6h0.6v0.6h-0.6zM234.9 97.5h0.6v0.6h-0.6zM237.8 97.5h0.6v0.6h-0.6zM240.2 97.5h0.6v0.6h-0.6zM240.9 97.6h0.6v0.6h-0.6zM240.5 97.4h0.6v0.6h-0.6zM240.6 97.2h0.6v0.6h-0.6zM241.5 97.4h0.6v0.6h-0.6zM243.6 97.7h0.6v0.6h-0.6zM246.6 97.4h0.6v0.6h-0.6zM249.5 97.5h0.6v0.6h-0.6zM252.5 97.6h0.6v0.6h-0.6zM258.4 97.2h0.6v0.6h-0.6zM260.1 97.3h0.6v0.6h-0.6zM263.7 97.3h0.6v0.6h-0.6zM266.5 97.5h0.6v0.6h-0.6zM268.5 97.4h0.6v0.6h-0.6zM274.6 97.3h0.6v0.6h-0.6zM274.6 97.2h0.6v0.6h-0.6zM188.3 98.1h0.6v0.6h-0.6zM192.0 97.9h0.6v0.6h-0.6zM192.6 97.8h0.6v0.6h-0.6zM193.2 98.1h0.6v0.6h-0.6zM193.0 98.1h0.6v0.6h-0.6zM193.6 97.7h0.6v0.6h-0.6zM196.1 98.0h0.6v0.6h-0.6zM196.5 98.0h0.6v0.6h-0.6zM198.0 97.9h0.6v0.6h-0.6zM199.0 97.8h0.6v0.6h-0.6zM200.4 98.2h0.6v0.6h-0.6zM200.6 98.2h0.6v0.6h-0.6zM201.4 98.1h0.6v0.6h-0.6zM201.2 97.7h0.6v0.6h-0.6zM201.6 97.9h0.6v0.6h-0.6zM203.2 98.0h0.6v0.6h-0.6zM204.8 97.8h0.6v0.6h-0.6zM207.2 98.1h0.6v0.6h-0.6zM208.3 98.1h0.6v0.6h-0.6zM209.4 98.0h0.6v0.6h-0.6zM210.4 98.0h0.6v0.6h-0.6zM211.1 97.7h0.6v0.6h-0.6zM212.8 98.1h0.6v0.6h-0.6zM213.4 98.1h0.6v0.6h-0.6zM213.7 98.0h0.6v0.6h-0.6zM213.7 98.1h0.6v0.6h-0.6zM214.2 97.9h0.6v0.6h-0.6zM214.9 98.1h0.6v0.6h-0.6zM214.9 97.8h0.6v0.6h-0.6zM215.6 97.8h0.6v0.6h-0.6zM216.6 97.8h0.6v0.6h-0.6zM218.5 98.0h0.6v0.6h-0.6zM219.0 97.9h0.6v0.6h-0.6zM219.2 98.1h0.6v0.6h-0.6zM219.9 97.8h0.6v0.6h-0.6zM220.2 98.1h0.6v0.6h-0.6zM220.2 98.0h0.6v0.6h-0.6zM222.0 97.9h0.6v0.6h-0.6zM222.0 98.0h0.6v0.6h-0.6zM222.1 97.8h0.6v0.6h-0.6zM222.7 97.9h0.6v0.6h-0.6zM229.1 98.1h0.6v0.6h-0.6zM230.5 98.2h0.6v0.6h-0.6zM231.8 97.8h0.6v0.6h-0.6zM234.0 97.8h0.6v0.6h-0.6zM235.5 97.9h0.6v0.6h-0.6zM236.7 97.8h0.6v0.6h-0.6zM237.3 97.8h0.6v0.6h-0.6zM238.6 97.7h0.6v0.6h-0.6zM239.6 97.8h0.6v0.6h-0.6zM240.0 98.0h0.6v0.6h-0.6zM241.0 97.9h0.6v0.6h-0.6zM241.7 98.2h0.6v0.6h-0.6zM242.9 98.0h0.6v0.6h-0.6zM244.3 97.7h0.6v0.6h-0.6zM244.5 98.2h0.6v0.6h-0.6zM244.9 97.9h0.6v0.6h-0.6zM246.1 97.8h0.6v0.6h-0.6zM247.1 97.7h0.6v0.6h-0.6zM248.5 97.9h0.6v0.6h-0.6zM249.7 97.8h0.6v0.6h-0.6zM250.2 98.2h0.6v0.6h-0.6zM252.1 98.2h0.6v0.6h-0.6zM253.6 98.0h0.6v0.6h-0.6zM266.8 97.8h0.6v0.6h-0.6zM269.4 97.8h0.6v0.6h-0.6zM271.2 98.0h0.6v0.6h-0.6zM272.9 98.1h0.6v0.6h-0.6zM191.7 98.5h0.6v0.6h-0.6zM194.6 98.4h0.6v0.6h-0.6zM198.2 98.5h0.6v0.6h-0.6zM198.7 98.7h0.6v0.6h-0.6zM199.2 98.6h0.6v0.6h-0.6zM200.5 98.6h0.6v0.6h-0.6zM201.0 98.6h0.6v0.6h-0.6zM201.7 98.5h0.6v0.6h-0.6zM203.4 98.4h0.6v0.6h-0.6zM203.9 98.6h0.6v0.6h-0.6zM205.3 98.3h0.6v0.6h-0.6zM208.2 98.6h0.6v0.6h-0.6zM211.2 98.5h0.6v0.6h-0.6zM212.1 98.5h0.6v0.6h-0.6zM213.5 98.5h0.6v0.6h-0.6zM214.9 98.6h0.6v0.6h-0.6zM215.7 98.3h0.6v0.6h-0.6zM217.4 98.7h0.6v0.6h-0.6zM221.3 98.3h0.6v0.6h-0.6zM221.9 98.4h0.6v0.6h-0.6zM221.6 98.4h0.6v0.6h-0.6zM225.9 98.5h0.6v0.6h-0.6zM229.8 98.3h0.6v0.6h-0.6zM235.2 98.3h0.6v0.6h-0.6zM235.8 98.5h0.6v0.6h-0.6zM236.0 98.4h0.6v0.6h-0.6zM236.1 98.6h0.6v0.6h-0.6zM239.0 98.5h0.6v0.6h-0.6zM243.8 98.3h0.6v0.6h-0.6zM246.1 98.2h0.6v0.6h-0.6zM254.4 98.7h0.6v0.6h-0.6zM260.0 98.5h0.6v0.6h-0.6zM259.8 98.5h0.6v0.6h-0.6zM265.5 98.6h0.6v0.6h-0.6zM265.8 98.4h0.6v0.6h-0.6zM267.9 98.3h0.6v0.6h-0.6zM188.8 98.9h0.6v0.6h-0.6zM191.3 98.9h0.6v0.6h-0.6zM194.1 99.1h0.6v0.6h-0.6zM194.8 99.1h0.6v0.6h-0.6zM201.3 99.1h0.6v0.6h-0.6zM202.4 99.2h0.6v0.6h-0.6zM208.8 99.1h0.6v0.6h-0.6zM209.9 99.0h0.6v0.6h-0.6zM214.0 98.8h0.6v0.6h-0.6zM214.6 98.9h0.6v0.6h-0.6zM214.9 99.0h0.6v0.6h-0.6zM215.5 99.0h0.6v0.6h-0.6zM215.2 98.8h0.6v0.6h-0.6zM225.0 99.0h0.6v0.6h-0.6zM226.5 98.9h0.6v0.6h-0.6zM230.2 98.9h0.6v0.6h-0.6zM237.0 98.8h0.6v0.6h-0.6zM237.6 98.7h0.6v0.6h-0.6zM251.4 98.9h0.6v0.6h-0.6zM252.5 99.0h0.6v0.6h-0.6zM257.1 98.8h0.6v0.6h-0.6zM199.9 99.2h0.6v0.6h-0.6zM200.0 99.6h0.6v0.6h-0.6zM200.6 99.3h0.6v0.6h-0.6zM202.2 99.2h0.6v0.6h-0.6zM206.4 99.5h0.6v0.6h-0.6zM206.9 99.6h0.6v0.6h-0.6zM207.3 99.6h0.6v0.6h-0.6zM211.5 99.3h0.6v0.6h-0.6zM215.1 99.4h0.6v0.6h-0.6zM221.1 99.5h0.6v0.6h-0.6zM230.0 99.5h0.6v0.6h-0.6zM242.7 99.5h0.6v0.6h-0.6zM244.3 99.2h0.6v0.6h-0.6zM254.4 99.3h0.6v0.6h-0.6zM265.6 99.2h0.6v0.6h-0.6zM267.9 99.6h0.6v0.6h-0.6zM198.6 99.9h0.6v0.6h-0.6zM216.4 99.9h0.6v0.6h-0.6zM224.8 99.9h0.6v0.6h-0.6zM234.4 100.1h0.6v0.6h-0.6zM237.4 99.8h0.6v0.6h-0.6zM247.7 100.0h0.6v0.6h-0.6zM254.5 100.0h0.6v0.6h-0.6zM268.9 100.0h0.6v0.6h-0.6zM269.5 99.8h0.6v0.6h-0.6zM272.4 100.1h0.6v0.6h-0.6zM209.9 100.4h0.6v0.6h-0.6zM229.3 100.6h0.6v0.6h-0.6zM230.5 100.4h0.6v0.6h-0.6zM231.7 100.3h0.6v0.6h-0.6zM243.6 100.3h0.6v0.6h-0.6zM251.7 100.3h0.6v0.6h-0.6zM260.6 100.5h0.6v0.6h-0.6zM265.3 100.4h0.6v0.6h-0.6zM188.9 100.8h0.6v0.6h-0.6zM199.7 100.8h0.6v0.6h-0.6zM217.0 101.0h0.6v0.6h-0.6zM237.4 101.2h0.6v0.6h-0.6zM190.5 101.2h0.6v0.6h-0.6zM202.2 101.5h0.6v0.6h-0.6zM232.0 101.4h0.6v0.6h-0.6zM248.3 101.2h0.6v0.6h-0.6zM206.1 102.2h0.6v0.6h-0.6zM210.1 102.1h0.6v0.6h-0.6zM225.6 101.8h0.6v0.6h-0.6zM195.7 102.4h0.6v0.6h-0.6zM197.2 102.4h0.6v0.6h-0.6zM244.8 102.3h0.6v0.6h-0.6zM253.3 102.5h0.6v0.6h-0.6zM253.9 102.7h0.6v0.6h-0.6zM205.3 103.1h0.6v0.6h-0.6zM209.4 103.5h0.6v0.6h-0.6zM273.5 103.3h0.6v0.6h-0.6z"/>
<path d="M188.8,97 C193,91.3 199,90.4 204,90.8 C212,91.4 219.5,94 224,97 L221,97.9 C212,97.8 198,97.9 188.8,97.9 Z" fill="#fff" stroke="#333" stroke-width="0.8"/>
<path d="M193,94.2 C200,92.4 210,92.8 218,95.6" fill="none" stroke="#999" stroke-width="0.5"/>
<rect x="184.5" y="97.5" width="37.5" height="1.6" fill="#333"/>
<rect x="185.0" y="95.2" width="3.4" height="4.8" fill="#333"/>
<path fill="#1a1a1a" d="M360.8 39.7h0.6v0.6h-0.6zM344.6 43.8h0.6v0.6h-0.6zM384.3 45.3h0.6v0.6h-0.6zM395.9 56.1h0.6v0.6h-0.6zM321.9 56.8h0.6v0.6h-0.6zM333.2 57.6h0.6v0.6h-0.6zM340.2 57.4h0.6v0.6h-0.6zM333.2 57.9h0.6v0.6h-0.6zM339.9 58.4h0.6v0.6h-0.6zM344.6 59.2h0.6v0.6h-0.6zM337.9 60.0h0.6v0.6h-0.6zM333.9 60.3h0.6v0.6h-0.6zM337.2 61.6h0.6v0.6h-0.6zM342.7 61.5h0.6v0.6h-0.6zM339.2 61.8h0.6v0.6h-0.6zM335.5 62.2h0.6v0.6h-0.6zM319.6 62.8h0.6v0.6h-0.6zM346.7 62.9h0.6v0.6h-0.6zM334.2 63.5h0.6v0.6h-0.6zM334.6 63.6h0.6v0.6h-0.6zM336.0 63.7h0.6v0.6h-0.6zM339.7 63.6h0.6v0.6h-0.6zM336.9 64.0h0.6v0.6h-0.6zM334.8 64.6h0.6v0.6h-0.6zM335.4 64.7h0.6v0.6h-0.6zM334.5 65.7h0.6v0.6h-0.6zM331.9 65.8h0.6v0.6h-0.6zM334.8 65.7h0.6v0.6h-0.6zM337.7 66.6h0.6v0.6h-0.6zM335.6 67.2h0.6v0.6h-0.6zM336.0 67.7h0.6v0.6h-0.6zM338.5 67.3h0.6v0.6h-0.6zM338.7 67.6h0.6v0.6h-0.6zM365.6 67.2h0.6v0.6h-0.6zM332.2 68.1h0.6v0.6h-0.6zM336.7 68.2h0.6v0.6h-0.6zM337.8 68.0h0.6v0.6h-0.6zM342.5 67.9h0.6v0.6h-0.6zM393.7 67.9h0.6v0.6h-0.6zM336.7 68.6h0.6v0.6h-0.6zM338.0 68.6h0.6v0.6h-0.6zM348.0 68.5h0.6v0.6h-0.6zM329.1 69.0h0.6v0.6h-0.6zM336.7 69.1h0.6v0.6h-0.6zM346.4 68.9h0.6v0.6h-0.6zM331.9 69.3h0.6v0.6h-0.6zM333.4 69.4h0.6v0.6h-0.6zM335.0 69.4h0.6v0.6h-0.6zM329.8 70.1h0.6v0.6h-0.6zM332.1 69.8h0.6v0.6h-0.6zM338.3 70.1h0.6v0.6h-0.6zM339.1 69.8h0.6v0.6h-0.6zM347.3 69.9h0.6v0.6h-0.6zM337.7 70.3h0.6v0.6h-0.6zM339.8 70.3h0.6v0.6h-0.6zM332.5 71.1h0.6v0.6h-0.6zM336.0 71.0h0.6v0.6h-0.6zM341.4 71.0h0.6v0.6h-0.6zM348.4 71.0h0.6v0.6h-0.6zM349.9 70.8h0.6v0.6h-0.6zM349.8 71.2h0.6v0.6h-0.6zM357.9 70.7h0.6v0.6h-0.6zM335.7 71.4h0.6v0.6h-0.6zM336.7 71.2h0.6v0.6h-0.6zM336.9 71.2h0.6v0.6h-0.6zM346.1 71.6h0.6v0.6h-0.6zM334.1 71.9h0.6v0.6h-0.6zM335.2 71.7h0.6v0.6h-0.6zM335.7 72.1h0.6v0.6h-0.6zM337.0 71.7h0.6v0.6h-0.6zM343.4 71.8h0.6v0.6h-0.6zM344.1 72.0h0.6v0.6h-0.6zM344.8 71.8h0.6v0.6h-0.6zM346.2 72.0h0.6v0.6h-0.6zM348.1 72.0h0.6v0.6h-0.6zM356.1 72.0h0.6v0.6h-0.6zM336.4 72.5h0.6v0.6h-0.6zM338.5 72.3h0.6v0.6h-0.6zM339.1 72.3h0.6v0.6h-0.6zM349.6 72.3h0.6v0.6h-0.6zM333.8 73.0h0.6v0.6h-0.6zM348.6 72.9h0.6v0.6h-0.6zM347.5 73.4h0.6v0.6h-0.6zM327.1 74.2h0.6v0.6h-0.6zM332.1 74.1h0.6v0.6h-0.6zM333.5 73.7h0.6v0.6h-0.6zM336.2 73.8h0.6v0.6h-0.6zM341.9 73.8h0.6v0.6h-0.6zM343.9 73.9h0.6v0.6h-0.6zM346.1 74.1h0.6v0.6h-0.6zM353.7 73.9h0.6v0.6h-0.6zM335.3 74.3h0.6v0.6h-0.6zM346.0 74.7h0.6v0.6h-0.6zM346.7 74.7h0.6v0.6h-0.6zM349.5 75.1h0.6v0.6h-0.6zM333.8 75.6h0.6v0.6h-0.6zM345.3 75.4h0.6v0.6h-0.6zM347.3 75.6h0.6v0.6h-0.6zM348.7 75.4h0.6v0.6h-0.6zM336.0 76.2h0.6v0.6h-0.6zM342.9 75.8h0.6v0.6h-0.6zM342.9 76.0h0.6v0.6h-0.6zM343.4 76.0h0.6v0.6h-0.6zM344.2 76.1h0.6v0.6h-0.6zM354.2 75.8h0.6v0.6h-0.6zM334.2 76.3h0.6v0.6h-0.6zM334.9 76.5h0.6v0.6h-0.6zM343.4 76.3h0.6v0.6h-0.6zM345.4 76.7h0.6v0.6h-0.6zM346.4 76.5h0.6v0.6h-0.6zM346.9 76.4h0.6v0.6h-0.6zM347.4 76.4h0.6v0.6h-0.6zM347.4 76.3h0.6v0.6h-0.6zM347.3 76.6h0.6v0.6h-0.6zM337.0 77.1h0.6v0.6h-0.6zM338.0 77.1h0.6v0.6h-0.6zM343.7 76.9h0.6v0.6h-0.6zM344.6 77.2h0.6v0.6h-0.6zM345.8 77.0h0.6v0.6h-0.6zM375.2 77.1h0.6v0.6h-0.6zM334.6 77.6h0.6v0.6h-0.6zM342.4 77.3h0.6v0.6h-0.6zM347.5 77.7h0.6v0.6h-0.6zM350.1 77.3h0.6v0.6h-0.6zM350.4 77.6h0.6v0.6h-0.6zM333.7 78.1h0.6v0.6h-0.6zM335.4 78.1h0.6v0.6h-0.6zM336.6 78.1h0.6v0.6h-0.6zM337.4 78.0h0.6v0.6h-0.6zM338.4 77.9h0.6v0.6h-0.6zM345.8 77.8h0.6v0.6h-0.6zM346.8 77.8h0.6v0.6h-0.6zM333.6 78.7h0.6v0.6h-0.6zM333.2 78.3h0.6v0.6h-0.6zM334.9 78.2h0.6v0.6h-0.6zM336.6 78.5h0.6v0.6h-0.6zM339.5 78.3h0.6v0.6h-0.6zM342.5 78.3h0.6v0.6h-0.6zM345.4 78.4h0.6v0.6h-0.6zM346.3 78.2h0.6v0.6h-0.6zM346.8 78.3h0.6v0.6h-0.6zM349.3 78.3h0.6v0.6h-0.6zM349.8 78.6h0.6v0.6h-0.6zM333.9 78.8h0.6v0.6h-0.6zM337.4 79.0h0.6v0.6h-0.6zM337.8 78.7h0.6v0.6h-0.6zM346.4 78.9h0.6v0.6h-0.6zM346.4 79.0h0.6v0.6h-0.6zM347.2 78.7h0.6v0.6h-0.6zM352.4 78.7h0.6v0.6h-0.6zM359.4 79.2h0.6v0.6h-0.6zM333.9 79.5h0.6v0.6h-0.6zM337.6 79.4h0.6v0.6h-0.6zM346.6 79.5h0.6v0.6h-0.6zM346.7 79.4h0.6v0.6h-0.6zM348.7 79.7h0.6v0.6h-0.6zM352.9 79.6h0.6v0.6h-0.6zM359.1 79.5h0.6v0.6h-0.6zM329.8 79.7h0.6v0.6h-0.6zM335.8 79.9h0.6v0.6h-0.6zM336.7 79.8h0.6v0.6h-0.6zM337.7 79.9h0.6v0.6h-0.6zM342.4 79.9h0.6v0.6h-0.6zM345.0 79.8h0.6v0.6h-0.6zM346.3 79.8h0.6v0.6h-0.6zM347.0 79.9h0.6v0.6h-0.6zM347.5 80.2h0.6v0.6h-0.6zM348.2 80.1h0.6v0.6h-0.6zM350.8 79.8h0.6v0.6h-0.6zM333.3 80.3h0.6v0.6h-0.6zM342.1 80.3h0.6v0.6h-0.6zM342.3 80.3h0.6v0.6h-0.6zM343.3 80.7h0.6v0.6h-0.6zM345.3 80.3h0.6v0.6h-0.6zM346.6 80.3h0.6v0.6h-0.6zM336.0 80.9h0.6v0.6h-0.6zM337.7 81.1h0.6v0.6h-0.6zM337.9 81.2h0.6v0.6h-0.6zM337.8 80.9h0.6v0.6h-0.6zM345.4 80.7h0.6v0.6h-0.6zM348.0 81.2h0.6v0.6h-0.6zM350.8 81.2h0.6v0.6h-0.6zM332.6 81.7h0.6v0.6h-0.6zM334.8 81.6h0.6v0.6h-0.6zM337.7 81.3h0.6v0.6h-0.6zM337.8 81.2h0.6v0.6h-0.6zM343.2 81.4h0.6v0.6h-0.6zM344.7 81.4h0.6v0.6h-0.6zM345.9 81.6h0.6v0.6h-0.6zM347.4 81.3h0.6v0.6h-0.6zM347.6 81.6h0.6v0.6h-0.6zM365.8 81.5h0.6v0.6h-0.6zM333.1 81.9h0.6v0.6h-0.6zM336.6 81.8h0.6v0.6h-0.6zM337.9 81.8h0.6v0.6h-0.6zM339.6 81.8h0.6v0.6h-0.6zM343.3 81.7h0.6v0.6h-0.6zM346.0 81.9h0.6v0.6h-0.6zM347.4 82.2h0.6v0.6h-0.6zM349.5 81.9h0.6v0.6h-0.6zM369.7 81.8h0.6v0.6h-0.6zM337.7 82.2h0.6v0.6h-0.6zM342.0 82.5h0.6v0.6h-0.6zM342.7 82.5h0.6v0.6h-0.6zM344.7 82.3h0.6v0.6h-0.6zM345.0 82.4h0.6v0.6h-0.6zM346.9 82.6h0.6v0.6h-0.6zM337.3 83.2h0.6v0.6h-0.6zM342.8 82.7h0.6v0.6h-0.6zM353.8 82.9h0.6v0.6h-0.6zM355.6 82.8h0.6v0.6h-0.6zM332.9 83.4h0.6v0.6h-0.6zM335.0 83.5h0.6v0.6h-0.6zM336.0 83.5h0.6v0.6h-0.6zM338.0 83.7h0.6v0.6h-0.6zM342.2 83.5h0.6v0.6h-0.6zM342.4 83.3h0.6v0.6h-0.6zM348.5 83.4h0.6v0.6h-0.6zM348.8 83.3h0.6v0.6h-0.6zM352.4 83.6h0.6v0.6h-0.6zM339.6 84.1h0.6v0.6h-0.6zM342.9 83.7h0.6v0.6h-0.6zM345.1 83.9h0.6v0.6h-0.6zM345.5 83.7h0.6v0.6h-0.6zM347.8 84.0h0.6v0.6h-0.6zM351.8 83.9h0.6v0.6h-0.6zM352.8 84.0h0.6v0.6h-0.6zM354.8 84.0h0.6v0.6h-0.6zM336.4 84.6h0.6v0.6h-0.6zM343.6 84.3h0.6v0.6h-0.6zM343.7 84.6h0.6v0.6h-0.6zM344.4 84.3h0.6v0.6h-0.6zM347.7 84.4h0.6v0.6h-0.6zM353.8 84.4h0.6v0.6h-0.6zM357.0 84.3h0.6v0.6h-0.6zM331.8 85.1h0.6v0.6h-0.6zM335.2 85.0h0.6v0.6h-0.6zM343.7 85.0h0.6v0.6h-0.6zM343.8 84.9h0.6v0.6h-0.6zM345.8 85.0h0.6v0.6h-0.6zM348.6 85.0h0.6v0.6h-0.6zM351.6 85.0h0.6v0.6h-0.6zM335.5 85.6h0.6v0.6h-0.6zM335.7 85.6h0.6v0.6h-0.6zM337.6 85.3h0.6v0.6h-0.6zM346.1 85.4h0.6v0.6h-0.6zM348.0 85.2h0.6v0.6h-0.6zM350.3 85.5h0.6v0.6h-0.6zM350.7 85.3h0.6v0.6h-0.6zM333.4 86.0h0.6v0.6h-0.6zM333.9 85.8h0.6v0.6h-0.6zM338.7 86.0h0.6v0.6h-0.6zM342.7 85.8h0.6v0.6h-0.6zM346.6 86.0h0.6v0.6h-0.6zM348.8 85.8h0.6v0.6h-0.6zM349.8 85.9h0.6v0.6h-0.6zM350.7 85.8h0.6v0.6h-0.6zM352.3 85.8h0.6v0.6h-0.6zM367.3 86.0h0.6v0.6h-0.6zM334.9 86.6h0.6v0.6h-0.6zM334.8 86.6h0.6v0.6h-0.6zM342.7 86.2h0.6v0.6h-0.6zM343.2 86.3h0.6v0.6h-0.6zM344.7 86.4h0.6v0.6h-0.6zM350.5 86.2h0.6v0.6h-0.6zM356.2 86.4h0.6v0.6h-0.6zM335.3 86.8h0.6v0.6h-0.6zM341.6 86.8h0.6v0.6h-0.6zM342.5 86.9h0.6v0.6h-0.6zM345.5 86.7h0.6v0.6h-0.6zM345.5 86.7h0.6v0.6h-0.6zM345.7 87.0h0.6v0.6h-0.6zM346.6 87.0h0.6v0.6h-0.6zM347.6 86.9h0.6v0.6h-0.6zM331.5 87.5h0.6v0.6h-0.6zM334.2 87.3h0.6v0.6h-0.6zM341.9 87.2h0.6v0.6h-0.6zM342.7 87.4h0.6v0.6h-0.6zM344.5 87.5h0.6v0.6h-0.6zM336.2 88.0h0.6v0.6h-0.6zM333.1 88.7h0.6v0.6h-0.6zM338.7 88.5h0.6v0.6h-0.6zM340.1 88.5h0.6v0.6h-0.6zM340.6 88.3h0.6v0.6h-0.6zM343.1 88.5h0.6v0.6h-0.6zM343.3 88.6h0.6v0.6h-0.6zM351.4 88.6h0.6v0.6h-0.6zM334.3 89.1h0.6v0.6h-0.6zM334.5 88.7h0.6v0.6h-0.6zM335.8 89.1h0.6v0.6h-0.6zM336.2 88.7h0.6v0.6h-0.6zM342.1 88.8h0.6v0.6h-0.6zM345.0 89.0h0.6v0.6h-0.6zM346.2 88.8h0.6v0.6h-0.6zM332.7 89.2h0.6v0.6h-0.6zM347.1 89.2h0.6v0.6h-0.6zM343.3 89.9h0.6v0.6h-0.6zM343.8 90.0h0.6v0.6h-0.6zM334.9 90.5h0.6v0.6h-0.6zM336.0 90.7h0.6v0.6h-0.6zM338.4 90.7h0.6v0.6h-0.6zM348.4 90.7h0.6v0.6h-0.6zM334.8 91.2h0.6v0.6h-0.6zM344.8 90.7h0.6v0.6h-0.6zM346.5 90.9h0.6v0.6h-0.6zM332.2 91.2h0.6v0.6h-0.6zM340.4 91.6h0.6v0.6h-0.6zM344.1 91.3h0.6v0.6h-0.6zM345.6 91.5h0.6v0.6h-0.6zM351.7 91.3h0.6v0.6h-0.6zM336.6 92.1h0.6v0.6h-0.6zM345.0 91.9h0.6v0.6h-0.6zM345.4 91.8h0.6v0.6h-0.6zM346.0 91.8h0.6v0.6h-0.6zM346.1 92.0h0.6v0.6h-0.6zM346.0 91.8h0.6v0.6h-0.6zM333.8 92.3h0.6v0.6h-0.6zM334.6 92.3h0.6v0.6h-0.6zM347.4 92.6h0.6v0.6h-0.6zM338.7 92.8h0.6v0.6h-0.6zM342.8 92.9h0.6v0.6h-0.6zM343.4 92.7h0.6v0.6h-0.6zM338.9 93.3h0.6v0.6h-0.6zM342.0 93.2h0.6v0.6h-0.6zM342.9 93.3h0.6v0.6h-0.6zM344.1 93.7h0.6v0.6h-0.6zM345.6 93.6h0.6v0.6h-0.6zM348.4 93.2h0.6v0.6h-0.6zM333.0 94.2h0.6v0.6h-0.6zM348.0 94.0h0.6v0.6h-0.6zM348.1 93.7h0.6v0.6h-0.6zM335.3 94.3h0.6v0.6h-0.6zM337.7 94.5h0.6v0.6h-0.6zM339.0 94.3h0.6v0.6h-0.6zM360.8 94.4h0.6v0.6h-0.6zM332.5 94.9h0.6v0.6h-0.6zM339.5 95.4h0.6v0.6h-0.6zM348.4 95.4h0.6v0.6h-0.6zM333.6 96.1h0.6v0.6h-0.6zM337.2 95.8h0.6v0.6h-0.6zM344.1 96.2h0.6v0.6h-0.6zM375.2 95.7h0.6v0.6h-0.6zM340.8 96.5h0.6v0.6h-0.6zM342.8 96.6h0.6v0.6h-0.6zM347.1 96.6h0.6v0.6h-0.6zM347.4 96.7h0.6v0.6h-0.6zM332.2 96.9h0.6v0.6h-0.6zM337.7 97.1h0.6v0.6h-0.6zM338.1 96.9h0.6v0.6h-0.6zM342.3 96.8h0.6v0.6h-0.6zM342.7 97.1h0.6v0.6h-0.6zM347.6 96.8h0.6v0.6h-0.6zM321.5 97.6h0.6v0.6h-0.6zM340.4 97.5h0.6v0.6h-0.6zM342.4 97.6h0.6v0.6h-0.6zM346.5 97.4h0.6v0.6h-0.6zM347.6 97.2h0.6v0.6h-0.6zM347.3 97.6h0.6v0.6h-0.6zM334.7 98.0h0.6v0.6h-0.6zM340.1 97.9h0.6v0.6h-0.6zM343.7 97.8h0.6v0.6h-0.6zM377.1 97.7h0.6v0.6h-0.6zM342.2 98.6h0.6v0.6h-0.6zM322.5 99.0h0.6v0.6h-0.6zM339.6 99.0h0.6v0.6h-0.6zM337.1 99.6h0.6v0.6h-0.6zM355.2 99.6h0.6v0.6h-0.6zM370.4 99.8h0.6v0.6h-0.6zM335.2 100.2h0.6v0.6h-0.6zM335.7 100.6h0.6v0.6h-0.6zM343.7 100.4h0.6v0.6h-0.6zM332.2 101.0h0.6v0.6h-0.6zM334.5 100.8h0.6v0.6h-0.6zM337.3 101.0h0.6v0.6h-0.6zM337.8 101.2h0.6v0.6h-0.6zM345.7 101.3h0.6v0.6h-0.6zM337.1 102.6h0.6v0.6h-0.6zM369.2 104.2h0.6v0.6h-0.6zM370.6 106.4h0.6v0.6h-0.6zM342.4 108.1h0.6v0.6h-0.6zM391.3 108.3h0.6v0.6h-0.6zM336.3 111.2h0.6v0.6h-0.6zM320.2 114.0h0.6v0.6h-0.6zM359.1 113.7h0.6v0.6h-0.6zM394.7 117.8h0.6v0.6h-0.6z"/>
<path d="M331.6,72 C331.8,65 334.5,58.3 336.6,58.3 C338.8,58.3 340.8,65 341,72 L341,96 C340.8,100.5 338.5,102.6 336.3,102.6 C334,102.6 331.8,100.5 331.6,96 Z" fill="#7a7a7a" fill-opacity="0.7"/>
<path d="M332.9,72 L332.9,100.5" stroke="#111" stroke-width="1.5"/>
<path d="M339.9,80 L339.9,97" stroke="#222" stroke-width="1.1"/>
<path d="M334.6,63 L334.6,101 M336.4,60 L336.4,101.5 M338.2,62 L338.2,101" stroke="#444" stroke-width="0.5" stroke-dasharray="1.6 0.9"/>
<path d="M333.5,88 L340.5,88 M333.5,92 L340.5,92" stroke="#333" stroke-width="0.6"/>
<rect x="311.2" y="97.6" width="1.8" height="4" fill="#111"/>
<rect x="331.5" y="119.5" width="3.4" height="2" fill="#111"/>
<path fill="#1a1a1a" d="M501.9 31.6h0.6v0.6h-0.6zM511.9 31.5h0.6v0.6h-0.6zM508.9 33.1h0.6v0.6h-0.6zM505.1 33.6h0.6v0.6h-0.6zM474.9 35.3h0.6v0.6h-0.6zM485.5 35.2h0.6v0.6h-0.6zM490.1 35.5h0.6v0.6h-0.6zM484.1 35.9h0.6v0.6h-0.6zM483.1 36.5h0.6v0.6h-0.6zM453.4 37.2h0.6v0.6h-0.6zM460.1 36.8h0.6v0.6h-0.6zM460.6 37.1h0.6v0.6h-0.6zM467.8 37.3h0.6v0.6h-0.6zM481.1 37.3h0.6v0.6h-0.6zM490.4 37.3h0.6v0.6h-0.6zM476.8 37.8h0.6v0.6h-0.6zM489.4 37.8h0.6v0.6h-0.6zM463.7 38.7h0.6v0.6h-0.6zM475.1 38.5h0.6v0.6h-0.6zM487.4 38.6h0.6v0.6h-0.6zM483.1 38.9h0.6v0.6h-0.6zM505.5 39.1h0.6v0.6h-0.6zM438.4 39.6h0.6v0.6h-0.6zM485.6 39.5h0.6v0.6h-0.6zM492.3 39.8h0.6v0.6h-0.6zM495.0 40.1h0.6v0.6h-0.6zM502.1 39.8h0.6v0.6h-0.6zM452.2 40.6h0.6v0.6h-0.6zM487.1 40.6h0.6v0.6h-0.6zM492.5 40.4h0.6v0.6h-0.6zM485.1 41.0h0.6v0.6h-0.6zM507.7 40.9h0.6v0.6h-0.6zM513.8 40.9h0.6v0.6h-0.6zM460.2 41.2h0.6v0.6h-0.6zM486.1 41.5h0.6v0.6h-0.6zM462.2 42.1h0.6v0.6h-0.6zM464.3 41.7h0.6v0.6h-0.6zM466.7 42.0h0.6v0.6h-0.6zM471.9 42.0h0.6v0.6h-0.6zM477.3 41.8h0.6v0.6h-0.6zM491.1 42.2h0.6v0.6h-0.6zM497.2 41.9h0.6v0.6h-0.6zM496.0 42.3h0.6v0.6h-0.6zM441.5 43.2h0.6v0.6h-0.6zM462.9 42.8h0.6v0.6h-0.6zM465.4 43.1h0.6v0.6h-0.6zM489.5 43.0h0.6v0.6h-0.6zM499.3 43.1h0.6v0.6h-0.6zM463.2 43.2h0.6v0.6h-0.6zM497.2 43.5h0.6v0.6h-0.6zM486.3 44.4h0.6v0.6h-0.6zM486.6 44.3h0.6v0.6h-0.6zM449.4 44.8h0.6v0.6h-0.6zM496.1 44.9h0.6v0.6h-0.6zM497.9 44.8h0.6v0.6h-0.6zM504.7 44.8h0.6v0.6h-0.6zM450.6 45.3h0.6v0.6h-0.6zM460.2 45.6h0.6v0.6h-0.6zM479.7 45.2h0.6v0.6h-0.6zM499.6 45.3h0.6v0.6h-0.6zM505.9 45.4h0.6v0.6h-0.6zM454.3 45.8h0.6v0.6h-0.6zM457.0 45.8h0.6v0.6h-0.6zM473.5 45.7h0.6v0.6h-0.6zM476.7 46.1h0.6v0.6h-0.6zM489.6 45.7h0.6v0.6h-0.6zM465.2 46.2h0.6v0.6h-0.6zM466.3 46.3h0.6v0.6h-0.6zM473.2 46.7h0.6v0.6h-0.6zM482.6 46.4h0.6v0.6h-0.6zM492.0 46.5h0.6v0.6h-0.6zM496.3 46.6h0.6v0.6h-0.6zM514.3 46.6h0.6v0.6h-0.6zM515.5 46.5h0.6v0.6h-0.6zM480.6 46.9h0.6v0.6h-0.6zM482.3 47.2h0.6v0.6h-0.6zM488.6 47.1h0.6v0.6h-0.6zM494.4 46.7h0.6v0.6h-0.6zM496.0 46.9h0.6v0.6h-0.6zM480.7 47.6h0.6v0.6h-0.6zM483.7 47.4h0.6v0.6h-0.6zM486.8 47.5h0.6v0.6h-0.6zM453.1 47.9h0.6v0.6h-0.6zM479.6 48.0h0.6v0.6h-0.6zM482.2 47.8h0.6v0.6h-0.6zM492.5 48.2h0.6v0.6h-0.6zM506.7 48.1h0.6v0.6h-0.6zM509.3 47.9h0.6v0.6h-0.6zM471.3 48.2h0.6v0.6h-0.6zM479.0 48.3h0.6v0.6h-0.6zM480.7 48.3h0.6v0.6h-0.6zM483.2 48.4h0.6v0.6h-0.6zM491.1 48.3h0.6v0.6h-0.6zM492.6 48.7h0.6v0.6h-0.6zM498.1 48.4h0.6v0.6h-0.6zM492.3 48.9h0.6v0.6h-0.6zM466.1 49.5h0.6v0.6h-0.6zM478.2 49.5h0.6v0.6h-0.6zM486.6 49.6h0.6v0.6h-0.6zM505.8 49.5h0.6v0.6h-0.6zM511.2 49.3h0.6v0.6h-0.6zM448.2 50.1h0.6v0.6h-0.6zM484.5 49.9h0.6v0.6h-0.6zM489.6 49.9h0.6v0.6h-0.6zM492.1 50.2h0.6v0.6h-0.6zM495.2 50.2h0.6v0.6h-0.6zM466.9 50.5h0.6v0.6h-0.6zM487.3 50.6h0.6v0.6h-0.6zM491.7 50.3h0.6v0.6h-0.6zM494.9 50.3h0.6v0.6h-0.6zM501.9 50.4h0.6v0.6h-0.6zM507.3 50.6h0.6v0.6h-0.6zM477.3 50.7h0.6v0.6h-0.6zM477.8 50.7h0.6v0.6h-0.6zM478.4 51.0h0.6v0.6h-0.6zM466.2 51.2h0.6v0.6h-0.6zM472.2 51.7h0.6v0.6h-0.6zM480.9 51.5h0.6v0.6h-0.6zM478.8 52.0h0.6v0.6h-0.6zM477.7 52.4h0.6v0.6h-0.6zM484.2 52.5h0.6v0.6h-0.6zM502.2 52.5h0.6v0.6h-0.6zM512.9 52.3h0.6v0.6h-0.6zM473.4 52.7h0.6v0.6h-0.6zM477.2 53.1h0.6v0.6h-0.6zM486.7 53.1h0.6v0.6h-0.6zM447.4 53.7h0.6v0.6h-0.6zM471.5 53.6h0.6v0.6h-0.6zM475.4 53.2h0.6v0.6h-0.6zM488.4 53.3h0.6v0.6h-0.6zM481.9 54.2h0.6v0.6h-0.6zM498.1 53.8h0.6v0.6h-0.6zM505.5 53.8h0.6v0.6h-0.6zM468.9 54.5h0.6v0.6h-0.6zM472.1 54.7h0.6v0.6h-0.6zM475.9 54.4h0.6v0.6h-0.6zM485.3 54.5h0.6v0.6h-0.6zM486.1 54.3h0.6v0.6h-0.6zM487.2 54.7h0.6v0.6h-0.6zM488.1 54.7h0.6v0.6h-0.6zM487.8 54.2h0.6v0.6h-0.6zM488.9 54.5h0.6v0.6h-0.6zM490.9 54.2h0.6v0.6h-0.6zM494.5 54.6h0.6v0.6h-0.6zM510.8 54.5h0.6v0.6h-0.6zM470.3 54.8h0.6v0.6h-0.6zM478.0 55.0h0.6v0.6h-0.6zM485.9 55.1h0.6v0.6h-0.6zM485.7 55.1h0.6v0.6h-0.6zM494.5 54.9h0.6v0.6h-0.6zM496.6 55.0h0.6v0.6h-0.6zM462.7 55.3h0.6v0.6h-0.6zM475.9 55.7h0.6v0.6h-0.6zM478.6 55.2h0.6v0.6h-0.6zM488.3 55.7h0.6v0.6h-0.6zM496.6 55.3h0.6v0.6h-0.6zM455.4 55.9h0.6v0.6h-0.6zM472.7 55.9h0.6v0.6h-0.6zM478.0 55.8h0.6v0.6h-0.6zM483.6 56.0h0.6v0.6h-0.6zM491.2 56.0h0.6v0.6h-0.6zM496.1 56.1h0.6v0.6h-0.6zM468.7 56.5h0.6v0.6h-0.6zM474.5 56.5h0.6v0.6h-0.6zM482.6 56.4h0.6v0.6h-0.6zM483.1 56.3h0.6v0.6h-0.6zM486.7 56.4h0.6v0.6h-0.6zM489.7 56.4h0.6v0.6h-0.6zM467.7 57.0h0.6v0.6h-0.6zM483.0 57.1h0.6v0.6h-0.6zM483.4 56.9h0.6v0.6h-0.6zM487.5 56.9h0.6v0.6h-0.6zM498.3 56.8h0.6v0.6h-0.6zM452.0 57.4h0.6v0.6h-0.6zM471.7 57.7h0.6v0.6h-0.6zM478.8 57.4h0.6v0.6h-0.6zM489.5 57.5h0.6v0.6h-0.6zM490.3 57.3h0.6v0.6h-0.6zM507.9 57.5h0.6v0.6h-0.6zM453.1 57.8h0.6v0.6h-0.6zM457.0 57.8h0.6v0.6h-0.6zM475.7 58.1h0.6v0.6h-0.6zM493.0 58.1h0.6v0.6h-0.6zM493.3 58.0h0.6v0.6h-0.6zM502.7 58.0h0.6v0.6h-0.6zM481.3 58.3h0.6v0.6h-0.6zM490.0 58.6h0.6v0.6h-0.6zM504.5 58.2h0.6v0.6h-0.6zM506.3 58.4h0.6v0.6h-0.6zM519.6 58.5h0.6v0.6h-0.6zM457.0 58.9h0.6v0.6h-0.6zM459.1 59.2h0.6v0.6h-0.6zM468.1 58.9h0.6v0.6h-0.6zM480.9 58.9h0.6v0.6h-0.6zM489.3 59.2h0.6v0.6h-0.6zM489.3 59.0h0.6v0.6h-0.6zM505.1 58.9h0.6v0.6h-0.6zM463.4 59.4h0.6v0.6h-0.6zM468.0 59.3h0.6v0.6h-0.6zM478.4 59.3h0.6v0.6h-0.6zM482.9 59.4h0.6v0.6h-0.6zM486.5 59.5h0.6v0.6h-0.6zM486.8 59.7h0.6v0.6h-0.6zM490.6 59.4h0.6v0.6h-0.6zM491.5 59.4h0.6v0.6h-0.6zM495.6 59.5h0.6v0.6h-0.6zM499.1 59.3h0.6v0.6h-0.6zM511.4 59.6h0.6v0.6h-0.6zM464.2 59.7h0.6v0.6h-0.6zM469.2 59.9h0.6v0.6h-0.6zM479.1 59.7h0.6v0.6h-0.6zM488.3 60.0h0.6v0.6h-0.6zM493.7 59.9h0.6v0.6h-0.6zM496.5 59.9h0.6v0.6h-0.6zM497.6 60.0h0.6v0.6h-0.6zM476.2 60.4h0.6v0.6h-0.6zM481.8 60.6h0.6v0.6h-0.6zM491.7 60.4h0.6v0.6h-0.6zM491.8 60.6h0.6v0.6h-0.6zM508.5 60.2h0.6v0.6h-0.6zM438.8 60.9h0.6v0.6h-0.6zM460.6 61.1h0.6v0.6h-0.6zM470.1 61.2h0.6v0.6h-0.6zM485.2 60.8h0.6v0.6h-0.6zM495.0 61.0h0.6v0.6h-0.6zM448.2 61.6h0.6v0.6h-0.6zM475.4 61.6h0.6v0.6h-0.6zM475.7 61.6h0.6v0.6h-0.6zM486.4 61.6h0.6v0.6h-0.6zM487.5 61.3h0.6v0.6h-0.6zM495.3 61.4h0.6v0.6h-0.6zM465.3 62.1h0.6v0.6h-0.6zM479.4 62.0h0.6v0.6h-0.6zM485.4 61.8h0.6v0.6h-0.6zM494.3 61.9h0.6v0.6h-0.6zM445.4 62.5h0.6v0.6h-0.6zM458.2 62.2h0.6v0.6h-0.6zM478.7 62.4h0.6v0.6h-0.6zM478.9 62.7h0.6v0.6h-0.6zM486.9 62.5h0.6v0.6h-0.6zM489.8 62.4h0.6v0.6h-0.6zM499.1 62.2h0.6v0.6h-0.6zM503.7 62.3h0.6v0.6h-0.6zM450.1 62.7h0.6v0.6h-0.6zM466.0 62.9h0.6v0.6h-0.6zM482.9 62.9h0.6v0.6h-0.6zM495.6 62.7h0.6v0.6h-0.6zM459.9 63.6h0.6v0.6h-0.6zM472.1 63.5h0.6v0.6h-0.6zM480.2 63.4h0.6v0.6h-0.6zM503.6 63.2h0.6v0.6h-0.6zM465.5 63.8h0.6v0.6h-0.6zM471.1 63.8h0.6v0.6h-0.6zM474.3 63.8h0.6v0.6h-0.6zM478.0 64.1h0.6v0.6h-0.6zM480.5 63.8h0.6v0.6h-0.6zM486.6 64.2h0.6v0.6h-0.6zM487.6 64.0h0.6v0.6h-0.6zM489.5 64.0h0.6v0.6h-0.6zM493.7 63.7h0.6v0.6h-0.6zM477.3 64.2h0.6v0.6h-0.6zM478.8 64.4h0.6v0.6h-0.6zM483.7 64.3h0.6v0.6h-0.6zM484.5 64.4h0.6v0.6h-0.6zM486.1 64.7h0.6v0.6h-0.6zM501.4 64.3h0.6v0.6h-0.6zM469.8 64.7h0.6v0.6h-0.6zM472.1 65.0h0.6v0.6h-0.6zM477.1 65.0h0.6v0.6h-0.6zM499.4 65.1h0.6v0.6h-0.6zM443.8 65.6h0.6v0.6h-0.6zM452.0 65.2h0.6v0.6h-0.6zM457.8 65.5h0.6v0.6h-0.6zM462.5 65.6h0.6v0.6h-0.6zM470.6 65.4h0.6v0.6h-0.6zM474.7 65.3h0.6v0.6h-0.6zM487.7 65.6h0.6v0.6h-0.6zM492.6 65.2h0.6v0.6h-0.6zM494.8 65.5h0.6v0.6h-0.6zM458.6 65.9h0.6v0.6h-0.6zM459.9 66.1h0.6v0.6h-0.6zM461.3 66.0h0.6v0.6h-0.6zM461.7 65.8h0.6v0.6h-0.6zM473.6 65.9h0.6v0.6h-0.6zM476.5 66.0h0.6v0.6h-0.6zM479.9 65.8h0.6v0.6h-0.6zM481.1 65.9h0.6v0.6h-0.6zM482.7 66.0h0.6v0.6h-0.6zM494.0 65.9h0.6v0.6h-0.6zM496.1 66.0h0.6v0.6h-0.6zM498.6 65.8h0.6v0.6h-0.6zM498.7 66.0h0.6v0.6h-0.6zM448.9 66.6h0.6v0.6h-0.6zM464.0 66.6h0.6v0.6h-0.6zM480.6 66.5h0.6v0.6h-0.6zM490.7 66.3h0.6v0.6h-0.6zM468.9 67.1h0.6v0.6h-0.6zM490.4 66.8h0.6v0.6h-0.6zM508.1 67.0h0.6v0.6h-0.6zM452.2 67.3h0.6v0.6h-0.6zM477.5 67.5h0.6v0.6h-0.6zM479.0 67.5h0.6v0.6h-0.6zM484.6 67.3h0.6v0.6h-0.6zM445.8 68.0h0.6v0.6h-0.6zM458.4 67.7h0.6v0.6h-0.6zM474.1 67.7h0.6v0.6h-0.6zM481.8 68.1h0.6v0.6h-0.6zM512.0 67.9h0.6v0.6h-0.6zM442.8 68.7h0.6v0.6h-0.6zM461.6 68.3h0.6v0.6h-0.6zM464.5 68.5h0.6v0.6h-0.6zM466.3 68.4h0.6v0.6h-0.6zM469.8 68.6h0.6v0.6h-0.6zM480.8 68.6h0.6v0.6h-0.6zM487.4 68.6h0.6v0.6h-0.6zM504.3 68.6h0.6v0.6h-0.6zM468.3 69.2h0.6v0.6h-0.6zM481.5 69.0h0.6v0.6h-0.6zM483.6 68.8h0.6v0.6h-0.6zM485.6 69.1h0.6v0.6h-0.6zM486.9 69.1h0.6v0.6h-0.6zM495.0 68.7h0.6v0.6h-0.6zM463.7 69.6h0.6v0.6h-0.6zM466.3 69.3h0.6v0.6h-0.6zM473.0 69.3h0.6v0.6h-0.6zM477.3 69.7h0.6v0.6h-0.6zM493.3 69.6h0.6v0.6h-0.6zM474.4 70.1h0.6v0.6h-0.6zM474.8 70.0h0.6v0.6h-0.6zM460.9 70.4h0.6v0.6h-0.6zM466.5 70.5h0.6v0.6h-0.6zM469.1 70.5h0.6v0.6h-0.6zM463.6 70.9h0.6v0.6h-0.6zM473.0 71.0h0.6v0.6h-0.6zM475.0 70.8h0.6v0.6h-0.6zM477.1 71.2h0.6v0.6h-0.6zM482.8 70.9h0.6v0.6h-0.6zM459.6 71.5h0.6v0.6h-0.6zM470.9 71.6h0.6v0.6h-0.6zM477.1 71.7h0.6v0.6h-0.6zM466.9 72.1h0.6v0.6h-0.6zM468.8 72.0h0.6v0.6h-0.6zM473.5 72.1h0.6v0.6h-0.6zM475.8 72.0h0.6v0.6h-0.6zM481.5 72.0h0.6v0.6h-0.6zM490.4 71.9h0.6v0.6h-0.6zM458.1 72.2h0.6v0.6h-0.6zM459.8 72.5h0.6v0.6h-0.6zM464.1 72.3h0.6v0.6h-0.6zM513.6 72.3h0.6v0.6h-0.6zM516.0 72.3h0.6v0.6h-0.6zM452.5 73.0h0.6v0.6h-0.6zM454.1 73.0h0.6v0.6h-0.6zM473.9 73.1h0.6v0.6h-0.6zM476.7 72.8h0.6v0.6h-0.6zM478.3 73.0h0.6v0.6h-0.6zM484.0 72.8h0.6v0.6h-0.6zM483.8 72.8h0.6v0.6h-0.6zM485.9 73.0h0.6v0.6h-0.6zM487.6 72.9h0.6v0.6h-0.6zM449.6 73.7h0.6v0.6h-0.6zM466.2 73.5h0.6v0.6h-0.6zM467.1 73.7h0.6v0.6h-0.6zM468.4 73.6h0.6v0.6h-0.6zM475.2 73.5h0.6v0.6h-0.6zM476.9 73.4h0.6v0.6h-0.6zM480.6 73.6h0.6v0.6h-0.6zM487.0 73.3h0.6v0.6h-0.6zM487.3 73.6h0.6v0.6h-0.6zM439.8 73.8h0.6v0.6h-0.6zM457.5 74.1h0.6v0.6h-0.6zM459.1 73.7h0.6v0.6h-0.6zM465.0 73.7h0.6v0.6h-0.6zM465.2 73.8h0.6v0.6h-0.6zM476.9 73.9h0.6v0.6h-0.6zM489.1 73.9h0.6v0.6h-0.6zM495.0 74.0h0.6v0.6h-0.6zM510.6 73.8h0.6v0.6h-0.6zM453.7 74.2h0.6v0.6h-0.6zM460.1 74.2h0.6v0.6h-0.6zM463.3 74.4h0.6v0.6h-0.6zM478.7 74.7h0.6v0.6h-0.6zM478.6 74.3h0.6v0.6h-0.6zM483.4 74.6h0.6v0.6h-0.6zM490.5 74.6h0.6v0.6h-0.6zM508.0 74.7h0.6v0.6h-0.6zM446.3 74.9h0.6v0.6h-0.6zM452.8 74.8h0.6v0.6h-0.6zM470.5 75.0h0.6v0.6h-0.6zM480.6 75.0h0.6v0.6h-0.6zM481.3 75.2h0.6v0.6h-0.6zM491.3 74.7h0.6v0.6h-0.6zM459.1 75.3h0.6v0.6h-0.6zM459.6 75.3h0.6v0.6h-0.6zM474.0 75.6h0.6v0.6h-0.6zM475.0 75.2h0.6v0.6h-0.6zM475.4 75.2h0.6v0.6h-0.6zM482.9 75.4h0.6v0.6h-0.6zM489.5 75.3h0.6v0.6h-0.6zM458.2 75.8h0.6v0.6h-0.6zM469.0 76.1h0.6v0.6h-0.6zM474.8 75.9h0.6v0.6h-0.6zM479.0 75.9h0.6v0.6h-0.6zM481.9 76.1h0.6v0.6h-0.6zM482.5 76.0h0.6v0.6h-0.6zM486.3 75.8h0.6v0.6h-0.6zM506.6 75.7h0.6v0.6h-0.6zM445.4 76.5h0.6v0.6h-0.6zM462.6 76.6h0.6v0.6h-0.6zM468.4 76.5h0.6v0.6h-0.6zM468.4 76.5h0.6v0.6h-0.6zM470.6 76.6h0.6v0.6h-0.6zM484.5 76.4h0.6v0.6h-0.6zM486.5 76.6h0.6v0.6h-0.6zM488.9 76.2h0.6v0.6h-0.6zM495.2 76.6h0.6v0.6h-0.6zM496.7 76.5h0.6v0.6h-0.6zM498.8 76.4h0.6v0.6h-0.6zM457.3 77.0h0.6v0.6h-0.6zM460.4 76.9h0.6v0.6h-0.6zM465.3 76.8h0.6v0.6h-0.6zM478.0 76.7h0.6v0.6h-0.6zM486.5 76.9h0.6v0.6h-0.6zM497.0 76.9h0.6v0.6h-0.6zM459.5 77.3h0.6v0.6h-0.6zM460.4 77.3h0.6v0.6h-0.6zM463.6 77.6h0.6v0.6h-0.6zM469.1 77.3h0.6v0.6h-0.6zM481.4 77.7h0.6v0.6h-0.6zM503.1 77.5h0.6v0.6h-0.6zM436.7 77.7h0.6v0.6h-0.6zM456.3 78.0h0.6v0.6h-0.6zM460.3 78.1h0.6v0.6h-0.6zM465.9 78.1h0.6v0.6h-0.6zM471.7 77.8h0.6v0.6h-0.6zM472.6 78.1h0.6v0.6h-0.6zM472.8 78.2h0.6v0.6h-0.6zM475.6 77.9h0.6v0.6h-0.6zM484.6 78.2h0.6v0.6h-0.6zM499.0 77.9h0.6v0.6h-0.6zM435.3 78.7h0.6v0.6h-0.6zM439.3 78.4h0.6v0.6h-0.6zM450.4 78.5h0.6v0.6h-0.6zM462.1 78.2h0.6v0.6h-0.6zM462.8 78.6h0.6v0.6h-0.6zM473.1 78.5h0.6v0.6h-0.6zM485.3 78.6h0.6v0.6h-0.6zM500.0 78.3h0.6v0.6h-0.6zM515.3 78.4h0.6v0.6h-0.6zM448.7 79.1h0.6v0.6h-0.6zM453.4 79.1h0.6v0.6h-0.6zM454.5 79.2h0.6v0.6h-0.6zM459.4 79.1h0.6v0.6h-0.6zM468.9 78.9h0.6v0.6h-0.6zM473.5 78.9h0.6v0.6h-0.6zM476.0 78.9h0.6v0.6h-0.6zM481.4 79.2h0.6v0.6h-0.6zM496.5 78.8h0.6v0.6h-0.6zM444.7 79.6h0.6v0.6h-0.6zM463.6 79.7h0.6v0.6h-0.6zM466.6 79.7h0.6v0.6h-0.6zM468.4 79.5h0.6v0.6h-0.6zM473.1 79.3h0.6v0.6h-0.6zM490.7 79.5h0.6v0.6h-0.6zM503.4 79.6h0.6v0.6h-0.6zM513.9 79.2h0.6v0.6h-0.6zM459.1 79.7h0.6v0.6h-0.6zM467.3 80.0h0.6v0.6h-0.6zM469.6 80.1h0.6v0.6h-0.6zM470.1 80.0h0.6v0.6h-0.6zM445.6 80.3h0.6v0.6h-0.6zM453.4 80.2h0.6v0.6h-0.6zM471.6 80.3h0.6v0.6h-0.6zM472.4 80.3h0.6v0.6h-0.6zM473.9 80.2h0.6v0.6h-0.6zM475.5 80.4h0.6v0.6h-0.6zM484.6 80.5h0.6v0.6h-0.6zM492.0 80.4h0.6v0.6h-0.6zM499.0 80.3h0.6v0.6h-0.6zM440.1 81.2h0.6v0.6h-0.6zM461.8 80.7h0.6v0.6h-0.6zM471.2 80.9h0.6v0.6h-0.6zM501.9 81.2h0.6v0.6h-0.6zM454.8 81.5h0.6v0.6h-0.6zM466.4 81.7h0.6v0.6h-0.6zM473.7 81.5h0.6v0.6h-0.6zM494.2 81.2h0.6v0.6h-0.6zM453.9 82.0h0.6v0.6h-0.6zM455.7 81.9h0.6v0.6h-0.6zM455.4 81.8h0.6v0.6h-0.6zM457.7 82.1h0.6v0.6h-0.6zM467.4 81.9h0.6v0.6h-0.6zM468.8 82.0h0.6v0.6h-0.6zM479.1 82.0h0.6v0.6h-0.6zM481.0 82.1h0.6v0.6h-0.6zM486.5 81.7h0.6v0.6h-0.6zM447.2 82.7h0.6v0.6h-0.6zM450.5 82.3h0.6v0.6h-0.6zM470.5 82.5h0.6v0.6h-0.6zM475.2 82.6h0.6v0.6h-0.6zM480.3 82.6h0.6v0.6h-0.6zM487.7 82.2h0.6v0.6h-0.6zM499.1 82.5h0.6v0.6h-0.6zM506.3 82.7h0.6v0.6h-0.6zM508.4 82.3h0.6v0.6h-0.6zM451.0 83.1h0.6v0.6h-0.6zM456.7 83.0h0.6v0.6h-0.6zM464.6 82.7h0.6v0.6h-0.6zM466.6 83.2h0.6v0.6h-0.6zM466.7 83.1h0.6v0.6h-0.6zM470.3 83.0h0.6v0.6h-0.6zM474.8 82.9h0.6v0.6h-0.6zM513.8 82.8h0.6v0.6h-0.6zM446.6 83.5h0.6v0.6h-0.6zM452.4 83.4h0.6v0.6h-0.6zM454.6 83.6h0.6v0.6h-0.6zM464.0 83.3h0.6v0.6h-0.6zM469.9 83.3h0.6v0.6h-0.6zM470.6 83.6h0.6v0.6h-0.6zM475.1 83.7h0.6v0.6h-0.6zM480.5 83.5h0.6v0.6h-0.6zM484.1 83.6h0.6v0.6h-0.6zM501.6 83.3h0.6v0.6h-0.6zM445.5 84.1h0.6v0.6h-0.6zM453.3 84.1h0.6v0.6h-0.6zM454.2 83.7h0.6v0.6h-0.6zM472.8 83.8h0.6v0.6h-0.6zM438.8 84.6h0.6v0.6h-0.6zM441.9 84.2h0.6v0.6h-0.6zM453.7 84.5h0.6v0.6h-0.6zM460.1 84.2h0.6v0.6h-0.6zM467.9 84.2h0.6v0.6h-0.6zM475.9 84.5h0.6v0.6h-0.6zM490.4 84.2h0.6v0.6h-0.6zM497.0 84.6h0.6v0.6h-0.6zM448.0 84.9h0.6v0.6h-0.6zM459.4 85.0h0.6v0.6h-0.6zM466.6 85.1h0.6v0.6h-0.6zM472.6 84.7h0.6v0.6h-0.6zM472.3 85.2h0.6v0.6h-0.6zM479.3 85.0h0.6v0.6h-0.6zM449.0 85.5h0.6v0.6h-0.6zM448.8 85.3h0.6v0.6h-0.6zM456.1 85.6h0.6v0.6h-0.6zM456.6 85.4h0.6v0.6h-0.6zM479.7 85.4h0.6v0.6h-0.6zM491.6 85.3h0.6v0.6h-0.6zM509.9 85.5h0.6v0.6h-0.6zM438.8 86.2h0.6v0.6h-0.6zM445.1 86.0h0.6v0.6h-0.6zM460.1 86.1h0.6v0.6h-0.6zM463.8 85.7h0.6v0.6h-0.6zM449.0 86.7h0.6v0.6h-0.6zM457.9 86.6h0.6v0.6h-0.6zM440.7 86.8h0.6v0.6h-0.6zM441.1 86.8h0.6v0.6h-0.6zM455.3 87.0h0.6v0.6h-0.6zM434.5 87.5h0.6v0.6h-0.6zM455.1 87.3h0.6v0.6h-0.6zM457.6 87.2h0.6v0.6h-0.6zM471.1 87.3h0.6v0.6h-0.6zM470.9 87.3h0.6v0.6h-0.6zM483.4 87.3h0.6v0.6h-0.6zM442.7 88.0h0.6v0.6h-0.6zM465.3 87.9h0.6v0.6h-0.6zM472.8 88.0h0.6v0.6h-0.6zM472.9 87.9h0.6v0.6h-0.6zM483.2 88.1h0.6v0.6h-0.6zM455.9 88.6h0.6v0.6h-0.6zM461.9 88.2h0.6v0.6h-0.6zM478.9 88.7h0.6v0.6h-0.6zM479.4 88.4h0.6v0.6h-0.6zM440.9 88.9h0.6v0.6h-0.6zM442.3 88.9h0.6v0.6h-0.6zM442.3 89.2h0.6v0.6h-0.6zM445.9 88.8h0.6v0.6h-0.6zM448.2 88.8h0.6v0.6h-0.6zM472.6 88.7h0.6v0.6h-0.6zM517.1 89.0h0.6v0.6h-0.6zM447.5 89.7h0.6v0.6h-0.6zM457.7 89.3h0.6v0.6h-0.6zM461.7 89.5h0.6v0.6h-0.6zM480.4 89.4h0.6v0.6h-0.6zM493.9 89.5h0.6v0.6h-0.6zM445.6 89.9h0.6v0.6h-0.6zM450.5 90.0h0.6v0.6h-0.6zM455.2 89.9h0.6v0.6h-0.6zM466.5 89.9h0.6v0.6h-0.6zM479.5 89.8h0.6v0.6h-0.6zM455.1 90.6h0.6v0.6h-0.6zM456.8 90.3h0.6v0.6h-0.6zM458.1 90.4h0.6v0.6h-0.6zM467.7 90.2h0.6v0.6h-0.6zM493.7 90.6h0.6v0.6h-0.6zM495.9 90.2h0.6v0.6h-0.6zM503.6 90.6h0.6v0.6h-0.6zM458.5 91.0h0.6v0.6h-0.6zM458.8 90.7h0.6v0.6h-0.6zM466.1 91.1h0.6v0.6h-0.6zM482.3 90.9h0.6v0.6h-0.6zM445.6 91.4h0.6v0.6h-0.6zM453.1 91.2h0.6v0.6h-0.6zM455.4 91.5h0.6v0.6h-0.6zM460.9 91.4h0.6v0.6h-0.6zM467.6 91.5h0.6v0.6h-0.6zM476.1 91.4h0.6v0.6h-0.6zM520.6 91.3h0.6v0.6h-0.6zM447.7 92.2h0.6v0.6h-0.6zM447.7 92.0h0.6v0.6h-0.6zM451.2 92.1h0.6v0.6h-0.6zM457.8 92.1h0.6v0.6h-0.6zM444.8 92.3h0.6v0.6h-0.6zM462.5 92.5h0.6v0.6h-0.6zM476.8 92.4h0.6v0.6h-0.6zM516.7 92.6h0.6v0.6h-0.6zM457.1 92.8h0.6v0.6h-0.6zM463.1 93.1h0.6v0.6h-0.6zM466.1 92.8h0.6v0.6h-0.6zM455.5 93.3h0.6v0.6h-0.6zM457.6 93.3h0.6v0.6h-0.6zM462.2 93.5h0.6v0.6h-0.6zM472.4 93.3h0.6v0.6h-0.6zM477.6 93.4h0.6v0.6h-0.6zM439.7 93.9h0.6v0.6h-0.6zM453.3 94.1h0.6v0.6h-0.6zM459.2 93.8h0.6v0.6h-0.6zM470.5 94.0h0.6v0.6h-0.6zM470.3 94.2h0.6v0.6h-0.6zM470.9 93.7h0.6v0.6h-0.6zM471.0 93.9h0.6v0.6h-0.6zM444.4 94.5h0.6v0.6h-0.6zM463.8 94.5h0.6v0.6h-0.6zM449.6 95.0h0.6v0.6h-0.6zM454.3 94.7h0.6v0.6h-0.6zM457.8 95.2h0.6v0.6h-0.6zM459.0 94.8h0.6v0.6h-0.6zM467.5 94.9h0.6v0.6h-0.6zM472.3 95.0h0.6v0.6h-0.6zM486.4 94.8h0.6v0.6h-0.6zM445.3 95.7h0.6v0.6h-0.6zM447.8 95.5h0.6v0.6h-0.6zM466.5 95.4h0.6v0.6h-0.6zM450.2 95.9h0.6v0.6h-0.6zM458.2 95.9h0.6v0.6h-0.6zM460.3 95.8h0.6v0.6h-0.6zM464.7 96.0h0.6v0.6h-0.6zM445.7 96.6h0.6v0.6h-0.6zM448.9 96.5h0.6v0.6h-0.6zM453.0 96.6h0.6v0.6h-0.6zM469.1 96.6h0.6v0.6h-0.6zM455.2 97.1h0.6v0.6h-0.6zM457.9 97.1h0.6v0.6h-0.6zM462.4 97.1h0.6v0.6h-0.6zM472.2 96.8h0.6v0.6h-0.6zM451.1 97.5h0.6v0.6h-0.6zM451.4 97.5h0.6v0.6h-0.6zM451.3 97.5h0.6v0.6h-0.6zM453.3 97.3h0.6v0.6h-0.6zM456.3 97.6h0.6v0.6h-0.6zM458.3 97.4h0.6v0.6h-0.6zM465.2 97.5h0.6v0.6h-0.6zM476.2 97.5h0.6v0.6h-0.6zM451.8 97.8h0.6v0.6h-0.6zM454.0 98.2h0.6v0.6h-0.6zM465.6 97.9h0.6v0.6h-0.6zM457.0 98.6h0.6v0.6h-0.6zM463.7 98.5h0.6v0.6h-0.6zM445.2 99.4h0.6v0.6h-0.6zM520.1 99.4h0.6v0.6h-0.6zM507.9 101.3h0.6v0.6h-0.6zM508.9 101.5h0.6v0.6h-0.6zM500.8 103.5h0.6v0.6h-0.6zM506.7 103.2h0.6v0.6h-0.6zM437.2 105.2h0.6v0.6h-0.6zM434.6 105.6h0.6v0.6h-0.6zM477.7 106.6h0.6v0.6h-0.6zM440.6 109.1h0.6v0.6h-0.6zM506.0 108.8h0.6v0.6h-0.6zM511.1 108.8h0.6v0.6h-0.6zM478.0 111.3h0.6v0.6h-0.6zM505.0 111.7h0.6v0.6h-0.6zM517.8 112.0h0.6v0.6h-0.6zM449.1 112.2h0.6v0.6h-0.6zM448.9 116.0h0.6v0.6h-0.6zM448.6 116.8h0.6v0.6h-0.6zM507.9 117.6h0.6v0.6h-0.6z"/>
<g fill="none" stroke="#555" stroke-width="0.55"><path d="M449.8,98.2 C448.5,90.0 448.3,84.0 449.2,80.7 C450.0,75.0 451.5,72.0 453.3,69.1 C456.0,65.0 458.5,62.0 461.5,59.8 C465.0,57.0 469.0,54.5 473.1,52.8 C477.0,51.0 481.0,49.6 484.7,48.7 C488.0,48.0 491.5,47.4 494.0,47.6 C496.5,48.0 497.0,50.0 495.8,51.6 C494.5,55.0 492.5,59.0 490.6,62.1 C488.0,65.0 485.0,66.5 482.4,68.0 C479.5,70.0 477.0,72.0 475.4,73.8 C473.5,75.5 472.0,77.5 470.8,79.6 C469.5,82.0 468.3,84.5 467.3,86.6 C465.5,90.0 463.5,93.5 461.5,95.9 C460.0,97.6 458.5,99.0 456.8,99.4 C454.0,100.0 451.0,99.7 449.8,98.2 Z"/><path d="M451.5,96.6 C450.4,89.2 450.2,83.8 451.0,80.8 C451.7,75.7 453.1,73.0 454.7,70.4 C457.1,66.7 459.4,64.0 462.1,62.0 C465.2,59.5 468.8,57.2 472.5,55.7 C476.0,54.1 479.6,52.8 482.9,52.0 C485.9,51.4 489.1,50.9 491.3,51.0 C493.6,51.4 494.0,53.2 492.9,54.6 C491.8,57.7 489.9,61.3 488.2,64.1 C485.9,66.7 483.2,68.0 480.9,69.4 C478.2,71.2 476.0,73.0 474.6,74.6 C472.9,76.1 471.5,78.0 470.4,79.8 C469.2,82.0 468.2,84.2 467.3,86.1 C465.6,89.2 463.9,92.3 462.1,94.5 C460.7,96.0 459.4,97.3 457.8,97.7 C455.3,98.2 452.6,97.9 451.5,96.6 Z"/><path d="M453.2,95.0 C452.2,88.4 452.0,83.6 452.8,81.0 C453.4,76.4 454.6,74.0 456.0,71.7 C458.2,68.4 460.2,66.0 462.6,64.2 C465.4,62.0 468.6,60.0 471.9,58.6 C475.0,57.2 478.2,56.1 481.2,55.4 C483.8,54.8 486.6,54.3 488.6,54.5 C490.6,54.8 491.0,56.4 490.0,57.7 C489.0,60.4 487.4,63.6 485.9,66.1 C483.8,68.4 481.4,69.6 479.3,70.8 C477.0,72.4 475.0,74.0 473.7,75.4 C472.2,76.8 471.0,78.4 470.0,80.1 C469.0,82.0 468.0,84.0 467.2,85.7 C465.8,88.4 464.2,91.2 462.6,93.1 C461.4,94.5 460.2,95.6 458.8,95.9 C456.6,96.4 454.2,96.2 453.2,95.0 Z"/><path d="M455.1,93.3 C454.2,87.7 454.1,83.6 454.7,81.4 C455.2,77.5 456.3,75.4 457.5,73.5 C459.3,70.7 461.0,68.6 463.1,67.1 C465.4,65.2 468.2,63.5 470.9,62.4 C473.6,61.2 476.3,60.2 478.8,59.6 C481.1,59.1 483.5,58.7 485.2,58.8 C486.9,59.1 487.2,60.5 486.4,61.6 C485.5,63.9 484.1,66.6 482.8,68.7 C481.1,70.7 479.0,71.7 477.3,72.7 C475.3,74.1 473.6,75.4 472.5,76.7 C471.2,77.8 470.2,79.2 469.4,80.6 C468.5,82.2 467.7,83.9 467.0,85.4 C465.8,87.7 464.4,90.1 463.1,91.7 C462.0,92.8 461.0,93.8 459.9,94.1 C458.0,94.5 455.9,94.3 455.1,93.3 Z"/><path d="M457.2,91.5 C456.5,87.0 456.4,83.7 456.9,81.9 C457.3,78.8 458.1,77.1 459.1,75.5 C460.6,73.2 462.0,71.6 463.6,70.4 C465.5,68.9 467.8,67.5 470.0,66.5 C472.1,65.5 474.3,64.8 476.4,64.3 C478.2,63.9 480.1,63.6 481.5,63.7 C482.9,63.9 483.1,65.0 482.5,65.9 C481.8,67.8 480.7,70.0 479.6,71.7 C478.2,73.2 476.5,74.1 475.1,74.9 C473.5,76.0 472.1,77.1 471.3,78.1 C470.2,79.0 469.4,80.1 468.7,81.3 C468.0,82.6 467.4,84.0 466.8,85.1 C465.8,87.0 464.7,88.9 463.6,90.2 C462.8,91.2 462.0,92.0 461.0,92.2 C459.5,92.5 457.8,92.3 457.2,91.5 Z"/><path d="M481.5,58.5 C484.5,54 489.5,51.3 491,52.3 C492.3,53.7 489.5,57.6 486,60.6 C483.4,62.7 481.2,61.4 481.5,58.5 Z"/><path d="M475,64 C480,58 487,54.5 492,53.5"/></g>
<path d="M450.5,97 C449.5,90 450.5,82 453,76 C455,72 459,70.5 462,72 C465,74 464.5,80 462.5,85 C460.5,90 458.5,96 455,98.5 C453,99.3 451,98.8 450.5,97 Z" fill="#3a3a3a" fill-opacity="0.5"/>
<g fill="none" stroke="#222" stroke-width="0.7"><path d="M451.6,96 C450.8,90 451.5,82 454,77 C456,73.5 458.5,72.5 460.5,73.5"/><path d="M453.2,95 C452.6,90 453.2,84 455.2,79.5 C457,76 459,75.5 460.5,76.5 C462,78 461,82 459.5,85"/><ellipse cx="454.3" cy="93" rx="3.3" ry="4.6" transform="rotate(10 454.3 93)"/></g>
<ellipse cx="458.6" cy="78.3" rx="0.8" ry="3.2" transform="rotate(24 458.6 78.3)" fill="#f4f4f4"/>
<ellipse cx="454.2" cy="93.3" rx="0.8" ry="2.0" transform="rotate(10 454.2 93.3)" fill="#f4f4f4"/>
<rect x="431.6" y="97.8" width="2.2" height="3.2" fill="#111"/>
<rect x="451.8" y="119.5" width="3.4" height="2" fill="#111"/>
<rect x="187.20" y="56.20" width="25.10" height="28.10" fill="none" stroke="#6f86c2" stroke-width="1.0"/>
<rect x="214.10" y="56.20" width="59.70" height="28.10" fill="none" stroke="#d64a4a" stroke-width="1.0"/>
<polyline points="189.3,84.3 189.3,114.6 291.5,114.6" fill="none" stroke="#4a6cc0" stroke-width="1.0"/>
<polygon points="296.0,114.6 290.3,112.2 290.3,117.0" fill="#3e5cb8"/>
<polyline points="254.8,56.2 254.8,39.4 412.5,39.4" fill="none" stroke="#dd4b4b" stroke-width="1.0"/>
<polygon points="417.0,39.4 411.0,37.0 411.0,41.8" fill="#e02020"/>
<rect x="328.20" y="43.10" width="13.50" height="42.30" fill="none" stroke="#d6cf7c" stroke-width="1.0"/>
<rect x="343.40" y="43.10" width="45.20" height="61.50" fill="none" stroke="#b07a7a" stroke-width="1.0"/>
<rect x="328.20" y="87.10" width="13.50" height="28.40" fill="none" stroke="#222" stroke-width="1.0"/>
<text x="333.40" y="52.60" font-size="7.6" text-anchor="middle" fill="#333">I</text>
<text x="381.60" y="52.60" font-size="7.6" text-anchor="middle" fill="#333">II</text>
<text x="333.60" y="112.60" font-size="7.6" text-anchor="middle" fill="#222">0</text>
<rect x="445.50" y="34.40" width="24.50" height="52.00" fill="none" stroke="#e08080" stroke-width="1.0"/>
<rect x="470.60" y="34.40" width="45.00" height="50.90" fill="none" stroke="#dd3c46" stroke-width="1.0"/>
<rect x="445.50" y="87.20" width="23.40" height="24.30" fill="none" stroke="#9a9a62" stroke-width="1.0"/>
<text x="453.00" y="43.80" font-size="7.6" text-anchor="middle" fill="#333">IV</text>
<text x="508.60" y="43.80" font-size="7.6" text-anchor="middle" fill="#333">V</text>
<text x="462.20" y="107.80" font-size="7.6" text-anchor="middle" fill="#444" letter-spacing="0.3">III</text>
</svg>
</body></html>
